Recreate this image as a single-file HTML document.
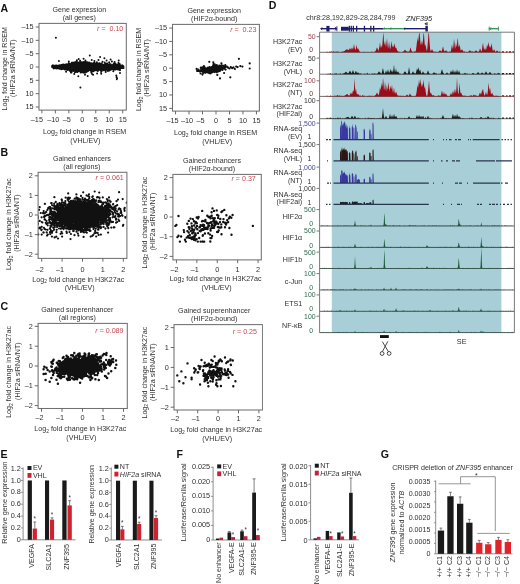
<!DOCTYPE html>
<html><head><meta charset="utf-8"><style>html,body{margin:0;padding:0;background:#fff;}svg{display:block;}</style></head>
<body><svg width="520" height="584" viewBox="0 0 520 584">
<g font-family="'Liberation Sans', sans-serif"><text x="0.6" y="11.5" font-size="10.6" font-weight="bold" fill="#111">A</text><clipPath id="cl1"><rect x="39" y="23.4" width="87.3" height="86.7"/></clipPath><g clip-path="url(#cl1)"><path d="M96.7 68.0h0M116.2 64.6h0M107.5 69.3h0M68.0 67.8h0M73.4 66.2h0M114.5 65.6h0M52.2 65.8h0M110.7 65.1h0M109.0 67.8h0M85.4 66.3h0M73.6 64.8h0M71.8 66.1h0M70.1 69.5h0M83.8 66.3h0M88.0 65.9h0M91.5 69.3h0M123.2 67.3h0M108.7 67.1h0M96.4 66.0h0M122.7 66.0h0M67.3 65.4h0M63.3 66.5h0M95.8 66.6h0M55.0 67.3h0M54.4 67.4h0M88.8 67.4h0M85.3 67.5h0M117.6 65.7h0M97.0 63.3h0M88.7 66.0h0M87.5 65.1h0M69.6 66.0h0M52.7 66.8h0M65.6 65.5h0M101.5 65.3h0M66.2 66.9h0M78.3 67.3h0M52.1 66.5h0M111.4 67.7h0M62.9 66.8h0M71.0 65.3h0M115.0 67.1h0M88.4 70.6h0M112.6 66.1h0M97.7 69.0h0M105.0 69.0h0M58.4 68.2h0M90.6 65.6h0M88.2 70.9h0M114.3 67.2h0M77.7 66.4h0M94.7 66.6h0M56.1 67.5h0M79.6 67.1h0M75.0 66.6h0M62.6 68.3h0M110.4 66.0h0M79.0 64.7h0M122.0 67.5h0M94.1 68.2h0M95.2 68.9h0M97.6 65.2h0M100.3 68.8h0M62.7 67.5h0M83.4 70.9h0M69.0 65.1h0M80.7 67.5h0M58.8 66.8h0M121.2 65.9h0M67.3 66.0h0M100.0 68.8h0M73.4 66.1h0M114.5 66.0h0M99.3 68.5h0M61.3 67.9h0M112.4 68.3h0M119.6 65.9h0M116.6 66.9h0M92.7 68.8h0M62.3 66.3h0M65.6 66.1h0M118.4 68.1h0M91.4 69.7h0M64.8 65.7h0M115.2 63.5h0M97.8 64.5h0M92.7 65.3h0M78.8 66.7h0M81.3 68.4h0M69.0 66.8h0M54.6 66.5h0M114.7 67.2h0M85.4 65.0h0M91.1 66.9h0M74.9 65.7h0M105.7 70.8h0M53.7 67.6h0M78.5 65.1h0M54.0 66.3h0M60.7 66.6h0M121.2 65.9h0M99.0 65.8h0M82.5 65.3h0M89.4 68.6h0M114.4 66.4h0M76.5 65.3h0M94.2 64.7h0M100.9 65.1h0M77.3 66.9h0M89.1 66.6h0M106.7 68.6h0M117.0 66.2h0M62.7 68.1h0M118.8 67.3h0M52.2 67.0h0M105.8 64.1h0M110.0 65.2h0M61.7 67.7h0M81.9 70.2h0M110.3 67.3h0M52.9 67.5h0M96.9 66.3h0M108.7 66.5h0M88.6 65.7h0M103.9 68.4h0M68.1 67.5h0M66.1 66.7h0M77.9 66.3h0M64.7 67.6h0M76.7 67.7h0M119.8 65.9h0M92.9 69.9h0M76.2 67.5h0M71.3 67.0h0M120.1 68.0h0M83.7 69.3h0M122.1 66.9h0M88.8 68.0h0M89.2 65.0h0M116.1 66.1h0M105.1 63.7h0M93.5 69.1h0M82.4 62.7h0M114.8 67.9h0M81.4 65.1h0M118.0 65.7h0M56.8 66.8h0M82.7 67.6h0M89.1 68.1h0M120.0 69.4h0M69.8 67.6h0M109.6 68.2h0M100.3 66.0h0M103.3 68.1h0M97.0 67.3h0M121.5 66.7h0M75.7 66.8h0M80.4 66.9h0M66.4 67.2h0M55.5 67.3h0M67.1 66.3h0M117.5 66.0h0M112.1 68.0h0M59.9 65.5h0M95.1 65.9h0M86.2 70.2h0M94.5 62.4h0M99.1 65.8h0M73.8 68.3h0M120.8 65.9h0M85.2 72.6h0M96.9 62.6h0M97.4 69.5h0M65.0 68.8h0M56.3 67.7h0M81.3 66.5h0M106.6 67.5h0M110.3 65.8h0M104.2 68.2h0M60.0 66.0h0M117.3 66.6h0M109.3 68.4h0M114.8 65.5h0M89.4 66.3h0M117.5 67.2h0M55.2 66.0h0M54.0 67.8h0M53.3 67.2h0M70.0 64.6h0M69.7 66.9h0M65.3 66.1h0M92.5 65.9h0M54.6 67.1h0M94.2 65.8h0M63.7 68.0h0M100.4 65.9h0M53.4 67.7h0M74.1 66.9h0M119.1 68.1h0M90.4 66.1h0M110.0 66.3h0M99.0 65.0h0M95.6 68.0h0M65.6 68.1h0M93.0 70.6h0M54.7 67.9h0M109.3 67.3h0M120.7 66.9h0M113.1 67.5h0M55.5 67.0h0M76.1 70.1h0M74.6 68.9h0M59.9 66.3h0M96.8 65.8h0M109.0 68.9h0M74.3 67.6h0M113.7 66.7h0M109.0 68.6h0M61.1 66.6h0M106.8 66.6h0M115.1 66.4h0M66.0 64.6h0M93.0 68.5h0M97.6 64.9h0M95.5 66.0h0M58.7 66.4h0M99.2 68.2h0M97.1 66.9h0M110.9 67.0h0M109.4 64.7h0M75.3 66.8h0M103.6 64.8h0M114.0 67.4h0M115.9 67.5h0M63.4 67.0h0M53.8 68.5h0M98.5 67.9h0M67.2 67.8h0M92.3 67.2h0M119.6 66.7h0M79.0 69.2h0M70.0 68.8h0M84.6 64.2h0M99.0 68.8h0M59.1 67.4h0M79.1 69.2h0M61.4 67.4h0M99.3 64.9h0M111.4 65.4h0M78.9 71.1h0M78.5 67.6h0M90.5 64.5h0M67.3 67.5h0M69.6 66.4h0M75.5 63.2h0M84.6 62.0h0M57.7 65.7h0M105.8 67.4h0M93.4 66.9h0M73.3 66.5h0M57.4 67.2h0M106.6 67.9h0M61.2 65.0h0M61.4 66.7h0M61.2 66.2h0M57.7 66.0h0M116.8 66.3h0M71.1 66.8h0M73.8 66.5h0M111.5 65.0h0M96.3 66.2h0M65.3 69.4h0M83.0 64.6h0M115.2 64.7h0M78.8 67.6h0M102.8 67.9h0M58.8 67.4h0M104.0 65.3h0M107.5 68.4h0M111.0 65.9h0M100.2 65.1h0M78.4 65.6h0M56.4 66.9h0M89.0 68.3h0M106.1 67.9h0M65.5 67.0h0M70.9 68.6h0M90.3 67.1h0M105.5 68.3h0M116.1 65.1h0M60.9 65.5h0M65.1 67.9h0M109.2 65.1h0M98.1 66.5h0M103.5 66.9h0M123.3 66.7h0M119.2 66.4h0M112.3 68.9h0M107.6 63.5h0M80.2 69.0h0M97.8 70.9h0M65.1 67.0h0M106.3 67.0h0M106.2 68.0h0M103.6 69.7h0M83.7 64.4h0M79.0 67.2h0M81.9 66.6h0M54.2 67.4h0M112.4 67.2h0M90.7 68.1h0M79.6 66.0h0M91.1 67.1h0M103.6 66.0h0M79.2 65.5h0M111.4 66.8h0M117.8 66.8h0M79.6 64.4h0M61.7 68.5h0M106.4 66.8h0M123.0 66.1h0M62.5 68.1h0M102.9 65.9h0M111.0 67.7h0M117.8 67.0h0M60.7 67.2h0M58.4 67.1h0M122.7 66.6h0M60.2 67.0h0M64.5 69.3h0M93.1 63.2h0M83.8 67.1h0M105.6 67.6h0M65.5 65.7h0M117.4 65.2h0M67.4 69.9h0M107.0 66.5h0M56.7 68.6h0M85.8 68.1h0M54.2 67.1h0M74.3 67.9h0M74.2 68.3h0M103.4 68.8h0M84.5 67.9h0M55.9 67.1h0M123.2 67.1h0M115.6 68.8h0M117.5 68.1h0M69.5 65.4h0M80.1 65.6h0M68.1 67.5h0M60.8 66.4h0M54.2 66.7h0M87.9 65.1h0M60.7 66.8h0M64.5 67.5h0M113.5 68.3h0M86.6 67.0h0M65.0 69.4h0M99.9 66.9h0M70.9 72.4h0M89.6 68.8h0M72.1 67.9h0M88.8 66.1h0M96.9 62.2h0M90.3 66.7h0M80.2 67.4h0M108.5 69.7h0M114.5 65.1h0M64.7 69.2h0M61.6 66.8h0M60.0 67.6h0M122.1 65.3h0M119.3 67.2h0M68.4 66.5h0M121.4 67.5h0M66.7 67.1h0M88.2 64.8h0M87.5 68.9h0M117.4 67.9h0M54.8 67.4h0M74.5 69.0h0M94.9 68.9h0M56.6 67.0h0M68.8 65.0h0M85.2 64.0h0M115.0 68.8h0M106.4 68.0h0M111.3 67.1h0M106.4 66.4h0M102.6 67.0h0M112.8 67.0h0M100.7 66.5h0M104.6 66.0h0M73.5 71.1h0M63.9 67.2h0M106.1 66.1h0M63.7 65.6h0M117.8 66.0h0M94.6 68.2h0M75.5 68.6h0M119.0 66.7h0M63.0 67.1h0M88.7 66.4h0M58.4 66.1h0M121.1 67.9h0M93.1 67.6h0M109.5 70.4h0M72.1 65.7h0M109.3 66.8h0M102.2 68.4h0M98.0 66.6h0M120.0 65.1h0M82.9 64.9h0M81.6 67.2h0M101.5 67.5h0M111.7 66.9h0M75.9 69.1h0M99.9 68.6h0M66.8 67.4h0M91.4 67.0h0M107.0 66.6h0M56.5 67.4h0M104.0 68.4h0M53.0 67.0h0M120.5 67.3h0M85.4 66.3h0M81.2 63.8h0M103.5 65.5h0M89.4 68.4h0M104.2 67.7h0M57.9 68.3h0M92.2 67.1h0M91.9 68.5h0M118.7 68.8h0M54.7 67.7h0M84.3 65.7h0M97.1 66.7h0M91.3 67.2h0M57.2 66.2h0M94.4 67.8h0M67.8 68.4h0M65.9 66.4h0M114.8 69.6h0M66.0 66.6h0M84.4 66.6h0M105.6 66.7h0M102.6 65.9h0M91.5 67.7h0M109.7 67.0h0M85.2 70.6h0M96.3 68.0h0M110.6 67.7h0M100.5 66.6h0M97.9 64.6h0M81.0 66.8h0M91.9 65.5h0M80.2 69.2h0M105.2 67.0h0M79.1 70.7h0M85.3 68.6h0M106.0 68.2h0M88.0 67.4h0M76.1 67.4h0M111.1 67.9h0M79.2 69.1h0M112.4 66.0h0M108.1 67.7h0M83.9 72.8h0M103.0 66.9h0M54.3 66.8h0M79.8 65.4h0M113.5 65.0h0M93.4 69.0h0M91.8 67.1h0M99.5 67.5h0M100.4 70.0h0M93.7 71.3h0M82.0 65.0h0M65.0 68.2h0M72.8 68.2h0M72.8 67.7h0M82.7 68.1h0M123.5 67.0h0M77.1 70.4h0M83.9 68.4h0M78.5 67.8h0M93.5 69.1h0M119.8 68.2h0M115.6 67.6h0M78.9 67.7h0M71.0 70.0h0M115.2 67.7h0M87.2 66.8h0M101.0 65.6h0M57.1 66.7h0M114.0 65.6h0M74.3 67.2h0M87.3 67.5h0M66.0 64.4h0M82.0 67.0h0M111.2 67.9h0M111.2 67.2h0M85.8 65.0h0M106.9 68.8h0M84.7 65.5h0M78.6 64.3h0M91.0 65.1h0M66.3 67.0h0M74.5 69.0h0M102.5 68.8h0M107.1 67.3h0M55.9 66.1h0M104.4 66.0h0M110.4 65.8h0M83.8 66.6h0M56.3 65.6h0M100.8 67.2h0M69.5 68.0h0M98.0 66.7h0M78.8 68.0h0M97.5 65.4h0M70.4 64.6h0M86.0 65.7h0M89.5 69.1h0M97.1 68.8h0M66.4 66.4h0M120.8 67.8h0M72.6 66.4h0M73.8 69.9h0M70.2 67.8h0M56.7 66.6h0M82.2 68.8h0M107.2 65.9h0M102.7 65.6h0M65.9 65.2h0M61.7 67.2h0M74.9 66.9h0M106.9 66.9h0M86.8 66.2h0M118.0 68.9h0M98.9 66.3h0M96.4 65.8h0M106.9 68.8h0M105.6 69.0h0M76.5 67.7h0M70.3 64.2h0M83.2 65.7h0M86.9 68.2h0M62.0 67.0h0M83.5 70.5h0M97.7 64.7h0M61.6 67.6h0M61.7 66.4h0M64.3 68.5h0M72.2 66.9h0M120.8 67.7h0M53.7 66.5h0M65.0 65.4h0M63.7 65.8h0M85.9 65.7h0M52.9 66.3h0M84.7 69.6h0M63.5 68.4h0M71.2 67.5h0M108.7 65.6h0M65.0 66.9h0M96.1 65.8h0M81.0 70.3h0M81.8 67.7h0M110.4 67.7h0M63.4 66.6h0M118.1 64.3h0M115.9 66.0h0M99.8 65.2h0M55.4 67.3h0M99.4 67.2h0M94.9 65.6h0M107.2 66.5h0M67.2 69.1h0M120.2 66.4h0M115.4 65.8h0M60.0 66.8h0M74.4 65.6h0M54.2 66.7h0M111.4 67.7h0M117.4 69.3h0M122.8 65.8h0M95.7 67.0h0M99.6 67.1h0M100.5 66.9h0M92.7 66.7h0M120.1 66.8h0M95.4 68.7h0M75.9 66.0h0M88.6 66.8h0M53.2 67.0h0M103.8 67.2h0M101.6 66.7h0M82.0 69.3h0M112.9 67.0h0M106.0 67.2h0M76.0 66.9h0M57.4 66.2h0M61.3 66.2h0M65.1 65.8h0M73.6 67.4h0M83.9 65.4h0M118.4 65.6h0M71.8 67.4h0M116.3 67.7h0M100.6 64.2h0M113.0 69.3h0M80.8 67.1h0M52.1 66.9h0M108.3 68.5h0M69.4 67.1h0M62.1 66.4h0M109.2 70.0h0M101.0 65.3h0M67.1 66.9h0M71.0 68.4h0M119.2 65.6h0M71.1 66.8h0M102.2 67.6h0M61.1 69.2h0M110.3 65.8h0M60.3 67.0h0M88.8 68.2h0M54.4 67.1h0M91.3 64.9h0M112.5 67.6h0M57.9 67.1h0M71.5 67.8h0M106.7 68.6h0M95.4 68.7h0M74.3 67.8h0M96.9 67.5h0M84.4 64.6h0M113.7 66.8h0M72.8 67.4h0M106.2 66.4h0M97.4 67.2h0M104.9 65.8h0M79.0 70.4h0M103.8 70.2h0M101.9 66.4h0M79.6 67.9h0M53.7 66.8h0M120.9 67.8h0M103.0 67.7h0M66.5 67.1h0M104.2 66.7h0M71.8 67.2h0M85.5 64.9h0M113.5 67.9h0M84.0 65.4h0M72.5 68.0h0M73.7 67.3h0M57.4 67.9h0M67.6 67.0h0M71.3 68.8h0M64.2 66.0h0M56.4 67.5h0M85.2 66.5h0M67.2 67.3h0M104.8 67.1h0M118.0 68.3h0M71.4 63.5h0M92.9 67.6h0M88.2 64.1h0M57.2 68.0h0M60.8 65.2h0M115.3 65.7h0M85.8 63.5h0M109.5 69.2h0M56.6 66.0h0M94.5 67.2h0M113.9 66.3h0M114.0 64.6h0M52.3 66.8h0M89.2 68.2h0M78.3 66.6h0M106.3 68.3h0M57.1 66.7h0M70.8 67.0h0M110.1 66.5h0M85.5 67.7h0M84.3 71.2h0M121.3 67.2h0M74.8 67.4h0M54.8 66.5h0M80.0 65.3h0M62.8 68.5h0M57.7 66.1h0M92.6 65.4h0M120.2 66.9h0M93.4 66.3h0M98.2 70.4h0M75.0 62.2h0M92.8 67.6h0M105.8 68.0h0M94.1 65.1h0M109.4 66.1h0M91.3 67.7h0M66.1 69.0h0M93.6 65.4h0M87.0 63.8h0M63.7 68.1h0M96.2 69.6h0M110.4 66.5h0M61.5 64.9h0M90.9 69.5h0M104.4 66.7h0M80.7 69.5h0M71.2 66.9h0M78.5 66.2h0M90.7 66.2h0M101.1 69.3h0M91.9 69.5h0M59.5 65.2h0M110.5 65.7h0M118.1 69.4h0M59.1 66.7h0M69.7 64.9h0M64.3 67.0h0M112.7 66.9h0M117.1 66.9h0M55.0 66.6h0M75.7 66.4h0M65.6 66.4h0M85.5 67.7h0M117.9 65.9h0M56.9 66.8h0M64.1 66.8h0M86.8 69.7h0M89.4 67.7h0M105.3 66.8h0M83.2 68.2h0M62.0 67.4h0M77.2 69.4h0M122.2 67.3h0M105.7 69.6h0M60.2 68.2h0M109.8 66.9h0M74.1 66.2h0M107.9 68.2h0M52.8 67.4h0M114.3 66.9h0M63.5 65.4h0M84.5 63.0h0M99.3 67.6h0M88.3 68.5h0M63.7 67.9h0M61.8 65.8h0M72.2 68.9h0M55.6 66.6h0M67.4 67.5h0M61.2 67.4h0M85.2 65.3h0M77.4 65.7h0M93.9 63.5h0M72.0 65.4h0M54.3 65.7h0M75.6 67.9h0M106.0 67.1h0M70.2 68.5h0M80.8 67.8h0M106.0 66.1h0M81.0 67.8h0M115.4 66.5h0M117.7 67.8h0M74.1 67.6h0M104.6 65.6h0M70.0 67.0h0M61.8 67.1h0M83.2 66.3h0M95.0 68.5h0M118.9 69.3h0M62.3 66.6h0M102.9 66.5h0M85.9 62.3h0M61.3 66.9h0M121.6 66.7h0M101.7 63.6h0M61.1 67.3h0M116.8 67.8h0M59.2 66.4h0M58.5 66.7h0M75.6 65.0h0M119.1 68.0h0M54.2 65.9h0M117.7 66.6h0M95.7 70.3h0M56.7 67.0h0M92.6 67.8h0M84.7 66.7h0M92.3 65.0h0M104.7 67.0h0M100.5 67.7h0M123.3 66.3h0M63.1 67.4h0M110.1 68.7h0M81.3 69.4h0M108.0 64.8h0M115.8 65.7h0M123.0 65.9h0M70.9 68.8h0M84.3 68.3h0M119.4 67.9h0M119.6 65.8h0M78.6 64.4h0M119.2 67.1h0M80.9 67.2h0M78.7 65.1h0M106.1 67.2h0M85.6 68.4h0M84.0 67.5h0M79.5 64.7h0M82.9 62.3h0M61.9 66.7h0M56.2 67.1h0M105.9 66.6h0M92.3 66.3h0M100.0 65.9h0M109.4 68.0h0M68.3 66.9h0M68.6 67.2h0M71.8 65.3h0M73.6 65.8h0M106.4 67.2h0M78.7 64.8h0M75.0 64.4h0M97.5 66.4h0M65.2 68.4h0M59.5 67.2h0M101.8 69.3h0M106.1 66.8h0M73.1 66.4h0M97.4 64.6h0M54.3 66.6h0M80.8 70.3h0M93.3 67.6h0M70.0 68.2h0M76.8 68.5h0M95.5 67.0h0M94.1 66.7h0M62.9 67.1h0M102.5 68.0h0M57.6 67.4h0M121.4 67.3h0M66.4 67.2h0M70.0 65.8h0M66.2 66.7h0M122.9 66.4h0M72.4 68.8h0M95.2 63.4h0M122.9 66.9h0M120.0 70.2h0M54.9 66.7h0M89.2 64.9h0M95.0 67.0h0M102.2 69.0h0M75.9 66.7h0M75.4 68.3h0M52.2 67.1h0M54.4 66.7h0M91.3 72.4h0M57.3 67.1h0M66.4 66.3h0M75.7 66.0h0M56.9 67.3h0M54.1 67.3h0M118.3 68.0h0M83.0 67.3h0M66.5 65.2h0M102.6 67.8h0M52.5 66.8h0M69.4 66.6h0M120.7 66.0h0M116.2 66.2h0M97.4 65.8h0M58.5 67.0h0M74.6 64.1h0M53.8 67.0h0M67.6 67.2h0M53.7 66.2h0M60.9 66.4h0M97.2 65.5h0M59.0 67.8h0M63.0 64.4h0M116.6 66.5h0M75.9 63.5h0M75.7 66.1h0M58.1 67.7h0M108.9 66.1h0M100.3 67.2h0M91.1 65.5h0M96.1 70.3h0M59.0 67.8h0M70.5 68.8h0M93.7 64.7h0M120.1 66.3h0M110.4 68.5h0M97.8 66.7h0M89.0 66.5h0M52.9 67.2h0M115.7 65.3h0M56.6 67.6h0M61.1 67.0h0M101.5 67.8h0M110.1 66.1h0M108.2 67.7h0M84.3 65.5h0M64.5 68.1h0M54.4 67.8h0M112.9 68.2h0M121.9 67.3h0M69.3 68.0h0M113.9 63.4h0M80.7 68.9h0M74.2 66.5h0M88.1 67.2h0M52.4 66.8h0M83.6 63.9h0M66.2 66.3h0M102.9 68.0h0M87.9 69.8h0M114.1 66.2h0M116.1 65.8h0M74.6 69.9h0M71.9 65.4h0M119.2 69.8h0M88.0 67.1h0M58.8 66.3h0M55.1 67.7h0M122.8 68.1h0M93.4 64.6h0M55.8 68.2h0M88.5 66.5h0M88.0 69.9h0M83.1 66.1h0M120.0 65.9h0M119.9 67.7h0M60.8 67.9h0M62.7 69.1h0M81.1 70.9h0M111.6 67.9h0M96.6 66.6h0M104.2 66.2h0M93.1 66.5h0M66.9 65.9h0M110.5 66.6h0M52.9 65.2h0M101.9 67.3h0M65.8 67.0h0M85.6 72.4h0M121.8 67.5h0M90.5 66.2h0M55.9 67.4h0M82.6 64.2h0M99.2 66.0h0M55.9 65.6h0M70.0 69.3h0M53.2 67.4h0M90.6 65.0h0M79.2 66.9h0M88.0 68.8h0M73.1 67.9h0M98.9 67.7h0M64.3 66.0h0M116.8 66.1h0M120.7 67.1h0M87.2 68.8h0M85.2 65.2h0M113.5 65.5h0M72.6 69.1h0M109.4 65.7h0M72.4 69.0h0M103.5 67.4h0M75.8 68.8h0M95.0 70.0h0M118.2 67.9h0M55.7 67.6h0M109.7 65.7h0M90.7 65.8h0M79.0 68.4h0M77.0 70.3h0M56.8 68.1h0M70.4 70.8h0M96.5 67.5h0M58.8 67.2h0M99.8 68.7h0M120.8 67.0h0M122.2 67.0h0M115.6 65.6h0M109.7 68.4h0M64.6 65.8h0M121.4 67.3h0M66.4 65.2h0M64.8 68.3h0M79.4 64.7h0M84.3 68.8h0M89.3 64.1h0M78.3 66.0h0M89.5 69.1h0M79.8 65.2h0M78.7 67.1h0M85.0 66.0h0M89.6 62.8h0M76.4 67.7h0M77.3 67.9h0M78.1 64.6h0M80.4 68.3h0M71.1 65.7h0M89.3 65.2h0M75.8 67.0h0M84.0 65.5h0M71.8 71.0h0M83.0 63.5h0M83.3 68.6h0M75.6 69.1h0M98.7 63.6h0M83.1 63.1h0M96.4 68.0h0M88.7 66.1h0M73.4 67.7h0M76.0 69.4h0M83.7 66.2h0M80.2 64.6h0M80.1 60.8h0M76.9 67.4h0M62.5 66.1h0M77.5 67.7h0M58.7 67.2h0M83.1 63.9h0M72.8 70.2h0M72.9 69.0h0M77.5 68.9h0M82.2 64.3h0M66.1 66.5h0M63.1 66.4h0M69.5 66.4h0M60.3 66.0h0M70.5 67.7h0M94.6 67.4h0M69.6 67.6h0M85.7 65.9h0M66.7 68.7h0M82.4 67.4h0M76.6 61.2h0M79.0 65.6h0M85.0 66.9h0M96.2 68.6h0M81.4 66.3h0M80.8 66.4h0M70.4 65.9h0M85.1 68.4h0M77.3 66.0h0M87.5 65.8h0M79.2 65.3h0M96.0 67.9h0M60.9 66.5h0M76.8 63.4h0M87.9 68.2h0M76.3 65.5h0M72.1 67.6h0M77.1 67.8h0M66.6 68.6h0M80.7 69.4h0M102.6 66.1h0M90.4 66.7h0M69.1 65.0h0M71.4 69.9h0M75.8 67.9h0M89.1 69.6h0M71.9 66.4h0M73.1 63.2h0M88.0 70.0h0M87.8 67.2h0M76.1 67.3h0M69.1 67.1h0M65.0 67.8h0M73.0 68.0h0M58.6 65.7h0M86.7 69.2h0M73.7 66.0h0M84.1 66.0h0M97.2 70.0h0M90.7 68.6h0M68.7 66.5h0M87.8 63.4h0M90.5 67.3h0M72.6 68.0h0M70.6 66.9h0M78.6 64.2h0M64.5 66.1h0M93.5 64.9h0M56.9 67.2h0M69.2 68.2h0M77.1 69.2h0M77.5 65.4h0M81.2 67.5h0M82.2 68.3h0M77.6 65.9h0M90.3 66.7h0M59.4 68.8h0M79.6 67.5h0M72.9 68.6h0M80.9 66.0h0M81.7 67.1h0M71.0 64.1h0M73.6 67.0h0M87.1 69.4h0M82.9 71.7h0M73.2 69.3h0M98.8 68.2h0M101.4 67.1h0M65.8 66.3h0M82.5 66.6h0M103.3 67.9h0M87.0 65.4h0M81.7 69.1h0M77.6 64.8h0M74.5 63.5h0M77.6 64.8h0M74.4 63.7h0M86.6 64.2h0M75.8 69.4h0M75.4 66.6h0M68.3 67.3h0M79.1 69.6h0M71.2 69.1h0M77.9 65.9h0M89.4 69.4h0M83.1 67.9h0M84.4 67.0h0M83.0 68.0h0M80.2 63.8h0M78.4 65.3h0M76.7 66.8h0M86.8 68.2h0M69.4 66.4h0M92.3 66.8h0M79.9 69.2h0M72.5 69.6h0M75.0 68.6h0M73.2 69.4h0M81.1 66.1h0M72.8 66.4h0M90.4 67.6h0M72.2 66.5h0M58.2 66.6h0M72.7 70.0h0M60.7 66.8h0M79.2 64.8h0M89.6 67.9h0M85.7 70.9h0M67.0 67.1h0M72.4 69.2h0M96.4 66.3h0M82.6 65.9h0M79.6 65.4h0M89.6 66.7h0M102.7 69.8h0M91.8 65.0h0M80.9 70.7h0M83.0 64.7h0M85.4 66.5h0M73.8 68.6h0M69.6 68.0h0M80.1 67.6h0M70.7 64.3h0M79.0 67.8h0M80.5 64.7h0M101.7 71.0h0M71.6 66.6h0M78.5 67.4h0M78.1 64.5h0M83.7 65.9h0M89.5 64.7h0M75.0 69.0h0M71.9 66.5h0M64.1 67.6h0M70.9 65.9h0M84.7 65.9h0M80.0 69.9h0M70.0 65.4h0M76.1 63.2h0M79.9 67.9h0M84.4 64.5h0M74.0 66.1h0M77.2 69.0h0M62.5 66.2h0M68.7 68.3h0M94.9 65.8h0M59.0 68.3h0M76.4 69.8h0M81.7 65.9h0M76.1 66.6h0M72.0 65.5h0M79.0 67.4h0M79.6 69.6h0M78.8 63.8h0M61.9 67.9h0M78.2 64.1h0M71.5 65.5h0M74.4 63.4h0M81.7 71.8h0M85.6 67.1h0M88.1 67.5h0M74.9 65.6h0M88.3 69.0h0M90.7 63.4h0M90.3 67.0h0M92.7 70.8h0M78.2 66.2h0M78.0 67.0h0M87.4 68.3h0M66.7 65.9h0M81.6 67.1h0M74.6 68.9h0M76.1 67.4h0M63.2 67.4h0M71.2 66.4h0M79.4 67.7h0M88.0 67.1h0M88.9 69.7h0M78.8 68.6h0M77.8 66.5h0M71.8 62.7h0M83.4 68.6h0M77.3 68.6h0M85.3 65.0h0M96.1 63.6h0M79.3 64.4h0M65.5 68.1h0M71.5 65.2h0M65.9 66.4h0M68.3 67.3h0M91.9 69.1h0M81.7 67.0h0M65.3 66.9h0M85.8 65.8h0M91.5 69.8h0M76.2 69.3h0M73.2 66.8h0M76.4 64.0h0M82.3 65.2h0M85.6 68.2h0M90.8 65.8h0M91.0 68.5h0M90.8 67.6h0M92.5 67.5h0M85.8 68.4h0M65.2 67.6h0M78.4 65.1h0M82.6 66.3h0M76.0 71.9h0M88.2 64.7h0M76.2 66.0h0M70.9 68.8h0M93.2 66.7h0M85.9 65.3h0M81.7 64.0h0M88.3 68.0h0M89.6 68.8h0M82.8 70.1h0M56.4 67.0h0M73.2 69.0h0M75.3 64.9h0M70.3 67.3h0M81.5 65.5h0M90.9 67.3h0M75.0 68.5h0M68.9 68.6h0M98.7 65.3h0M75.3 69.6h0M68.0 66.3h0M81.8 64.7h0M83.6 66.6h0M73.0 64.3h0M87.1 67.0h0M75.0 67.6h0M70.9 66.7h0M81.3 68.2h0M86.9 66.4h0M73.6 67.0h0M82.7 63.8h0M78.7 67.1h0M106.2 65.8h0M72.9 66.2h0M92.7 66.8h0M79.1 67.4h0M78.4 63.3h0M86.4 63.8h0M88.0 66.4h0M91.6 67.8h0M82.7 67.8h0M73.9 68.7h0M74.5 69.6h0M84.4 68.1h0M85.1 67.0h0M92.8 65.2h0M83.6 64.9h0M89.6 66.2h0M93.9 67.5h0M81.2 67.5h0M65.6 67.0h0M68.5 66.8h0M66.0 67.8h0M94.6 67.4h0M71.6 67.5h0M91.2 67.5h0M85.1 65.8h0M95.8 65.2h0M89.1 67.9h0M78.6 67.9h0M77.7 66.5h0M80.4 66.1h0M81.3 72.2h0M74.6 65.5h0M79.3 66.5h0M94.8 67.5h0M63.5 65.8h0M82.0 67.3h0M71.1 70.0h0M81.4 69.1h0M87.5 68.3h0M79.1 68.3h0M86.9 67.2h0M64.6 68.1h0M90.0 66.7h0M73.9 66.2h0M85.5 67.2h0M81.3 69.1h0M55.2 67.2h0M72.5 68.2h0M81.7 62.4h0M94.3 69.0h0M82.3 72.3h0M82.0 70.0h0M66.3 66.6h0M93.1 65.6h0M96.7 67.5h0M79.9 64.8h0M77.5 68.6h0M64.3 66.4h0M87.9 68.9h0M105.1 69.0h0M86.4 62.8h0M91.5 67.5h0M84.7 65.5h0M70.3 64.7h0M92.2 65.9h0M68.0 66.7h0M77.6 69.3h0M82.2 63.6h0M87.9 69.0h0M83.5 71.5h0M83.3 68.3h0M72.4 68.0h0M67.4 67.0h0M80.2 64.3h0M72.9 68.0h0M67.3 67.5h0M67.7 68.0h0M75.0 72.2h0M62.1 67.7h0M66.9 67.6h0M64.2 68.7h0M81.3 64.0h0M83.5 64.5h0M98.5 66.4h0M65.5 66.2h0M73.2 68.3h0M88.2 66.4h0M77.6 70.8h0M76.5 70.2h0M95.7 68.3h0M76.4 66.2h0M68.7 67.9h0M67.2 68.1h0M82.8 64.6h0M82.5 67.8h0M66.7 67.9h0M70.3 67.4h0M84.6 70.4h0M85.1 69.6h0M73.5 65.4h0M85.5 67.3h0M85.0 65.2h0M62.8 67.6h0M76.7 65.1h0M83.5 69.0h0M74.2 67.8h0M59.4 67.8h0M76.9 66.7h0M86.7 64.0h0M94.5 70.0h0M58.9 66.9h0M104.3 69.0h0M69.0 67.6h0M88.6 68.3h0M91.2 70.2h0M88.9 67.6h0M81.0 70.2h0M68.6 64.8h0M85.5 68.8h0M72.9 66.6h0M55.8 66.9h0M106.3 67.0h0M86.3 67.7h0M96.8 69.8h0M71.0 63.9h0M93.4 67.1h0M94.6 65.8h0M94.3 69.0h0M79.4 66.0h0M68.3 67.7h0M77.9 66.1h0M58.8 67.6h0M63.6 68.1h0M80.5 66.1h0M70.3 67.1h0M78.1 63.9h0M78.6 67.7h0M97.8 68.5h0M91.8 66.0h0M79.2 69.5h0M91.0 63.4h0M72.3 63.7h0M76.4 64.1h0M88.2 66.1h0M67.9 67.0h0M77.0 66.8h0M67.1 66.9h0M80.7 68.6h0M95.0 66.2h0M72.5 64.7h0M81.7 64.2h0M71.1 70.6h0M68.8 63.5h0M67.9 66.8h0M93.3 69.5h0M101.9 67.7h0M84.2 65.2h0M72.8 67.0h0M86.3 68.8h0M76.5 69.6h0M87.2 65.2h0M82.3 68.7h0M82.2 67.6h0M85.3 69.4h0M74.1 69.7h0M75.8 66.3h0M63.4 65.5h0M75.4 67.8h0M66.2 69.2h0M78.2 68.5h0M70.6 67.4h0M80.6 72.4h0M83.9 64.7h0M66.2 68.1h0M71.9 66.0h0M70.7 67.1h0M86.6 67.2h0M95.7 69.6h0M87.6 65.2h0M76.3 65.9h0M93.4 64.3h0M65.3 67.6h0M93.7 66.2h0M73.4 67.8h0M53.4 66.2h0M104.6 66.5h0M94.5 68.8h0M69.9 66.7h0M81.2 68.4h0M77.6 68.2h0M80.6 66.2h0M65.6 65.1h0M73.2 68.9h0M84.0 67.4h0M81.7 69.2h0M90.9 63.5h0M80.4 63.3h0M101.8 63.7h0M72.9 65.4h0M82.1 69.4h0M61.5 67.5h0M67.8 67.0h0M92.1 67.2h0M70.7 68.3h0M84.6 66.3h0M79.0 67.9h0M69.8 67.2h0M76.3 62.4h0M74.8 66.2h0M75.0 69.8h0M86.7 66.2h0M85.8 66.7h0M74.2 65.8h0M71.0 66.2h0M82.3 69.5h0M78.7 66.4h0M89.3 65.1h0M104.7 62.5h0M87.6 65.9h0M79.3 62.6h0M78.0 63.0h0M71.5 68.4h0M71.1 68.2h0M70.1 63.9h0M75.9 68.8h0M75.6 68.0h0M86.6 65.4h0M75.8 68.5h0M77.7 63.4h0M68.1 65.3h0M95.1 64.6h0M84.4 64.6h0M96.5 68.5h0M87.1 64.3h0M93.7 65.0h0M77.3 64.9h0M86.4 67.4h0M105.1 66.5h0M68.1 68.2h0M90.7 65.8h0M95.6 64.8h0M83.6 65.9h0M86.8 67.1h0M91.7 65.4h0M73.3 67.5h0M83.5 71.0h0M71.2 66.0h0M73.1 67.1h0M73.6 69.6h0M78.2 65.5h0M81.0 65.1h0M84.0 64.6h0M65.9 67.5h0M98.7 67.9h0M90.8 66.7h0M86.6 67.1h0M76.1 69.6h0M78.7 68.9h0M84.9 63.9h0M83.6 66.9h0M63.4 67.1h0M86.8 68.4h0M107.8 66.7h0M61.7 66.4h0M89.2 66.1h0M83.2 63.0h0M78.5 66.9h0M92.9 65.9h0M68.2 67.6h0M81.2 64.6h0M93.8 66.2h0M77.7 64.8h0M75.6 64.7h0M80.7 68.5h0M75.3 66.0h0M94.6 67.7h0M70.8 65.1h0M88.1 67.1h0M67.5 64.6h0M86.1 65.9h0M78.6 65.8h0M54.6 67.4h0M79.5 67.3h0M69.3 66.7h0M75.3 68.6h0M94.5 67.3h0M68.8 67.7h0M69.3 68.1h0M93.6 66.8h0M80.7 66.2h0M94.6 67.5h0M82.7 66.0h0M71.0 67.6h0M79.0 69.4h0M91.5 68.4h0M88.7 66.2h0M79.6 64.0h0M80.1 66.8h0M78.5 66.6h0M74.0 69.1h0M98.3 66.3h0M79.7 66.4h0M68.6 68.0h0M75.0 65.9h0M86.6 66.6h0M85.8 70.5h0M78.3 70.2h0M73.1 68.1h0M79.8 67.5h0M63.4 65.9h0M67.0 67.7h0M87.4 67.0h0M75.0 67.4h0M83.2 65.7h0M91.4 66.9h0M85.9 66.5h0M79.8 67.6h0M100.2 69.2h0M86.1 67.7h0M76.2 63.4h0M86.7 64.9h0M83.6 63.4h0M71.3 65.6h0M80.3 68.2h0M78.0 67.8h0M60.5 66.4h0M77.9 67.5h0M76.9 65.3h0M75.4 64.0h0M63.7 65.4h0M76.2 65.1h0M79.2 70.1h0M80.6 63.9h0M68.6 68.7h0M85.7 69.7h0M67.8 66.7h0M77.4 66.8h0M92.3 65.9h0M72.9 66.9h0M74.7 68.2h0M90.0 66.9h0M75.9 69.0h0M76.7 69.4h0M81.7 67.7h0M89.8 67.5h0M58.2 66.9h0M71.6 67.5h0M69.8 65.2h0M69.1 67.5h0M71.3 67.3h0M71.5 65.4h0M82.5 71.7h0M71.0 65.3h0M80.8 64.9h0M83.5 67.5h0M72.5 63.4h0M80.9 65.1h0M95.4 64.3h0M82.7 64.7h0M73.4 66.6h0M79.0 67.6h0M70.8 68.7h0M82.2 68.7h0M87.9 69.2h0M71.7 67.9h0M77.6 65.9h0M90.3 68.8h0M74.8 65.9h0M81.4 65.5h0M69.7 69.3h0M71.7 68.3h0M74.7 67.3h0M100.1 68.1h0M75.7 68.7h0M74.6 64.2h0M74.3 66.7h0M78.0 64.3h0M85.8 67.1h0M81.4 65.4h0M99.0 69.2h0M81.6 68.0h0M93.3 65.5h0M82.2 66.8h0M85.3 64.3h0M66.0 67.0h0M78.4 68.1h0M79.0 67.5h0M77.3 62.7h0M59.3 66.7h0M87.9 67.9h0M76.0 67.5h0M75.5 69.3h0M77.2 64.1h0M77.5 68.0h0M83.4 65.4h0M67.6 67.2h0M70.8 67.6h0M82.3 68.4h0M81.0 65.6h0M76.1 67.3h0M74.2 64.6h0M71.7 64.4h0M79.1 68.1h0M90.7 66.8h0M69.6 64.4h0M94.0 65.5h0M87.6 66.9h0M75.3 70.1h0M87.0 69.0h0M65.8 67.9h0M63.3 65.1h0M67.4 66.8h0M75.7 67.9h0M76.5 67.7h0M74.7 67.7h0M80.5 66.3h0M59.5 68.5h0M84.3 70.1h0M66.2 66.8h0M73.4 65.0h0M75.7 71.1h0M68.7 66.1h0M66.7 68.5h0M70.1 70.0h0M79.5 64.7h0M85.2 67.5h0M84.9 66.1h0M70.2 67.7h0M72.1 67.5h0M70.9 70.2h0M83.8 68.2h0M60.4 66.9h0M91.3 68.8h0M75.0 66.3h0M72.2 66.2h0M82.8 71.9h0M89.3 65.4h0M82.8 65.8h0M89.5 67.0h0M80.9 64.5h0M91.2 63.3h0M91.3 68.7h0M78.7 65.1h0M93.2 66.0h0M81.2 66.0h0M80.4 64.6h0M70.9 65.1h0M76.9 67.2h0M86.9 71.7h0M67.2 67.9h0M85.7 68.5h0M82.9 63.5h0M82.2 66.8h0M58.8 66.0h0M78.6 68.6h0M85.7 66.4h0M72.4 67.0h0M80.5 66.7h0M57.2 66.5h0M85.9 63.7h0M73.4 68.0h0M87.8 64.2h0M62.2 65.8h0M86.1 66.3h0M77.4 65.3h0M87.2 67.4h0M70.9 68.6h0M73.8 67.4h0M100.8 67.2h0M71.8 66.9h0M72.9 68.5h0M77.0 62.9h0M70.0 67.5h0M90.8 65.3h0M95.9 64.8h0M73.0 66.9h0M63.3 66.5h0M90.7 67.9h0M90.1 68.8h0M87.4 62.2h0M90.5 66.8h0M71.4 70.3h0M78.0 68.8h0M66.5 68.8h0M66.2 67.1h0M88.9 64.2h0M73.3 64.8h0M101.1 68.0h0M80.3 69.0h0M73.6 65.5h0M87.1 66.3h0M96.6 67.3h0M84.2 63.0h0M68.1 66.4h0M83.1 70.5h0M92.6 70.6h0M75.0 66.7h0M72.3 70.2h0M89.2 65.9h0M80.9 65.0h0M69.2 63.5h0M76.0 68.9h0M72.5 66.2h0M82.4 72.1h0M80.6 67.6h0M90.5 67.2h0M86.3 63.1h0M64.9 68.7h0M83.4 66.1h0M88.1 66.6h0M83.9 62.0h0M89.3 68.6h0M74.4 68.8h0M70.6 65.9h0M88.4 67.1h0M69.6 67.5h0M59.2 67.8h0M89.3 67.1h0M72.8 70.1h0M76.7 66.4h0M66.4 66.2h0M67.1 66.3h0M68.7 63.2h0M76.2 65.2h0M83.1 69.1h0M57.9 67.2h0M86.7 65.2h0M68.5 67.4h0M69.5 63.8h0M86.0 66.3h0M78.9 68.1h0M65.1 67.8h0M97.0 65.6h0M71.5 68.5h0M81.9 71.1h0M81.5 65.9h0M92.9 68.2h0M75.3 63.7h0M89.1 63.3h0M72.6 68.0h0M90.2 67.0h0M72.4 67.3h0M76.2 65.7h0M97.5 66.4h0M82.6 68.7h0M80.6 70.8h0M100.8 66.6h0M83.0 63.2h0M71.9 69.2h0M86.5 68.1h0M68.5 67.9h0M90.2 67.2h0M91.0 70.9h0M74.2 67.0h0M73.7 67.9h0M81.3 62.7h0M79.7 65.6h0M70.4 65.8h0M85.0 66.8h0M60.3 67.3h0M75.5 65.3h0M75.8 70.5h0M77.0 64.6h0M82.5 65.9h0M68.0 67.3h0M85.2 64.2h0M77.9 68.1h0M73.5 68.1h0M66.7 66.6h0M68.4 69.7h0M83.0 67.1h0M70.5 67.4h0M80.2 64.7h0M89.6 63.9h0M89.3 65.8h0M94.3 66.4h0M76.8 65.9h0M69.4 68.1h0M89.2 62.5h0M82.5 64.3h0M90.2 63.7h0M79.7 69.9h0M90.9 65.9h0M87.6 65.9h0M86.4 64.6h0M84.4 68.9h0M83.4 66.0h0M81.8 67.4h0M81.7 62.3h0M88.9 69.1h0M74.8 67.7h0M96.0 67.9h0M78.6 69.6h0M88.9 66.5h0M78.8 66.5h0M77.3 68.5h0M98.8 67.6h0M76.7 66.4h0M67.6 67.0h0M72.9 66.0h0M76.6 68.4h0M99.9 68.5h0M81.6 66.9h0M88.4 70.5h0M70.2 64.4h0M82.9 66.4h0M85.9 70.5h0M96.6 66.2h0M73.0 63.9h0M85.3 69.9h0M82.5 68.1h0M70.0 65.0h0M79.4 68.6h0M77.1 64.7h0M57.7 65.9h0M85.3 66.6h0M84.7 65.9h0M75.5 64.6h0M67.0 66.5h0M93.6 65.2h0M82.1 67.0h0M89.2 66.9h0M92.9 68.2h0M74.7 66.0h0M87.3 64.2h0M77.3 64.0h0M79.0 66.3h0M78.8 70.3h0M79.6 68.8h0M90.1 65.8h0M80.8 69.0h0M78.2 64.3h0M77.0 69.1h0M82.8 66.0h0M71.2 68.2h0M74.9 68.2h0M79.1 66.3h0M74.3 67.6h0M78.5 64.5h0M73.8 66.8h0M98.5 68.8h0M92.1 74.0h0M83.8 68.5h0M79.1 67.1h0M100.3 65.3h0M82.7 69.3h0M78.8 63.2h0M82.5 65.1h0M82.5 67.7h0M92.9 64.9h0M79.4 70.4h0M99.4 68.8h0M71.3 65.9h0M86.2 65.7h0M70.2 64.8h0M96.7 64.5h0M76.5 67.8h0M79.1 68.3h0M88.3 67.6h0M91.4 67.4h0M69.1 66.1h0M76.3 67.7h0M66.4 65.0h0M80.9 66.9h0M78.6 70.2h0M76.3 69.7h0M73.1 66.0h0M76.0 66.2h0M72.6 69.4h0M84.6 70.8h0M93.9 64.4h0M61.4 66.6h0M78.5 67.4h0M75.7 69.4h0M84.2 65.1h0M70.6 68.0h0M78.2 66.2h0M69.8 70.7h0M86.2 67.8h0M80.5 66.6h0M78.1 66.2h0M83.1 69.3h0M77.3 68.4h0M64.9 65.7h0M85.2 67.4h0M82.3 63.9h0M78.2 65.2h0M88.9 64.5h0M91.1 64.6h0M69.3 65.9h0M72.2 65.1h0M94.2 67.8h0M93.0 68.3h0M72.6 66.5h0M68.5 65.3h0M73.6 68.5h0M74.9 62.8h0M64.7 64.7h0M79.9 68.5h0M67.5 67.8h0M68.2 68.3h0M88.2 66.5h0M73.2 64.5h0M78.9 65.8h0M85.5 68.1h0M87.3 65.4h0M76.4 65.4h0M80.0 63.7h0M71.8 64.9h0M96.1 68.4h0M85.7 67.9h0M69.2 65.2h0M79.6 64.5h0M86.3 65.7h0M84.1 68.1h0M96.9 64.9h0M92.5 66.6h0M74.5 62.6h0M78.8 64.1h0M67.5 67.5h0M82.0 68.9h0M81.0 64.3h0M105.1 65.8h0M80.5 68.7h0M59.9 66.6h0M73.3 65.9h0M80.7 68.1h0M67.8 67.2h0M71.4 68.8h0M76.2 68.6h0M82.8 65.6h0M78.0 66.6h0M71.2 66.8h0M87.0 64.2h0M74.5 65.0h0M74.9 68.9h0M66.6 64.9h0M72.2 68.7h0M85.8 67.5h0M64.3 66.8h0M78.9 68.1h0M86.4 67.9h0M76.0 69.5h0M81.9 66.0h0M69.1 66.6h0M92.0 66.5h0M90.0 70.3h0M81.8 69.1h0M63.1 66.0h0M69.7 66.4h0M88.8 65.6h0M95.8 67.0h0M82.4 67.4h0M91.4 70.9h0M73.9 63.4h0M77.8 69.2h0M79.6 67.9h0M83.6 65.3h0M65.2 66.8h0M88.5 66.0h0M92.1 67.0h0M68.8 68.4h0M66.8 65.0h0M82.9 69.9h0M73.4 66.2h0M57.2 68.2h0M87.2 67.8h0M81.1 69.7h0M75.1 68.1h0M99.5 68.8h0M80.9 67.0h0M72.5 65.4h0M80.6 68.4h0M69.8 68.1h0M72.4 70.8h0M83.2 62.4h0M74.4 66.5h0M75.4 69.1h0M95.3 64.8h0M87.7 66.5h0M87.2 71.2h0M84.6 70.0h0M84.2 65.0h0M93.3 69.4h0M79.4 69.6h0M97.1 68.3h0M70.6 67.6h0M77.2 67.4h0M66.6 65.8h0M76.4 65.8h0M84.5 68.5h0M93.3 67.2h0M73.3 70.5h0M79.7 66.2h0M76.2 61.9h0M72.6 66.3h0M68.4 67.4h0M80.2 67.8h0M63.3 67.0h0M80.6 65.1h0M79.8 70.3h0M73.4 65.7h0M70.1 68.1h0M66.5 66.6h0M97.3 64.9h0M66.9 68.8h0M94.3 62.7h0M85.3 65.1h0M76.2 67.9h0M68.7 66.4h0M89.4 68.3h0M95.9 66.8h0M70.8 66.2h0M76.8 71.6h0M89.5 66.6h0M82.8 66.6h0M98.5 65.1h0M74.2 65.5h0M84.7 68.4h0M67.8 67.8h0M99.4 67.0h0M72.7 65.7h0M58.8 67.6h0M78.4 63.2h0M78.3 66.2h0M97.7 66.5h0M76.4 65.2h0M79.5 67.3h0M85.2 65.5h0M94.6 65.6h0M79.0 71.0h0M89.4 68.3h0M84.5 69.6h0M76.8 67.1h0M80.3 69.2h0M79.9 68.7h0M71.0 69.0h0M91.1 71.1h0M66.5 66.7h0M90.7 67.4h0M88.6 66.9h0M78.7 59.1h0M72.4 64.4h0M77.5 67.0h0M84.1 68.4h0M86.6 65.8h0M82.3 69.5h0M89.0 69.4h0M74.3 66.2h0M81.8 70.2h0M64.8 69.0h0M86.8 67.9h0M81.0 64.8h0M75.7 70.0h0M90.6 66.7h0M86.1 66.2h0M53.0 67.1h0M80.0 65.8h0M65.9 68.3h0M89.7 68.4h0M103.1 68.8h0M74.7 68.2h0M80.3 65.2h0M77.2 66.7h0M82.9 69.0h0M85.7 66.1h0M91.7 72.0h0M70.3 66.6h0M94.4 66.0h0M70.8 68.9h0M82.2 68.7h0M90.5 67.0h0M86.3 66.5h0M70.8 67.7h0M73.0 68.6h0M75.2 68.6h0M79.1 66.3h0M90.4 67.7h0M67.4 68.1h0M84.0 68.7h0M85.4 60.4h0M84.9 65.1h0M84.0 65.3h0M93.9 66.6h0M84.2 67.4h0M87.7 68.8h0M84.9 68.3h0M96.5 66.8h0M61.7 67.0h0M91.7 70.0h0M77.1 65.7h0M77.0 67.7h0M70.5 69.6h0M62.0 67.3h0M76.0 62.7h0M73.1 67.7h0M84.3 66.2h0M65.7 66.9h0M93.1 68.8h0M82.2 68.1h0M77.3 66.4h0M72.9 68.7h0M72.2 67.8h0M68.9 67.2h0M74.5 67.6h0M79.7 67.6h0M77.9 66.3h0M66.3 66.4h0M77.1 67.1h0M71.2 65.4h0M81.1 64.1h0M97.2 69.2h0M85.5 66.5h0M76.7 66.9h0M64.3 66.8h0M66.3 67.0h0M63.7 67.0h0M86.5 67.1h0M72.4 65.5h0M80.2 69.1h0M73.7 65.7h0M80.5 69.3h0M92.8 63.7h0M73.1 65.0h0M76.4 69.1h0M72.0 66.7h0M87.9 65.7h0M69.9 67.6h0M68.9 65.4h0M66.5 67.1h0M66.3 64.2h0M84.0 66.0h0M103.8 66.0h0M70.2 67.9h0M88.6 68.7h0M82.0 65.1h0M69.2 69.4h0M77.0 65.7h0M77.4 62.5h0M73.1 62.5h0M97.8 69.6h0M61.6 66.9h0M83.2 65.6h0M82.7 65.3h0M74.1 64.9h0M81.0 70.1h0M87.9 66.8h0M81.0 71.1h0M83.5 66.6h0M86.1 62.1h0M60.4 67.8h0M93.5 66.4h0M101.1 66.6h0M88.9 69.9h0M89.2 66.5h0M66.3 68.5h0M78.5 67.0h0M71.9 65.7h0M74.1 68.0h0M88.7 65.9h0M72.0 69.2h0M78.4 69.1h0M61.6 67.1h0M78.1 68.3h0M80.5 68.3h0M73.0 66.5h0M72.8 68.7h0M97.4 66.6h0M68.2 67.9h0M69.7 65.5h0M72.0 67.2h0M90.9 67.7h0M99.4 65.7h0M82.7 66.1h0M72.8 66.0h0M75.6 68.5h0M89.6 65.7h0M71.0 67.7h0M93.3 69.6h0M93.0 67.6h0M80.3 63.4h0M85.7 67.3h0M86.7 69.1h0M94.3 66.5h0M69.7 68.7h0M90.7 68.1h0M76.1 67.9h0M72.4 66.5h0M80.6 65.9h0M77.6 66.5h0M70.3 67.1h0M64.5 67.6h0M70.7 67.7h0M93.3 66.5h0M98.1 67.1h0M85.7 67.8h0M90.8 64.2h0M74.7 65.5h0M78.9 65.2h0M82.3 66.6h0M69.4 66.6h0M70.3 66.6h0M80.5 65.1h0M76.6 68.5h0M69.6 67.5h0M83.3 63.4h0M77.1 67.1h0M89.2 65.0h0M79.6 70.9h0M76.8 66.1h0M80.8 66.1h0M78.0 67.2h0M73.3 66.7h0M75.8 66.9h0M86.7 70.2h0M85.7 67.5h0M91.7 68.5h0M63.6 68.2h0M75.9 65.0h0M75.7 70.5h0M81.2 68.6h0M75.3 69.0h0M74.8 65.3h0M87.0 68.7h0M81.3 68.0h0M68.6 66.2h0M92.2 70.9h0M89.0 68.1h0M74.2 66.6h0M87.4 67.4h0M72.7 68.7h0M90.2 69.0h0M77.6 68.3h0M72.0 69.2h0M76.1 70.1h0M72.4 64.8h0M81.4 65.9h0M81.3 64.9h0M79.9 67.3h0M74.4 69.9h0M80.5 68.5h0M61.7 66.0h0M81.9 66.4h0M90.3 68.8h0M82.2 65.8h0M75.9 66.8h0M77.9 67.7h0M78.3 63.0h0M74.4 68.6h0M74.1 67.7h0M70.9 68.0h0M90.8 65.3h0M79.5 65.3h0M88.6 65.9h0M77.2 67.6h0M80.3 67.2h0M78.0 67.3h0M84.0 71.0h0M87.4 69.6h0M81.9 65.4h0M73.2 65.8h0M72.2 70.1h0M95.3 66.5h0M77.0 70.0h0M76.9 70.5h0M93.4 66.1h0M89.9 66.6h0M84.6 67.2h0M75.8 65.2h0M101.8 65.5h0M83.3 66.2h0M84.8 68.9h0M78.0 66.1h0M66.3 66.8h0M67.0 66.4h0M83.4 64.0h0M83.3 70.4h0M77.3 61.9h0M68.6 66.1h0M66.0 67.7h0M76.5 64.1h0M65.9 67.8h0M88.1 69.5h0M90.5 65.5h0M106.3 67.3h0M87.9 64.9h0M74.0 68.0h0M71.4 67.2h0M74.0 67.5h0M77.9 70.1h0M88.7 67.9h0M85.4 69.9h0M85.2 68.4h0M81.6 64.3h0M85.8 67.6h0M93.3 67.9h0M69.6 64.8h0M75.3 69.8h0M66.5 67.1h0M94.9 67.7h0M91.8 65.5h0M86.7 67.2h0M68.3 67.5h0M81.2 66.3h0M77.4 67.2h0M80.4 62.2h0M77.8 70.0h0M84.5 64.6h0M75.9 62.5h0M87.7 65.1h0M81.9 65.2h0M76.8 68.2h0M78.5 65.0h0M75.4 67.6h0M87.3 65.1h0M77.0 71.8h0M82.4 68.3h0M75.9 71.1h0M65.6 65.8h0M88.2 68.3h0M69.6 65.5h0M86.0 68.2h0M83.6 68.5h0M64.0 65.3h0M70.7 65.1h0M74.8 64.7h0M71.9 64.4h0M68.5 66.0h0M86.6 65.1h0M77.3 63.9h0M83.2 67.3h0M75.5 68.2h0M82.5 64.1h0M72.5 66.0h0M79.4 67.1h0M85.1 66.5h0M80.0 65.4h0M75.3 68.7h0M69.4 68.3h0M81.2 68.6h0M82.9 66.6h0M77.2 71.3h0M72.3 70.2h0M84.7 66.2h0M103.0 66.8h0M76.8 69.6h0M82.8 65.2h0M83.2 67.9h0M55.4 67.0h0M80.8 65.4h0M72.9 66.6h0M92.7 64.3h0M77.2 65.8h0M72.3 63.4h0M77.5 72.0h0M81.2 70.4h0M74.3 69.4h0M79.1 67.7h0M66.8 68.3h0M77.5 69.8h0M86.9 69.1h0M98.2 68.6h0M86.3 65.1h0M82.2 68.0h0M90.8 66.1h0M89.2 64.8h0M95.3 65.1h0M89.8 67.8h0M78.5 69.4h0M82.0 63.9h0M81.3 71.0h0M82.5 70.3h0M81.5 66.1h0M72.2 66.2h0M59.8 66.9h0M73.3 68.9h0M60.5 66.7h0M80.2 64.5h0M79.6 67.8h0M63.8 64.8h0M86.1 67.3h0M87.8 69.3h0M80.5 67.7h0M95.3 68.3h0M97.3 67.8h0M68.2 68.0h0M89.4 67.3h0M83.8 65.2h0M83.6 66.5h0M88.4 66.9h0M72.8 69.3h0M74.0 70.2h0M71.8 67.7h0M72.5 65.6h0M78.7 65.4h0M65.9 66.8h0M69.7 69.2h0M85.1 67.7h0M78.9 66.9h0M83.2 65.3h0M61.8 67.9h0M72.2 67.5h0M74.4 66.9h0M79.9 67.2h0M74.1 70.3h0M88.4 66.7h0M79.1 70.8h0M79.8 69.8h0M112.2 67.1h0M106.2 68.3h0M114.5 66.8h0M100.5 65.7h0M113.4 66.6h0M114.2 65.8h0M109.5 67.7h0M101.0 67.0h0M93.1 68.0h0M99.0 68.4h0M118.5 62.8h0M99.5 67.5h0M95.3 63.9h0M100.6 67.3h0M108.9 65.8h0M110.9 67.1h0M119.8 68.8h0M119.1 64.7h0M122.6 67.1h0M120.0 66.9h0M106.8 64.3h0M97.4 68.1h0M122.2 67.0h0M100.0 66.2h0M112.0 66.0h0M101.1 72.1h0M118.0 66.5h0M99.2 64.0h0M105.9 65.7h0M99.8 66.4h0M119.3 66.5h0M111.9 66.9h0M112.3 65.6h0M102.7 67.8h0M98.5 66.2h0M119.2 65.2h0M116.4 65.9h0M115.4 66.5h0M123.4 67.6h0M110.1 67.7h0M98.5 66.4h0M111.6 67.0h0M101.8 67.3h0M108.7 69.8h0M107.1 66.1h0M110.2 67.6h0M121.1 67.5h0M117.8 65.7h0M105.7 67.3h0M118.0 67.2h0M119.3 66.4h0M116.7 67.8h0M109.9 68.4h0M120.5 67.8h0M108.1 66.7h0M96.3 67.3h0M101.4 70.7h0M113.1 65.5h0M104.6 67.3h0M106.0 68.3h0M105.3 67.2h0M98.9 68.1h0M95.9 67.3h0M94.6 68.3h0M113.6 68.7h0M103.0 66.7h0M107.0 67.3h0M121.6 67.0h0M112.2 66.5h0M117.8 67.0h0M116.3 65.5h0M122.1 67.5h0M95.1 69.9h0M104.8 69.5h0M122.0 67.9h0M107.2 65.6h0M121.9 68.0h0M98.7 65.8h0M94.9 66.9h0M120.4 68.2h0M105.6 65.5h0M108.6 68.2h0M121.6 67.2h0M99.8 66.7h0M122.6 66.4h0M105.2 67.6h0M100.6 66.3h0M100.2 68.7h0M108.9 68.7h0M107.3 65.1h0M120.1 66.7h0M94.6 66.5h0M94.4 65.0h0M97.7 65.1h0M111.5 67.1h0M116.9 66.7h0M107.7 64.7h0M111.8 66.3h0M112.6 67.7h0M93.7 64.9h0M100.6 65.5h0M123.5 68.1h0M103.2 69.0h0M121.9 65.9h0M108.1 65.1h0M99.9 67.6h0M93.2 65.0h0M99.7 66.6h0M102.9 66.3h0M106.5 67.8h0M106.7 63.4h0M109.8 64.0h0M107.5 65.3h0M94.1 68.7h0M101.2 66.8h0M122.4 65.9h0M93.9 67.8h0M115.4 67.9h0M107.6 66.7h0M114.6 66.6h0M103.2 67.7h0M104.4 68.8h0M108.8 67.2h0M120.8 67.4h0M103.1 66.9h0M95.7 66.4h0M94.2 65.4h0M119.9 67.3h0M102.6 66.5h0M96.7 66.6h0M111.2 68.3h0M118.8 67.7h0M111.3 68.2h0M97.7 64.3h0M105.4 67.8h0M101.2 66.1h0M93.6 65.6h0M122.5 66.4h0M107.1 68.7h0M97.2 68.4h0M120.0 66.0h0M123.1 66.2h0M117.9 67.0h0M100.8 66.3h0M98.9 69.8h0M109.1 65.0h0M110.8 64.5h0M119.8 66.7h0M122.5 67.0h0M120.8 67.1h0M103.5 68.1h0M110.9 69.8h0M96.9 66.4h0M108.9 66.2h0M95.2 64.0h0M96.5 67.4h0M96.8 68.5h0M102.3 66.6h0M102.5 68.8h0M114.6 67.0h0M95.4 69.6h0M96.5 67.6h0M113.1 65.6h0M113.6 66.1h0M114.7 64.9h0M115.0 64.7h0M113.3 67.4h0M109.9 68.2h0M115.7 69.6h0M95.6 66.9h0M99.5 66.6h0M115.7 65.5h0M98.9 68.7h0M109.2 67.5h0M101.0 66.1h0M106.2 68.0h0M118.5 67.8h0M113.2 64.5h0M106.6 68.0h0M101.4 67.2h0M117.6 66.5h0M113.1 66.4h0M106.5 69.5h0M119.6 69.1h0M114.2 69.5h0M122.9 66.2h0M113.3 66.1h0M120.5 67.6h0M109.8 65.3h0M114.7 66.0h0M118.7 64.6h0M95.8 70.2h0M107.5 68.5h0M111.5 67.6h0M94.8 67.4h0M117.1 66.4h0M114.9 66.5h0M121.6 67.4h0M104.4 66.0h0M107.4 68.7h0M120.9 66.7h0M105.6 65.7h0M118.5 68.7h0M105.9 66.8h0M103.4 67.8h0M101.5 66.3h0M99.6 63.3h0M106.2 67.8h0M98.0 64.7h0M118.3 68.4h0M122.8 66.0h0M96.0 63.8h0M94.7 67.5h0M93.2 67.7h0M121.5 67.1h0M95.3 64.9h0M113.8 68.2h0M102.3 64.8h0M99.1 66.2h0M100.6 65.7h0M114.1 66.5h0M93.6 68.5h0M119.4 66.2h0M110.4 67.8h0M100.3 68.1h0M99.4 64.1h0M113.0 65.4h0M112.2 66.5h0M102.8 66.1h0M103.3 67.5h0M107.2 64.3h0M120.8 67.5h0M109.5 68.0h0M118.7 66.8h0M112.6 65.1h0M110.2 67.0h0M108.0 66.3h0M113.8 67.8h0M108.0 66.9h0M115.2 68.0h0M98.6 66.3h0M102.9 69.2h0M119.7 63.9h0M105.1 65.5h0M118.8 67.7h0M121.6 66.0h0M110.7 68.0h0M96.2 64.9h0M116.1 67.1h0M113.4 65.8h0M55.9 37.7h0M58.9 60.9h0M89.8 55.5h0M100.1 56.9h0M104.4 58.2h0M116.5 77.1h0M116.8 79.3h0M116.3 75.5h0M117.1 78.2h0M80.4 87.5h0M93.1 74.7h0M97.1 73.4h0M85.0 74.7h0M74.2 73.9h0M106.6 60.6h0M110.6 59.5h0M118.7 60.6h0M91.7 60.1h0M68.8 61.4h0M101.2 73.7h0M83.6 58.7h0M78.3 76.3h0M87.7 76.1h0M66.1 71.8h0M71.5 72.6h0M98.5 60.1h0M111.9 61.4h0M120.0 72.9h0M105.7 72.1h0M76.9 60.3h0M94.4 61.1h0M102.5 61.7h0M109.2 62.2h0M114.6 61.9h0M107.9 71.0h0M113.3 71.3h0" stroke="#111" stroke-width="2.0" stroke-linecap="round" fill="none"/></g><rect x="39" y="23.4" width="87.3" height="86.7" fill="none" stroke="#707070" stroke-width="1.05"/><line x1="41.88" y1="110.1" x2="41.88" y2="113.4" stroke="#5a5a5a" stroke-width="0.9"/><text x="36.88" y="121.8" font-size="7.3" text-anchor="middle" fill="#303030">&#8211;15</text><line x1="55.35" y1="110.1" x2="55.35" y2="113.4" stroke="#5a5a5a" stroke-width="0.9"/><text x="53.35" y="121.8" font-size="7.3" text-anchor="middle" fill="#303030">&#8211;10</text><line x1="68.83" y1="110.1" x2="68.83" y2="113.4" stroke="#5a5a5a" stroke-width="0.9"/><text x="66.83" y="121.8" font-size="7.3" text-anchor="middle" fill="#303030">&#8211;5</text><line x1="82.3" y1="110.1" x2="82.3" y2="113.4" stroke="#5a5a5a" stroke-width="0.9"/><text x="82.3" y="121.8" font-size="7.3" text-anchor="middle" fill="#303030">0</text><line x1="95.77" y1="110.1" x2="95.77" y2="113.4" stroke="#5a5a5a" stroke-width="0.9"/><text x="95.77" y="121.8" font-size="7.3" text-anchor="middle" fill="#303030">5</text><line x1="109.25" y1="110.1" x2="109.25" y2="113.4" stroke="#5a5a5a" stroke-width="0.9"/><text x="109.25" y="121.8" font-size="7.3" text-anchor="middle" fill="#303030">10</text><line x1="122.72" y1="110.1" x2="122.72" y2="113.4" stroke="#5a5a5a" stroke-width="0.9"/><text x="122.72" y="121.8" font-size="7.3" text-anchor="middle" fill="#303030">15</text><line x1="35.7" y1="27" x2="39" y2="27" stroke="#5a5a5a" stroke-width="0.9"/><text x="33.6" y="29.3" font-size="7.3" text-anchor="end" fill="#303030">&#8211;15</text><line x1="35.7" y1="40.33" x2="39" y2="40.33" stroke="#5a5a5a" stroke-width="0.9"/><text x="33.6" y="42.63" font-size="7.3" text-anchor="end" fill="#303030">&#8211;10</text><line x1="35.7" y1="53.66" x2="39" y2="53.66" stroke="#5a5a5a" stroke-width="0.9"/><text x="33.6" y="55.96" font-size="7.3" text-anchor="end" fill="#303030">&#8211;5</text><line x1="35.7" y1="67" x2="39" y2="67" stroke="#5a5a5a" stroke-width="0.9"/><text x="33.6" y="69.3" font-size="7.3" text-anchor="end" fill="#303030">0</text><line x1="35.7" y1="80.33" x2="39" y2="80.33" stroke="#5a5a5a" stroke-width="0.9"/><text x="33.6" y="82.63" font-size="7.3" text-anchor="end" fill="#303030">5</text><line x1="35.7" y1="93.67" x2="39" y2="93.67" stroke="#5a5a5a" stroke-width="0.9"/><text x="33.6" y="95.97" font-size="7.3" text-anchor="end" fill="#303030">10</text><line x1="35.7" y1="107" x2="39" y2="107" stroke="#5a5a5a" stroke-width="0.9"/><text x="33.6" y="109.3" font-size="7.3" text-anchor="end" fill="#303030">15</text><text x="79.3" y="12.2" font-size="7.1" text-anchor="middle" fill="#303030">Gene expression</text><text x="79.3" y="20.4" font-size="7.1" text-anchor="middle" fill="#303030">(all genes)</text><text transform="translate(7.1,68.8) rotate(-90)" font-size="7.1" text-anchor="middle" fill="#303030">Log<tspan font-size="4.9" dy="1.7">2</tspan><tspan dy="-1.7"> fold change in RSEM</tspan></text><text transform="translate(15.3,68.2) rotate(-90)" font-size="7.1" text-anchor="middle" fill="#303030">(HIF2a siRNA/NT)</text><text x="84.7" y="134.2" font-size="7.1" text-anchor="middle" fill="#303030">Log<tspan font-size="4.9" dy="1.7">2</tspan><tspan dy="-1.7"> fold change in RSEM</tspan></text><text x="85.3" y="142.6" font-size="7.1" text-anchor="middle" fill="#303030">(VHL/EV)</text><text x="123.3" y="30.6" font-size="7.1" text-anchor="end" fill="#c84a56"><tspan font-style="italic">r</tspan> = &#160;0.10</text><clipPath id="cl2"><rect x="172.5" y="24.4" width="86.9" height="86.7"/></clipPath><g clip-path="url(#cl2)"><path d="M210.4 69.3h0M213.7 65.8h0M212.2 68.7h0M210.7 71.7h0M224.4 68.4h0M212.8 70.7h0M207.5 69.0h0M217.8 66.6h0M217.2 67.9h0M219.4 67.8h0M222.4 69.9h0M207.7 72.5h0M218.5 67.4h0M218.9 68.0h0M212.8 68.9h0M214.1 68.4h0M196.6 68.9h0M209.7 69.5h0M222.4 68.7h0M203.1 70.6h0M209.9 67.6h0M214.3 68.8h0M215.9 66.2h0M221.6 69.6h0M203.3 68.5h0M213.0 68.7h0M217.4 68.0h0M205.7 68.9h0M212.5 67.6h0M222.9 65.5h0M219.9 70.9h0M215.7 69.2h0M198.7 70.9h0M212.1 72.3h0M214.8 68.7h0M211.1 70.1h0M212.4 69.2h0M211.6 71.0h0M207.5 70.4h0M214.1 69.4h0M211.1 68.9h0M211.1 69.7h0M212.3 70.9h0M216.9 65.6h0M214.0 68.8h0M206.3 69.1h0M212.0 68.7h0M215.3 65.9h0M210.2 70.4h0M219.0 67.2h0M217.0 68.4h0M207.4 68.9h0M214.5 66.5h0M223.5 67.4h0M221.2 65.6h0M212.5 67.7h0M217.6 68.2h0M209.1 69.5h0M205.0 70.0h0M215.8 68.6h0M214.1 72.1h0M215.5 69.5h0M212.6 67.3h0M214.5 68.0h0M210.0 68.4h0M215.3 68.6h0M217.3 67.8h0M212.4 67.9h0M217.2 71.1h0M203.2 70.1h0M208.5 69.0h0M220.6 68.0h0M222.3 67.8h0M214.1 71.0h0M212.2 69.9h0M205.9 71.4h0M214.7 64.3h0M217.0 69.2h0M204.8 71.5h0M215.8 71.7h0M215.4 68.9h0M215.1 66.3h0M206.7 70.6h0M215.7 67.9h0M204.7 67.3h0M220.8 67.4h0M213.5 70.6h0M206.5 71.5h0M220.0 69.5h0M219.0 66.9h0M209.3 73.2h0M224.7 66.2h0M207.3 69.5h0M214.5 66.8h0M219.1 70.4h0M200.5 71.0h0M218.2 69.9h0M212.4 69.3h0M212.7 69.0h0M207.0 69.9h0M214.6 66.2h0M206.8 71.2h0M207.5 71.0h0M210.3 68.8h0M206.1 69.8h0M221.2 68.7h0M205.6 72.1h0M208.7 70.2h0M211.1 69.3h0M212.8 68.4h0M217.0 66.5h0M217.2 67.8h0M211.1 69.4h0M210.7 69.0h0M213.0 69.2h0M217.2 69.8h0M216.5 69.4h0M210.0 69.8h0M201.7 71.2h0M224.3 68.2h0M217.9 68.6h0M214.2 69.7h0M214.6 66.4h0M210.0 71.2h0M207.4 67.8h0M211.0 70.5h0M211.6 69.3h0M209.4 71.1h0M204.9 70.0h0M211.1 67.9h0M215.9 70.4h0M210.1 69.7h0M212.9 69.3h0M201.6 70.4h0M211.6 70.7h0M212.1 70.4h0M206.2 70.1h0M203.4 67.8h0M215.0 68.3h0M208.4 69.7h0M215.4 71.5h0M210.5 69.9h0M216.1 68.7h0M210.9 71.1h0M204.6 69.8h0M212.3 69.1h0M211.0 69.5h0M216.3 66.6h0M210.3 70.8h0M210.6 70.0h0M217.4 68.3h0M219.1 66.8h0M216.9 69.0h0M218.4 70.6h0M215.2 68.0h0M216.9 67.2h0M217.5 69.3h0M214.9 66.6h0M213.1 65.8h0M213.5 68.4h0M225.7 66.8h0M212.8 68.7h0M211.5 68.5h0M210.8 69.8h0M212.6 68.8h0M214.1 68.1h0M206.7 69.1h0M202.1 71.1h0M214.4 70.4h0M204.1 71.3h0M214.2 70.0h0M213.5 64.2h0M219.0 67.0h0M221.8 67.8h0M214.7 69.2h0M209.8 67.1h0M206.4 71.9h0M208.5 70.0h0M213.0 68.2h0M201.6 70.5h0M213.2 68.6h0M212.7 68.0h0M216.2 69.5h0M211.0 68.7h0M213.3 67.0h0M208.8 68.6h0M210.3 69.2h0M203.2 68.5h0M213.4 70.9h0M221.1 66.7h0M213.6 71.6h0M214.7 70.3h0M207.5 68.3h0M220.5 68.6h0M208.6 71.3h0M217.1 68.4h0M213.3 67.3h0M207.6 69.8h0M218.3 71.5h0M212.8 66.9h0M213.7 69.9h0M215.2 68.9h0M212.6 69.0h0M210.7 68.8h0M215.3 68.4h0M210.6 70.9h0M213.1 70.0h0M209.2 68.0h0M204.7 72.2h0M209.1 67.6h0M210.1 70.4h0M212.8 69.4h0M219.2 70.3h0M203.7 70.6h0M213.5 70.6h0M200.8 70.3h0M207.1 71.2h0M210.0 69.9h0M200.6 73.5h0M202.7 69.1h0M213.6 70.8h0M213.2 69.8h0M212.1 69.5h0M208.4 68.8h0M224.4 68.7h0M211.9 67.1h0M208.1 67.6h0M221.8 69.3h0M216.1 66.5h0M210.8 71.5h0M219.2 68.1h0M213.6 69.4h0M216.2 68.9h0M214.0 69.7h0M207.2 69.3h0M218.0 68.1h0M213.6 68.9h0M207.3 71.3h0M208.6 71.2h0M217.9 70.5h0M210.8 69.9h0M213.0 68.8h0M216.3 66.3h0M213.5 70.0h0M204.5 71.2h0M216.2 68.2h0M217.8 69.9h0M217.4 70.6h0M221.5 68.4h0M214.7 70.5h0M217.0 69.2h0M221.3 65.8h0M211.2 68.6h0M222.1 67.6h0M222.1 69.0h0M217.0 67.5h0M222.7 67.5h0M217.4 67.3h0M208.0 69.6h0M218.9 68.7h0M214.5 70.4h0M215.0 70.1h0M213.6 69.3h0M220.1 68.8h0M215.7 69.0h0M209.0 69.7h0M215.4 71.2h0M216.7 65.1h0M208.8 69.3h0M210.4 69.9h0M210.7 71.0h0M209.5 67.9h0M214.6 69.5h0M218.3 69.9h0M223.0 67.5h0M219.2 65.7h0M218.3 68.1h0M218.9 66.8h0M220.0 69.4h0M210.7 68.1h0M216.5 71.4h0M214.5 69.2h0M212.1 68.1h0M210.3 68.7h0M210.0 67.8h0M211.3 69.9h0M206.1 72.0h0M215.6 68.6h0M212.6 70.5h0M213.3 67.7h0M214.6 69.4h0M216.7 72.2h0M209.6 67.4h0M212.2 71.0h0M204.1 71.8h0M200.8 67.6h0M202.3 68.1h0M221.1 66.9h0M202.9 71.6h0M215.3 68.3h0M220.7 68.1h0M210.3 70.5h0M221.6 68.5h0M222.7 68.5h0M217.9 68.2h0M225.6 69.6h0M216.1 67.7h0M208.8 72.0h0M215.6 68.4h0M210.4 68.2h0M205.8 70.8h0M205.9 70.5h0M225.3 65.0h0M209.9 69.8h0M212.7 67.2h0M209.2 68.3h0M213.5 70.2h0M211.5 68.0h0M210.6 69.9h0M206.3 69.2h0M205.2 72.8h0M208.8 69.4h0M214.4 67.3h0M224.0 66.4h0M218.5 67.3h0M222.7 68.4h0M215.5 68.9h0M212.4 70.6h0M205.7 70.1h0M197.1 70.9h0M198.5 69.5h0M201.2 68.7h0M202.5 67.4h0M203.1 73.0h0M199.8 71.4h0M203.9 66.1h0M206.6 72.2h0M228.1 67.7h0M229.5 68.5h0M230.8 67.1h0M232.2 68.2h0M234.9 69.0h0M237.6 67.1h0M233.5 67.4h0M236.2 66.6h0M226.8 66.6h0M238.9 58.8h0M240.3 66.1h0M242.4 66.6h0M249.7 63.4h0M249.7 68.5h0M230.3 77.3h0M220.0 78.4h0M209.3 61.8h0M217.3 74.9h0M202.5 74.6h0M224.1 73.0h0M213.3 62.3h0M221.4 63.4h0M210.6 73.3h0" stroke="#111" stroke-width="2.2" stroke-linecap="round" fill="none"/></g><rect x="172.5" y="24.4" width="86.9" height="86.7" fill="none" stroke="#707070" stroke-width="1.05"/><line x1="175.55" y1="111.1" x2="175.55" y2="114.4" stroke="#5a5a5a" stroke-width="0.9"/><text x="172.55" y="122.8" font-size="7.3" text-anchor="middle" fill="#303030">&#8211;15</text><line x1="189.03" y1="111.1" x2="189.03" y2="114.4" stroke="#5a5a5a" stroke-width="0.9"/><text x="187.03" y="122.8" font-size="7.3" text-anchor="middle" fill="#303030">&#8211;10</text><line x1="202.51" y1="111.1" x2="202.51" y2="114.4" stroke="#5a5a5a" stroke-width="0.9"/><text x="200.51" y="122.8" font-size="7.3" text-anchor="middle" fill="#303030">&#8211;5</text><line x1="216" y1="111.1" x2="216" y2="114.4" stroke="#5a5a5a" stroke-width="0.9"/><text x="216" y="122.8" font-size="7.3" text-anchor="middle" fill="#303030">0</text><line x1="229.49" y1="111.1" x2="229.49" y2="114.4" stroke="#5a5a5a" stroke-width="0.9"/><text x="229.49" y="122.8" font-size="7.3" text-anchor="middle" fill="#303030">5</text><line x1="242.97" y1="111.1" x2="242.97" y2="114.4" stroke="#5a5a5a" stroke-width="0.9"/><text x="242.97" y="122.8" font-size="7.3" text-anchor="middle" fill="#303030">10</text><line x1="256.45" y1="111.1" x2="256.45" y2="114.4" stroke="#5a5a5a" stroke-width="0.9"/><text x="256.45" y="122.8" font-size="7.3" text-anchor="middle" fill="#303030">15</text><line x1="169.2" y1="28.05" x2="172.5" y2="28.05" stroke="#5a5a5a" stroke-width="0.9"/><text x="167.1" y="30.35" font-size="7.3" text-anchor="end" fill="#303030">&#8211;15</text><line x1="169.2" y1="41.43" x2="172.5" y2="41.43" stroke="#5a5a5a" stroke-width="0.9"/><text x="167.1" y="43.73" font-size="7.3" text-anchor="end" fill="#303030">&#8211;10</text><line x1="169.2" y1="54.82" x2="172.5" y2="54.82" stroke="#5a5a5a" stroke-width="0.9"/><text x="167.1" y="57.12" font-size="7.3" text-anchor="end" fill="#303030">&#8211;5</text><line x1="169.2" y1="68.2" x2="172.5" y2="68.2" stroke="#5a5a5a" stroke-width="0.9"/><text x="167.1" y="70.5" font-size="7.3" text-anchor="end" fill="#303030">0</text><line x1="169.2" y1="81.59" x2="172.5" y2="81.59" stroke="#5a5a5a" stroke-width="0.9"/><text x="167.1" y="83.89" font-size="7.3" text-anchor="end" fill="#303030">5</text><line x1="169.2" y1="94.97" x2="172.5" y2="94.97" stroke="#5a5a5a" stroke-width="0.9"/><text x="167.1" y="97.27" font-size="7.3" text-anchor="end" fill="#303030">10</text><line x1="169.2" y1="108.36" x2="172.5" y2="108.36" stroke="#5a5a5a" stroke-width="0.9"/><text x="167.1" y="110.66" font-size="7.3" text-anchor="end" fill="#303030">15</text><text x="214.2" y="13" font-size="7.1" text-anchor="middle" fill="#303030">Gene expression</text><text x="214.2" y="21.3" font-size="7.1" text-anchor="middle" fill="#303030">(HIF2&#945;-bound)</text><text transform="translate(140.8,69.5) rotate(-90)" font-size="7.1" text-anchor="middle" fill="#303030">Log<tspan font-size="4.9" dy="1.7">2</tspan><tspan dy="-1.7"> fold change in RSEM</tspan></text><text transform="translate(149,67.9) rotate(-90)" font-size="7.1" text-anchor="middle" fill="#303030">(HIF2a siRNA/NT)</text><text x="215.6" y="135.2" font-size="7.1" text-anchor="middle" fill="#303030">Log<tspan font-size="4.9" dy="1.7">2</tspan><tspan dy="-1.7"> fold change in RSEM</tspan></text><text x="217.2" y="143.6" font-size="7.1" text-anchor="middle" fill="#303030">(VHL/EV)</text><text x="256.4" y="31.6" font-size="7.1" text-anchor="end" fill="#c84a56"><tspan font-style="italic">r</tspan> = &#160;0.23</text><text x="0.6" y="155.8" font-size="10.6" font-weight="bold" fill="#111">B</text><clipPath id="cl3"><rect x="38.1" y="172.3" width="88.8" height="86.1"/></clipPath><g clip-path="url(#cl3)"><path d="M84.0 214.2h0M86.4 217.0h0M80.7 215.3h0M86.0 212.9h0M92.2 206.2h0M92.2 213.8h0M75.4 203.6h0M60.0 221.4h0M72.1 212.0h0M85.9 203.6h0M50.8 208.0h0M76.3 213.1h0M88.0 220.5h0M75.2 219.9h0M68.1 216.6h0M104.5 212.2h0M99.8 215.9h0M79.0 224.5h0M99.0 219.1h0M98.7 211.1h0M68.0 210.2h0M116.1 222.7h0M70.4 217.8h0M78.9 225.9h0M68.4 219.2h0M83.2 192.3h0M65.6 215.2h0M82.1 217.2h0M95.9 218.3h0M84.9 222.7h0M78.8 227.1h0M101.7 214.5h0M70.8 217.2h0M94.4 205.1h0M78.3 225.7h0M84.9 212.1h0M82.5 206.4h0M83.8 227.5h0M81.5 210.8h0M72.2 225.7h0M74.9 211.9h0M87.7 205.3h0M80.7 215.1h0M67.4 213.7h0M73.2 219.8h0M73.3 213.5h0M81.4 207.8h0M84.3 216.1h0M83.2 215.9h0M73.8 212.8h0M82.3 209.7h0M64.7 226.2h0M45.5 216.0h0M81.3 219.4h0M61.1 212.6h0M70.0 208.8h0M66.7 213.6h0M89.9 206.4h0M66.6 222.0h0M85.4 217.5h0M75.7 221.6h0M66.3 215.2h0M62.0 215.2h0M87.7 216.1h0M86.7 222.6h0M91.6 215.1h0M105.0 216.9h0M85.2 211.0h0M85.4 216.6h0M80.2 207.6h0M83.1 213.5h0M77.3 227.1h0M70.4 216.6h0M106.9 223.2h0M58.2 209.7h0M84.9 205.7h0M87.3 215.0h0M83.6 212.1h0M69.5 224.8h0M79.2 229.6h0M75.8 218.8h0M68.0 217.2h0M81.0 224.8h0M76.5 214.6h0M74.6 213.3h0M90.2 210.6h0M68.2 205.6h0M87.1 209.6h0M73.8 217.7h0M86.9 214.1h0M82.4 211.1h0M84.5 221.6h0M69.1 207.0h0M71.7 209.6h0M70.6 216.9h0M83.7 219.0h0M95.1 209.1h0M75.1 209.2h0M82.5 203.4h0M61.0 209.5h0M53.4 214.7h0M70.5 210.9h0M73.0 221.2h0M61.8 211.2h0M58.9 225.8h0M88.1 212.0h0M71.2 211.8h0M60.1 225.8h0M110.6 201.6h0M83.5 222.3h0M77.3 208.4h0M89.8 218.1h0M71.7 213.4h0M101.3 218.5h0M61.8 199.7h0M64.8 209.0h0M79.5 203.4h0M71.6 210.3h0M99.0 209.8h0M61.0 214.8h0M72.0 216.8h0M84.2 210.9h0M88.3 213.6h0M93.8 215.4h0M85.5 223.6h0M108.9 215.8h0M75.1 211.3h0M83.3 217.9h0M91.9 212.3h0M77.1 216.0h0M77.4 221.7h0M75.2 221.0h0M72.9 220.0h0M66.8 217.3h0M74.0 216.9h0M61.5 208.5h0M85.8 221.7h0M60.9 228.8h0M107.0 209.5h0M102.4 217.0h0M94.9 215.1h0M78.3 198.6h0M73.6 205.8h0M96.4 210.5h0M83.2 208.7h0M88.0 213.9h0M71.9 209.1h0M94.4 218.3h0M70.8 219.9h0M82.3 217.8h0M59.1 205.6h0M72.6 205.2h0M87.2 218.5h0M75.2 207.6h0M75.2 216.1h0M90.8 207.6h0M79.9 217.0h0M96.5 208.1h0M50.4 216.8h0M88.0 216.4h0M87.2 214.8h0M61.4 214.6h0M64.5 219.2h0M91.9 223.2h0M67.4 204.5h0M72.8 217.7h0M88.4 226.3h0M76.6 229.6h0M86.8 232.7h0M69.9 219.2h0M84.6 206.0h0M94.5 224.8h0M84.9 216.8h0M53.2 227.7h0M89.0 207.4h0M81.5 212.5h0M69.4 213.2h0M98.4 205.5h0M58.8 205.1h0M104.4 207.3h0M72.8 218.9h0M100.6 222.6h0M80.2 221.6h0M64.0 226.8h0M82.0 203.1h0M85.0 215.9h0M87.6 213.7h0M94.2 213.0h0M69.5 202.2h0M87.0 218.2h0M90.1 206.8h0M77.4 213.0h0M69.0 216.2h0M68.8 227.7h0M90.2 208.5h0M90.9 219.2h0M70.3 218.2h0M63.9 214.0h0M96.4 213.6h0M61.2 208.3h0M82.8 219.1h0M70.6 214.1h0M58.7 213.9h0M82.3 214.6h0M78.4 210.5h0M98.9 215.7h0M109.4 205.9h0M78.4 219.5h0M93.7 223.6h0M93.9 214.6h0M74.2 207.4h0M69.9 218.5h0M101.0 218.1h0M76.2 217.2h0M80.4 213.7h0M77.1 216.1h0M79.1 212.9h0M73.2 226.2h0M90.2 204.8h0M96.6 210.4h0M76.1 220.5h0M63.4 206.6h0M81.4 211.9h0M62.0 206.0h0M72.7 222.7h0M96.3 203.5h0M110.0 213.4h0M85.5 227.9h0M67.4 210.5h0M90.6 216.4h0M52.5 222.4h0M72.0 216.5h0M99.9 226.6h0M90.1 210.7h0M63.4 216.9h0M59.8 217.3h0M91.5 205.3h0M80.2 214.6h0M73.3 219.4h0M86.0 220.7h0M73.5 215.5h0M56.6 208.9h0M90.9 218.2h0M72.6 221.8h0M68.1 209.3h0M64.0 215.1h0M83.9 214.8h0M70.6 201.7h0M88.6 222.3h0M77.4 213.6h0M94.4 225.7h0M75.9 216.9h0M72.5 211.3h0M56.0 208.5h0M66.9 223.5h0M89.8 209.1h0M119.2 208.3h0M65.0 216.2h0M67.7 199.4h0M85.0 214.6h0M86.8 220.3h0M72.3 212.4h0M81.8 226.8h0M60.5 205.5h0M77.0 208.6h0M92.1 216.9h0M101.3 210.0h0M78.7 211.4h0M77.5 202.4h0M86.5 218.6h0M94.7 222.6h0M86.9 227.7h0M71.3 217.1h0M85.3 224.8h0M93.0 215.5h0M71.8 212.5h0M64.0 218.3h0M87.2 220.7h0M85.4 206.9h0M93.0 215.6h0M81.9 213.3h0M72.7 209.0h0M75.3 223.4h0M67.9 221.3h0M68.9 199.1h0M73.7 216.1h0M74.7 221.8h0M94.8 215.9h0M65.4 219.1h0M80.2 222.8h0M73.4 217.7h0M99.6 214.2h0M84.1 214.8h0M76.1 211.5h0M91.1 225.6h0M81.7 224.4h0M74.9 209.9h0M100.2 216.9h0M89.8 206.6h0M102.6 212.0h0M95.4 223.3h0M90.6 211.0h0M82.5 221.3h0M67.2 213.7h0M89.8 206.5h0M81.8 201.1h0M89.4 214.9h0M80.8 210.3h0M72.2 213.2h0M68.3 210.2h0M89.7 230.9h0M97.2 216.7h0M77.3 213.1h0M86.6 211.6h0M98.3 219.0h0M70.4 209.9h0M76.6 207.8h0M66.9 214.9h0M95.8 215.7h0M84.2 217.0h0M75.1 214.1h0M60.1 208.0h0M78.7 205.2h0M93.5 217.3h0M77.2 220.9h0M75.6 220.1h0M89.0 208.1h0M65.5 214.0h0M81.6 212.8h0M88.5 211.4h0M71.2 212.8h0M70.6 216.0h0M84.1 221.4h0M79.7 218.8h0M78.0 214.1h0M83.6 212.2h0M83.8 217.1h0M69.4 217.9h0M72.6 206.3h0M86.6 217.6h0M95.1 212.8h0M98.0 216.2h0M70.4 220.7h0M94.7 224.0h0M90.5 217.9h0M80.6 220.1h0M87.1 209.1h0M91.4 221.8h0M103.5 216.6h0M67.8 211.1h0M88.6 215.2h0M79.3 211.7h0M78.4 209.5h0M95.4 224.9h0M91.3 217.0h0M68.3 221.5h0M77.5 206.3h0M83.9 215.4h0M63.3 212.3h0M91.9 203.5h0M80.1 217.1h0M83.1 214.2h0M85.3 212.0h0M103.7 215.6h0M81.5 206.7h0M76.6 209.7h0M102.9 207.5h0M74.8 214.7h0M74.5 217.2h0M63.7 217.7h0M94.6 216.6h0M84.5 225.2h0M87.0 212.2h0M83.2 209.5h0M79.4 214.9h0M71.3 218.3h0M71.3 214.9h0M86.5 213.2h0M82.7 212.6h0M101.5 202.5h0M71.6 220.6h0M75.0 212.7h0M68.3 210.9h0M98.4 213.6h0M65.7 216.9h0M90.8 221.0h0M99.1 217.9h0M79.4 210.4h0M90.2 205.2h0M54.5 220.0h0M76.3 212.0h0M60.4 212.3h0M83.3 208.3h0M81.2 213.2h0M71.5 212.4h0M93.0 208.7h0M85.6 222.0h0M74.6 214.8h0M74.7 226.3h0M62.8 228.1h0M78.8 220.1h0M107.6 223.6h0M72.3 211.9h0M86.4 208.3h0M74.3 217.0h0M91.2 215.3h0M86.7 216.1h0M78.2 216.6h0M58.9 214.8h0M74.7 212.8h0M96.2 217.2h0M78.1 219.9h0M89.0 217.8h0M75.2 210.0h0M57.8 218.4h0M86.5 205.4h0M85.2 216.2h0M73.9 206.4h0M76.5 222.6h0M84.8 219.1h0M73.8 212.1h0M85.5 211.6h0M78.6 215.9h0M51.7 203.1h0M79.4 214.4h0M73.7 213.3h0M70.7 218.8h0M86.2 204.2h0M75.1 209.7h0M87.9 212.0h0M94.9 224.6h0M83.0 212.5h0M61.8 218.5h0M72.0 212.7h0M92.6 208.6h0M78.0 219.7h0M71.1 213.9h0M80.1 209.3h0M87.5 213.6h0M84.4 216.8h0M89.3 221.2h0M70.9 219.5h0M77.8 223.0h0M78.1 208.7h0M80.9 214.2h0M55.0 223.5h0M78.3 215.0h0M64.4 223.6h0M98.6 234.9h0M100.7 206.5h0M102.2 206.7h0M91.4 223.7h0M75.2 219.6h0M93.2 213.1h0M78.7 217.4h0M88.9 219.9h0M70.0 218.5h0M73.9 216.6h0M87.1 218.1h0M103.4 212.7h0M80.9 216.3h0M109.4 218.6h0M115.7 213.4h0M65.2 225.9h0M80.9 205.8h0M69.4 226.3h0M79.5 215.4h0M74.6 213.0h0M80.4 212.3h0M93.3 212.8h0M93.0 206.5h0M84.5 221.8h0M81.3 215.3h0M82.8 213.9h0M82.9 217.9h0M88.5 218.3h0M81.3 206.8h0M87.6 219.1h0M64.9 218.5h0M91.2 216.2h0M103.1 215.4h0M83.6 213.8h0M63.6 216.9h0M98.2 211.9h0M77.2 214.2h0M43.9 213.3h0M78.6 206.4h0M88.9 219.9h0M86.1 204.3h0M96.8 217.1h0M89.1 210.4h0M82.9 213.8h0M56.6 217.7h0M67.4 227.7h0M83.6 204.7h0M89.8 219.3h0M68.5 220.3h0M73.7 208.5h0M87.2 214.2h0M57.4 203.9h0M57.0 205.3h0M78.4 210.6h0M84.5 213.2h0M75.3 210.4h0M52.6 224.2h0M81.6 213.8h0M64.7 214.6h0M89.5 217.5h0M80.1 213.4h0M84.6 223.9h0M89.3 209.0h0M74.7 207.1h0M91.7 222.6h0M96.9 213.4h0M86.3 205.1h0M98.0 211.6h0M73.5 221.6h0M92.8 220.6h0M84.7 209.5h0M69.0 203.9h0M80.3 221.7h0M74.7 214.9h0M74.4 220.0h0M82.4 216.6h0M94.6 212.5h0M77.4 215.3h0M82.9 219.1h0M63.0 202.5h0M82.7 215.9h0M95.8 215.5h0M91.5 207.6h0M87.3 214.6h0M74.7 216.4h0M69.1 209.5h0M80.2 221.4h0M64.6 210.9h0M65.9 209.1h0M93.1 210.3h0M69.8 216.5h0M103.8 214.1h0M63.4 226.3h0M86.7 215.5h0M66.7 213.7h0M83.5 209.4h0M68.3 214.5h0M81.8 217.3h0M79.4 220.2h0M75.7 215.4h0M87.7 213.8h0M100.2 206.7h0M73.9 215.2h0M92.4 217.6h0M82.4 215.6h0M81.0 217.9h0M108.8 215.3h0M54.1 229.7h0M72.8 225.1h0M58.7 223.2h0M77.4 212.2h0M78.5 215.5h0M129.1 212.2h0M85.7 207.5h0M103.8 220.5h0M97.6 207.2h0M75.8 212.8h0M87.3 219.1h0M102.2 204.9h0M83.5 223.7h0M84.0 221.8h0M87.6 216.0h0M62.5 213.1h0M71.2 216.5h0M85.5 228.0h0M88.2 216.5h0M69.8 215.9h0M77.3 199.3h0M79.8 206.5h0M79.4 214.2h0M90.0 221.4h0M82.7 212.8h0M83.4 222.1h0M63.6 214.4h0M68.1 213.2h0M85.3 217.3h0M61.3 214.2h0M84.7 216.9h0M73.0 218.8h0M71.1 205.8h0M89.4 211.0h0M72.8 217.2h0M70.5 220.1h0M72.8 214.2h0M82.0 211.4h0M115.7 208.3h0M54.7 206.8h0M81.0 212.1h0M78.2 222.0h0M93.2 201.9h0M76.6 207.9h0M50.2 211.0h0M97.9 206.0h0M67.5 224.7h0M80.5 217.3h0M64.0 218.8h0M67.5 208.1h0M75.0 222.5h0M92.0 216.5h0M91.8 205.2h0M73.7 211.2h0M87.5 217.1h0M76.5 203.5h0M82.6 223.1h0M83.1 212.1h0M89.0 216.1h0M73.4 212.1h0M79.5 216.7h0M83.9 220.0h0M82.3 213.6h0M71.1 223.5h0M102.8 210.9h0M75.4 217.2h0M90.7 208.9h0M83.7 217.6h0M96.5 218.5h0M53.7 213.6h0M106.9 206.3h0M78.5 227.9h0M65.7 214.8h0M82.7 211.0h0M109.5 222.7h0M87.5 220.2h0M65.6 211.6h0M75.3 220.3h0M97.9 218.3h0M63.5 205.0h0M78.8 220.9h0M77.4 220.5h0M108.3 228.2h0M77.4 221.9h0M97.6 222.0h0M72.6 204.7h0M71.0 207.9h0M93.7 222.3h0M88.9 202.5h0M59.4 211.1h0M89.1 215.8h0M89.2 209.7h0M73.4 212.9h0M83.9 219.6h0M84.5 225.7h0M75.0 220.9h0M73.7 215.3h0M72.7 217.5h0M77.7 219.7h0M64.4 209.6h0M80.5 221.6h0M62.3 210.2h0M82.0 217.9h0M80.0 214.4h0M68.1 222.4h0M91.8 214.6h0M105.4 218.9h0M97.7 225.2h0M63.9 215.8h0M97.1 214.7h0M83.8 209.8h0M80.4 213.3h0M73.6 221.6h0M81.0 218.8h0M98.5 229.7h0M87.9 221.7h0M75.9 207.2h0M72.6 206.0h0M75.8 210.5h0M88.4 212.9h0M104.5 210.5h0M67.8 212.5h0M81.0 225.7h0M76.2 220.6h0M71.6 208.0h0M86.0 207.5h0M88.0 213.3h0M63.3 217.6h0M68.1 217.9h0M96.0 217.8h0M85.0 220.6h0M87.6 226.7h0M74.8 214.3h0M76.3 218.0h0M86.8 216.1h0M74.8 204.6h0M67.1 211.9h0M81.0 219.4h0M92.4 211.0h0M68.1 224.8h0M94.3 208.0h0M89.8 213.1h0M70.2 216.6h0M81.1 211.5h0M80.5 206.0h0M89.0 217.6h0M89.4 220.8h0M64.7 202.5h0M64.2 215.6h0M93.9 205.3h0M82.5 219.2h0M86.3 212.5h0M85.2 218.8h0M100.2 210.4h0M65.9 217.3h0M94.7 218.7h0M70.8 205.8h0M90.2 212.6h0M97.8 227.0h0M63.7 217.2h0M86.1 220.5h0M77.6 222.7h0M77.4 218.8h0M81.6 218.0h0M67.9 215.3h0M69.0 220.4h0M89.3 226.3h0M91.6 218.0h0M73.9 209.8h0M62.8 224.2h0M110.0 210.1h0M94.8 211.7h0M85.5 217.7h0M68.2 213.6h0M73.8 220.0h0M84.1 217.4h0M69.0 221.9h0M101.1 211.4h0M82.8 206.4h0M86.0 219.1h0M68.2 208.1h0M69.7 228.8h0M71.2 220.9h0M84.5 221.2h0M77.7 204.5h0M77.4 218.9h0M85.0 210.0h0M83.9 227.7h0M99.6 213.6h0M78.6 211.6h0M68.4 215.8h0M80.9 232.0h0M99.3 213.2h0M74.1 210.3h0M81.7 206.8h0M76.6 212.7h0M86.1 225.4h0M84.3 216.2h0M71.0 209.8h0M78.2 220.3h0M92.8 211.1h0M94.7 217.5h0M92.5 214.0h0M91.8 209.9h0M76.9 219.6h0M76.5 197.3h0M92.6 213.7h0M66.5 213.5h0M80.3 219.7h0M58.0 215.6h0M76.3 216.9h0M72.3 224.5h0M66.1 225.2h0M88.3 213.0h0M71.9 216.0h0M76.5 231.7h0M77.9 228.6h0M71.9 217.3h0M98.7 214.8h0M74.9 211.5h0M83.5 222.7h0M64.8 212.0h0M75.2 217.2h0M77.0 218.4h0M77.3 216.1h0M73.8 209.2h0M82.8 211.5h0M100.4 208.7h0M79.4 219.4h0M79.3 216.9h0M76.2 222.5h0M112.6 217.3h0M101.1 216.8h0M88.0 217.7h0M89.8 210.2h0M72.3 212.7h0M79.2 210.4h0M83.7 214.2h0M82.6 208.3h0M70.4 214.8h0M71.4 209.4h0M87.5 211.7h0M85.0 210.3h0M54.9 216.5h0M82.2 222.8h0M96.9 223.5h0M73.1 203.1h0M84.1 212.5h0M63.0 213.0h0M91.4 215.7h0M67.3 218.5h0M65.6 197.6h0M77.2 222.2h0M110.5 214.3h0M73.5 215.7h0M65.4 222.7h0M86.8 222.8h0M83.9 219.4h0M101.7 216.4h0M65.4 218.7h0M61.3 210.7h0M77.2 222.6h0M85.8 212.3h0M85.5 205.7h0M94.5 208.9h0M62.6 222.9h0M70.9 234.0h0M79.5 209.8h0M91.5 211.5h0M87.0 218.5h0M75.9 207.2h0M68.4 218.1h0M92.0 214.0h0M92.9 221.1h0M114.7 211.8h0M78.9 217.8h0M101.2 217.4h0M66.1 208.9h0M74.4 214.0h0M72.7 224.8h0M75.4 210.9h0M70.2 210.2h0M74.4 220.5h0M80.4 217.5h0M75.5 214.9h0M89.3 216.3h0M80.1 214.3h0M81.1 211.0h0M99.4 217.4h0M85.0 201.9h0M83.0 219.4h0M80.9 218.4h0M81.9 202.7h0M88.2 199.8h0M71.2 215.2h0M95.3 215.7h0M100.6 221.0h0M95.4 207.3h0M75.0 214.2h0M61.4 221.1h0M75.7 212.7h0M83.0 206.4h0M91.4 210.4h0M78.8 201.3h0M77.3 207.9h0M100.0 211.6h0M72.8 215.6h0M94.3 211.1h0M92.3 207.0h0M64.6 210.3h0M84.6 208.3h0M74.2 213.9h0M69.4 210.7h0M58.2 208.3h0M61.7 216.8h0M86.2 223.0h0M76.3 204.4h0M84.5 211.3h0M67.9 218.3h0M77.1 213.7h0M77.7 216.7h0M62.0 226.5h0M60.5 217.0h0M86.6 223.8h0M82.9 213.7h0M69.6 216.2h0M79.9 208.0h0M89.3 215.5h0M103.8 211.8h0M70.1 217.3h0M88.8 217.1h0M107.4 222.8h0M81.9 208.8h0M99.3 213.3h0M49.1 219.9h0M99.1 213.1h0M81.0 217.7h0M57.9 220.5h0M90.8 213.1h0M94.1 206.9h0M96.1 216.2h0M96.0 223.4h0M80.7 218.9h0M71.8 204.1h0M75.4 220.4h0M80.7 207.6h0M86.1 216.4h0M75.1 210.6h0M81.7 215.7h0M92.0 224.5h0M85.1 217.5h0M109.6 200.7h0M107.9 214.9h0M66.9 212.1h0M74.1 217.4h0M64.9 216.5h0M66.7 213.6h0M87.9 211.8h0M68.8 201.6h0M68.1 215.6h0M77.8 216.3h0M91.0 218.8h0M76.7 223.5h0M76.7 225.3h0M92.5 210.4h0M87.0 226.5h0M86.8 206.0h0M92.9 209.2h0M68.5 217.4h0M83.8 222.2h0M73.2 215.2h0M93.9 214.4h0M91.2 207.6h0M68.1 220.2h0M97.7 216.8h0M66.6 215.9h0M95.6 216.2h0M83.7 218.9h0M70.3 226.2h0M67.2 225.9h0M77.3 219.4h0M80.8 216.5h0M72.3 209.1h0M88.1 200.3h0M63.7 205.0h0M81.0 212.6h0M81.1 203.3h0M57.8 216.7h0M85.0 218.2h0M65.4 201.1h0M50.0 222.9h0M73.5 217.9h0M78.3 216.8h0M92.4 205.4h0M75.1 219.0h0M99.4 209.4h0M99.0 216.9h0M94.7 222.2h0M97.6 212.9h0M85.5 213.8h0M74.2 222.5h0M89.2 220.1h0M93.2 219.5h0M84.1 208.9h0M78.0 212.2h0M61.6 214.3h0M89.5 211.6h0M85.5 217.8h0M64.9 212.7h0M82.3 218.8h0M90.1 223.0h0M79.7 219.5h0M90.9 213.3h0M90.5 214.1h0M62.7 209.1h0M77.3 225.8h0M87.1 216.2h0M92.5 212.1h0M98.7 220.4h0M57.2 214.4h0M80.3 217.6h0M90.0 221.8h0M96.4 207.4h0M102.2 222.9h0M69.4 209.2h0M76.4 217.8h0M67.9 221.4h0M91.3 220.2h0M64.6 220.3h0M95.9 219.8h0M92.8 212.9h0M87.2 226.5h0M54.0 208.3h0M72.6 210.1h0M90.5 205.9h0M63.4 221.8h0M78.1 229.7h0M79.8 219.0h0M92.2 215.6h0M84.6 213.0h0M84.5 218.1h0M75.6 215.7h0M81.2 214.1h0M79.4 224.8h0M90.2 203.3h0M78.8 222.1h0M94.0 212.9h0M59.9 209.1h0M96.1 219.3h0M79.0 215.1h0M95.2 204.2h0M82.1 216.7h0M91.8 208.0h0M99.8 212.4h0M74.2 213.8h0M82.1 210.4h0M79.0 216.5h0M83.7 216.2h0M60.8 209.7h0M78.9 213.4h0M78.0 212.0h0M71.3 222.9h0M78.6 215.0h0M61.8 208.1h0M98.5 208.7h0M86.7 212.6h0M104.6 217.3h0M70.1 219.2h0M66.5 212.8h0M84.6 205.9h0M60.2 215.5h0M83.9 206.7h0M72.3 217.2h0M76.9 207.6h0M84.2 221.1h0M81.6 213.8h0M104.3 220.8h0M88.9 210.5h0M64.9 212.0h0M93.3 220.4h0M64.3 220.3h0M82.1 217.7h0M65.5 224.9h0M70.7 221.2h0M97.5 219.7h0M74.1 210.3h0M73.0 206.6h0M74.0 218.0h0M77.1 216.9h0M99.0 212.9h0M66.3 218.8h0M65.6 217.3h0M88.3 209.4h0M61.1 214.3h0M76.4 215.7h0M95.1 218.0h0M81.0 205.7h0M75.0 219.0h0M72.1 214.5h0M69.5 221.9h0M73.6 219.0h0M82.7 214.3h0M96.5 216.8h0M93.0 211.2h0M73.9 214.8h0M71.8 224.0h0M89.6 229.1h0M58.2 209.6h0M75.4 218.8h0M76.9 205.9h0M67.0 215.4h0M68.5 220.2h0M85.2 211.3h0M60.2 217.5h0M69.4 215.3h0M72.8 221.1h0M81.9 210.9h0M63.7 208.8h0M94.4 217.7h0M77.0 204.0h0M77.5 218.7h0M76.3 213.6h0M72.4 225.5h0M68.5 227.5h0M95.1 201.3h0M83.3 206.0h0M79.4 207.8h0M93.1 225.1h0M71.8 213.9h0M88.6 212.1h0M81.0 214.5h0M69.6 213.5h0M90.1 220.4h0M62.0 216.7h0M88.8 221.8h0M69.6 217.6h0M85.7 212.5h0M97.8 219.2h0M87.7 216.5h0M73.1 218.0h0M80.2 214.9h0M76.0 209.4h0M66.0 214.1h0M66.8 213.1h0M81.1 224.0h0M87.2 217.0h0M58.6 210.7h0M79.6 220.4h0M86.8 217.5h0M81.9 221.0h0M68.0 207.1h0M93.4 217.3h0M65.3 220.2h0M88.5 210.8h0M100.4 207.4h0M55.0 212.9h0M83.6 208.7h0M84.3 213.5h0M83.2 215.7h0M70.9 218.1h0M76.5 218.4h0M63.0 219.4h0M82.0 212.7h0M87.0 215.5h0M72.1 214.8h0M68.9 211.7h0M74.5 215.6h0M80.2 223.6h0M81.1 220.0h0M79.0 222.1h0M81.2 226.9h0M64.0 215.0h0M46.4 223.8h0M88.0 222.8h0M98.0 221.1h0M62.7 210.2h0M72.0 217.3h0M84.0 208.6h0M92.1 215.1h0M88.3 217.5h0M96.1 210.9h0M79.6 211.3h0M85.4 214.1h0M85.4 221.3h0M74.9 218.1h0M95.2 221.9h0M88.0 216.4h0M92.4 214.0h0M75.4 205.9h0M93.0 205.7h0M67.2 211.3h0M85.1 208.9h0M47.8 214.9h0M67.7 198.2h0M89.4 205.1h0M74.7 198.7h0M82.4 212.6h0M60.1 213.2h0M99.4 207.7h0M87.6 213.6h0M79.9 213.1h0M85.4 221.1h0M84.3 209.0h0M97.8 213.5h0M82.9 209.9h0M62.0 217.2h0M77.1 226.3h0M96.1 211.3h0M87.3 207.5h0M75.0 223.3h0M87.8 220.9h0M81.7 216.9h0M87.8 216.3h0M60.6 226.5h0M69.1 204.5h0M88.5 208.4h0M77.5 219.1h0M84.6 226.3h0M104.5 211.9h0M76.4 202.8h0M83.2 209.8h0M73.3 208.1h0M72.5 221.3h0M79.3 213.7h0M62.3 225.2h0M54.2 203.7h0M97.1 210.9h0M78.9 228.3h0M94.1 226.1h0M81.7 212.0h0M82.1 214.2h0M88.5 216.7h0M89.1 210.9h0M65.3 203.1h0M95.2 212.2h0M68.2 226.9h0M82.7 216.0h0M111.8 222.1h0M81.2 220.1h0M100.8 212.3h0M75.9 216.3h0M87.8 221.5h0M80.9 215.3h0M85.4 220.0h0M69.7 212.2h0M68.9 217.1h0M84.4 212.5h0M60.9 217.5h0M69.8 210.8h0M88.2 215.7h0M72.6 215.5h0M69.3 219.1h0M66.5 214.8h0M82.1 226.2h0M75.7 198.6h0M82.1 219.3h0M77.9 214.6h0M103.1 217.2h0M74.8 218.4h0M56.1 213.6h0M81.7 218.3h0M80.3 217.8h0M82.2 223.7h0M60.4 221.7h0M94.2 222.0h0M79.9 203.9h0M79.7 223.6h0M60.7 222.6h0M86.1 213.7h0M79.4 206.2h0M96.9 225.2h0M75.1 225.1h0M65.0 215.0h0M81.8 213.0h0M69.0 224.5h0M85.4 226.3h0M66.9 221.7h0M78.7 210.6h0M77.4 215.6h0M79.8 210.5h0M73.9 216.1h0M70.3 215.8h0M79.5 211.4h0M73.1 216.2h0M82.1 213.6h0M76.9 221.0h0M52.6 220.0h0M79.5 212.3h0M97.3 216.1h0M84.0 219.8h0M87.6 210.8h0M85.8 211.6h0M74.5 215.5h0M63.9 220.6h0M90.2 209.2h0M93.2 199.1h0M87.2 220.1h0M85.4 224.7h0M85.1 219.9h0M79.9 221.1h0M83.6 223.0h0M80.4 222.6h0M84.2 209.8h0M68.7 210.3h0M72.5 206.2h0M87.2 210.3h0M76.1 218.4h0M50.7 209.6h0M81.8 219.0h0M52.3 218.5h0M103.6 221.7h0M89.0 207.2h0M88.5 208.6h0M72.2 218.5h0M66.5 217.7h0M77.7 215.1h0M80.5 214.0h0M70.9 210.3h0M82.2 214.8h0M88.7 212.4h0M87.6 224.4h0M67.6 217.6h0M54.0 227.5h0M80.3 204.1h0M72.3 206.8h0M85.7 210.6h0M100.3 207.5h0M100.3 201.9h0M83.8 209.2h0M93.8 224.7h0M100.3 215.8h0M80.9 230.0h0M83.6 220.2h0M90.7 222.7h0M79.9 215.3h0M74.3 213.1h0M71.3 221.4h0M80.5 217.0h0M72.9 213.8h0M90.1 215.9h0M76.4 216.6h0M98.1 229.7h0M95.1 217.5h0M65.4 210.9h0M93.5 213.2h0M75.6 224.8h0M97.0 216.4h0M86.7 213.4h0M79.9 221.4h0M88.6 210.8h0M73.7 220.6h0M84.5 217.2h0M85.1 215.8h0M78.7 201.4h0M85.2 217.1h0M68.5 219.3h0M87.3 210.6h0M65.9 218.8h0M88.1 213.8h0M86.2 229.2h0M89.1 213.1h0M73.9 215.7h0M117.2 222.0h0M77.9 206.9h0M82.4 216.7h0M71.5 216.9h0M97.9 222.9h0M75.0 225.7h0M92.6 218.4h0M69.3 225.3h0M84.4 212.1h0M76.2 210.0h0M91.9 218.9h0M77.2 225.5h0M70.3 218.2h0M86.2 221.7h0M66.4 214.8h0M69.3 214.6h0M90.0 217.6h0M58.3 215.7h0M89.9 208.4h0M76.0 204.8h0M69.8 219.0h0M83.7 210.7h0M88.4 216.5h0M73.8 222.2h0M78.7 207.4h0M90.5 212.5h0M89.9 214.1h0M80.3 213.1h0M71.7 216.7h0M69.6 222.4h0M73.8 204.5h0M89.1 209.4h0M87.8 213.4h0M84.6 209.1h0M97.6 206.6h0M77.4 216.7h0M76.4 211.8h0M76.4 217.5h0M103.8 210.4h0M56.4 217.9h0M84.5 199.9h0M86.4 217.4h0M81.8 212.1h0M108.9 211.3h0M95.1 216.9h0M90.3 209.1h0M70.4 216.3h0M87.0 217.7h0M76.7 215.5h0M81.6 220.0h0M83.5 207.7h0M75.4 211.6h0M88.7 208.9h0M100.6 223.0h0M93.5 213.1h0M83.8 220.0h0M58.1 215.7h0M94.1 206.8h0M94.0 213.2h0M78.9 216.5h0M75.5 208.5h0M89.1 208.7h0M71.6 204.1h0M90.7 226.6h0M68.4 213.7h0M70.3 218.3h0M81.5 220.8h0M64.0 215.3h0M81.3 222.6h0M87.6 229.1h0M65.7 221.6h0M92.3 216.5h0M74.6 203.9h0M87.8 219.6h0M83.9 222.5h0M75.9 227.9h0M75.1 217.7h0M61.1 217.6h0M73.1 214.7h0M72.2 224.7h0M100.9 219.3h0M93.5 229.1h0M65.1 214.9h0M90.9 224.8h0M84.0 232.4h0M76.9 208.2h0M86.9 211.9h0M90.8 212.7h0M74.6 213.4h0M78.1 221.9h0M83.4 208.5h0M69.7 222.3h0M83.6 203.2h0M80.4 213.9h0M73.3 227.2h0M71.4 210.2h0M85.0 202.8h0M91.8 216.5h0M85.3 208.5h0M71.3 217.0h0M90.3 218.9h0M83.4 231.4h0M88.4 207.3h0M95.2 217.6h0M70.7 213.3h0M79.8 222.5h0M74.4 221.3h0M71.1 208.7h0M105.2 216.8h0M92.6 217.4h0M60.5 224.0h0M86.5 213.8h0M74.9 210.7h0M95.0 217.7h0M82.4 216.4h0M79.4 223.0h0M83.1 206.4h0M86.0 219.0h0M81.8 216.2h0M78.9 204.8h0M79.8 216.8h0M87.5 224.8h0M68.1 221.6h0M81.4 217.5h0M80.0 204.1h0M75.7 214.1h0M90.2 216.3h0M66.2 210.6h0M77.1 207.2h0M71.4 220.4h0M87.9 206.0h0M75.9 210.1h0M82.0 212.4h0M86.0 230.0h0M62.6 214.7h0M86.8 206.3h0M72.6 217.3h0M78.5 200.8h0M80.1 214.8h0M91.0 221.3h0M90.2 211.2h0M102.3 212.6h0M83.6 209.9h0M75.8 216.8h0M75.5 207.2h0M89.2 218.4h0M100.4 213.7h0M85.5 222.9h0M74.7 220.5h0M84.7 213.8h0M84.5 219.2h0M81.9 218.0h0M72.7 216.8h0M51.5 214.8h0M75.1 210.6h0M93.9 209.9h0M84.0 208.6h0M55.4 214.9h0M81.5 218.6h0M59.7 226.1h0M105.0 216.5h0M83.7 220.1h0M67.3 227.2h0M90.9 204.4h0M72.2 227.2h0M88.1 212.7h0M81.7 211.7h0M67.5 217.2h0M89.3 198.5h0M65.7 215.7h0M97.3 219.4h0M82.2 204.0h0M69.3 220.7h0M60.1 225.1h0M100.6 220.8h0M98.6 218.6h0M66.6 215.5h0M100.9 212.3h0M83.5 224.8h0M78.9 213.1h0M80.5 201.0h0M78.3 219.8h0M98.4 215.4h0M83.3 210.7h0M59.7 208.4h0M106.2 218.5h0M91.9 220.9h0M68.6 222.1h0M77.3 208.4h0M70.8 209.9h0M82.0 228.9h0M86.1 228.6h0M84.3 222.9h0M74.4 225.0h0M72.0 212.9h0M91.5 213.4h0M80.3 202.8h0M108.1 209.1h0M71.9 214.8h0M90.8 207.3h0M82.1 220.8h0M72.5 224.4h0M97.6 214.4h0M82.9 209.1h0M70.9 225.9h0M77.7 209.6h0M93.5 209.2h0M67.0 218.9h0M97.8 213.5h0M89.6 216.6h0M78.2 214.8h0M97.5 209.4h0M102.1 219.5h0M88.6 208.3h0M83.5 209.6h0M103.3 208.6h0M99.2 227.0h0M70.5 227.5h0M79.0 210.9h0M78.9 219.0h0M76.6 219.8h0M63.8 220.7h0M92.2 223.3h0M82.5 217.0h0M82.6 219.7h0M98.2 218.7h0M74.8 212.4h0M80.8 222.7h0M84.7 207.9h0M76.4 229.5h0M80.2 199.3h0M90.6 223.5h0M81.4 211.5h0M97.3 208.8h0M72.6 215.5h0M83.9 210.3h0M64.5 216.5h0M80.1 226.5h0M73.1 213.3h0M97.7 207.3h0M90.3 218.4h0M87.5 225.8h0M103.4 218.2h0M98.6 212.4h0M90.0 212.9h0M73.3 208.4h0M64.3 212.3h0M81.1 212.0h0M77.2 228.1h0M73.8 201.3h0M78.0 215.0h0M61.8 210.4h0M99.2 216.7h0M67.9 216.7h0M73.5 215.1h0M88.3 204.9h0M62.1 206.2h0M92.5 210.8h0M92.7 202.1h0M77.8 217.8h0M68.6 212.4h0M75.8 218.3h0M59.4 207.7h0M98.0 214.3h0M82.1 208.9h0M72.7 204.5h0M70.6 228.8h0M88.3 201.0h0M99.4 212.4h0M66.3 217.8h0M74.6 227.7h0M60.5 217.9h0M89.6 229.5h0M83.4 214.5h0M108.5 215.2h0M80.0 203.5h0M76.3 217.4h0M73.0 208.6h0M91.7 207.3h0M62.0 202.6h0M90.5 216.4h0M84.4 210.1h0M75.4 225.1h0M70.7 222.6h0M94.1 216.4h0M103.8 214.4h0M76.1 223.1h0M87.8 217.5h0M102.4 209.8h0M74.0 218.3h0M78.5 216.2h0M66.9 221.4h0M79.7 206.3h0M80.5 203.7h0M76.5 214.0h0M72.6 216.2h0M62.5 205.1h0M65.3 212.6h0M69.8 219.8h0M89.2 223.5h0M75.4 219.1h0M71.3 201.4h0M89.4 218.6h0M88.2 196.2h0M72.4 215.4h0M73.9 216.8h0M89.4 206.3h0M85.9 216.5h0M71.4 213.0h0M84.4 221.7h0M81.1 223.1h0M94.9 219.3h0M71.0 214.0h0M92.1 218.9h0M86.7 227.5h0M69.3 212.5h0M94.2 215.6h0M92.4 216.4h0M65.6 219.6h0M105.4 228.6h0M67.7 205.4h0M70.4 218.6h0M77.6 211.8h0M90.8 205.7h0M88.5 207.5h0M80.3 213.8h0M98.0 214.4h0M86.4 212.9h0M98.3 208.6h0M115.5 210.0h0M83.8 217.8h0M50.3 213.4h0M76.0 212.8h0M68.5 211.1h0M82.6 213.7h0M82.7 206.2h0M66.6 214.3h0M67.5 209.9h0M78.3 214.9h0M79.1 218.8h0M49.8 222.4h0M93.3 215.6h0M81.9 211.6h0M81.4 206.9h0M85.1 215.5h0M69.0 218.9h0M80.9 218.3h0M94.1 206.3h0M94.6 213.9h0M87.1 218.1h0M78.1 210.4h0M71.4 223.9h0M97.6 213.7h0M87.9 215.1h0M76.3 216.1h0M54.9 223.5h0M70.8 209.1h0M57.8 205.1h0M96.8 223.0h0M83.8 214.2h0M72.3 211.2h0M78.1 200.7h0M113.4 216.5h0M96.4 220.6h0M64.9 215.7h0M79.9 202.2h0M66.3 215.2h0M60.2 214.2h0M83.6 203.5h0M111.3 227.6h0M100.8 228.2h0M82.0 209.2h0M76.8 210.2h0M84.0 223.9h0M94.3 211.2h0M63.4 215.5h0M58.3 214.5h0M104.8 219.3h0M85.0 217.8h0M101.4 219.9h0M84.4 214.6h0M99.8 215.8h0M73.9 204.5h0M87.7 210.8h0M100.8 224.4h0M94.2 211.9h0M75.7 206.0h0M92.6 212.8h0M73.2 208.4h0M63.7 215.9h0M88.0 210.3h0M98.9 220.4h0M92.1 209.6h0M65.8 224.5h0M92.3 206.3h0M90.0 224.4h0M75.7 228.9h0M50.4 212.8h0M94.2 215.7h0M92.6 213.9h0M87.7 212.1h0M59.8 216.0h0M62.8 221.4h0M94.2 213.2h0M91.5 212.4h0M87.7 211.6h0M78.4 202.4h0M86.4 219.6h0M74.7 214.9h0M77.6 211.6h0M70.6 218.3h0M84.7 222.6h0M76.2 218.9h0M93.4 207.7h0M90.5 216.4h0M71.3 211.5h0M104.6 218.9h0M67.4 212.7h0M87.1 219.2h0M95.1 219.9h0M97.6 213.7h0M53.7 215.8h0M94.1 205.1h0M96.8 224.9h0M99.6 211.1h0M53.4 205.7h0M72.9 206.6h0M80.2 217.6h0M75.9 219.6h0M98.4 217.6h0M72.9 213.4h0M97.0 213.2h0M88.6 212.5h0M63.1 211.9h0M69.0 222.4h0M75.6 222.5h0M82.7 222.9h0M94.0 223.2h0M79.2 215.8h0M93.0 212.6h0M61.6 199.5h0M42.9 213.1h0M77.2 215.1h0M87.3 205.7h0M76.9 219.9h0M68.7 213.3h0M86.8 208.6h0M105.9 209.0h0M80.2 212.5h0M72.3 217.6h0M70.8 223.4h0M106.3 215.1h0M81.0 218.9h0M89.2 210.3h0M96.9 215.3h0M95.1 210.9h0M69.8 225.8h0M93.6 208.3h0M92.2 220.1h0M87.7 224.8h0M94.2 223.4h0M74.4 219.4h0M80.5 207.8h0M74.8 210.7h0M91.1 222.2h0M73.2 214.8h0M86.5 215.5h0M67.6 225.7h0M79.9 221.5h0M76.9 228.3h0M80.0 220.7h0M83.2 232.0h0M79.2 220.2h0M78.7 221.2h0M55.3 221.2h0M95.5 219.8h0M73.6 207.9h0M78.4 217.4h0M71.0 213.9h0M94.1 209.7h0M70.0 209.7h0M87.9 210.4h0M96.4 218.0h0M102.3 221.3h0M96.5 219.5h0M89.3 217.8h0M66.3 215.6h0M97.8 215.0h0M96.5 207.4h0M92.1 215.3h0M91.7 203.1h0M82.5 208.4h0M75.0 218.4h0M95.2 209.0h0M97.6 232.9h0M68.4 206.7h0M93.1 212.0h0M84.7 212.4h0M92.8 225.4h0M85.0 198.7h0M95.6 216.1h0M94.5 215.5h0M92.8 207.4h0M64.2 216.9h0M92.0 220.1h0M82.3 210.8h0M67.4 222.1h0M90.6 209.9h0M64.4 214.8h0M92.9 207.4h0M103.0 222.0h0M75.3 207.3h0M93.3 212.7h0M87.4 202.1h0M89.9 218.9h0M64.7 203.8h0M89.4 210.2h0M83.4 209.9h0M91.0 219.3h0M81.8 211.4h0M95.5 210.2h0M85.2 220.2h0M90.3 222.1h0M99.0 219.3h0M84.1 205.6h0M94.3 213.5h0M84.6 208.9h0M88.4 212.9h0M75.2 214.5h0M91.5 213.2h0M97.2 217.1h0M80.8 207.2h0M91.8 213.5h0M87.2 213.4h0M68.0 224.4h0M86.3 212.9h0M98.3 218.7h0M75.8 218.5h0M59.6 209.2h0M84.4 221.9h0M73.9 216.6h0M105.6 210.1h0M81.4 207.7h0M81.8 218.4h0M74.1 213.3h0M85.0 213.1h0M74.9 222.5h0M70.7 229.2h0M81.1 227.4h0M71.8 211.6h0M98.3 213.7h0M67.4 224.2h0M81.0 219.2h0M73.4 217.9h0M64.8 218.0h0M102.6 214.4h0M55.8 201.9h0M100.0 219.3h0M64.4 214.8h0M83.0 219.9h0M110.0 218.0h0M55.5 221.7h0M64.9 217.2h0M98.2 217.9h0M84.1 212.7h0M75.1 213.9h0M81.5 220.8h0M70.0 203.2h0M83.4 222.5h0M100.5 212.0h0M77.2 201.3h0M83.7 219.5h0M96.8 206.0h0M106.6 205.0h0M74.6 213.1h0M85.7 226.7h0M74.9 206.2h0M73.9 214.7h0M77.0 218.7h0M74.1 207.2h0M60.5 220.5h0M57.3 209.2h0M72.9 218.9h0M83.6 211.5h0M97.0 221.3h0M75.4 217.8h0M79.9 221.0h0M90.1 219.3h0M91.1 213.5h0M80.5 216.2h0M81.3 213.8h0M105.1 205.9h0M77.8 215.9h0M75.9 227.2h0M61.8 217.6h0M87.3 214.3h0M78.7 208.6h0M105.6 207.5h0M77.8 209.1h0M92.0 216.1h0M93.5 210.4h0M102.3 223.5h0M65.7 207.4h0M101.3 211.5h0M82.1 211.8h0M80.6 217.5h0M78.1 214.8h0M77.0 219.5h0M77.7 211.6h0M53.0 224.6h0M88.2 208.6h0M82.7 211.5h0M70.2 202.5h0M81.1 215.3h0M110.4 214.5h0M86.6 213.6h0M77.1 215.0h0M103.1 214.9h0M72.1 222.5h0M80.0 222.2h0M75.1 218.9h0M79.0 217.0h0M91.0 222.3h0M89.1 222.2h0M72.9 217.2h0M80.3 210.3h0M83.0 216.2h0M76.9 210.9h0M81.5 208.8h0M73.0 210.4h0M72.8 218.1h0M82.5 217.6h0M69.2 227.5h0M87.1 219.2h0M79.5 212.1h0M70.5 222.4h0M74.3 206.6h0M76.0 206.1h0M79.9 217.5h0M83.3 209.1h0M79.3 224.2h0M71.2 222.2h0M99.5 216.7h0M93.0 214.5h0M83.2 216.2h0M93.6 220.1h0M85.9 202.3h0M78.7 213.3h0M82.9 213.1h0M114.6 209.4h0M94.1 213.4h0M94.7 216.0h0M77.0 218.8h0M89.2 225.2h0M109.6 204.4h0M87.1 220.7h0M95.0 225.2h0M97.3 219.6h0M89.8 225.0h0M101.2 201.5h0M84.7 212.6h0M88.0 205.8h0M74.1 206.0h0M114.2 210.1h0M85.6 211.2h0M83.2 219.6h0M98.9 214.9h0M75.9 219.1h0M81.8 214.8h0M72.3 219.9h0M82.1 206.9h0M77.1 210.3h0M88.5 215.5h0M80.3 225.8h0M74.5 210.9h0M78.2 209.5h0M80.4 215.5h0M75.6 223.3h0M93.3 211.8h0M90.1 208.0h0M83.6 227.2h0M67.3 212.0h0M88.2 226.4h0M66.2 215.1h0M84.1 203.8h0M82.4 214.4h0M74.6 212.2h0M71.7 217.5h0M73.3 215.4h0M106.9 199.0h0M78.6 206.6h0M79.3 217.1h0M93.5 217.0h0M86.9 214.7h0M94.7 200.5h0M66.8 214.3h0M68.5 208.4h0M122.5 215.8h0M81.3 223.2h0M78.3 206.7h0M83.8 215.4h0M93.9 219.6h0M67.3 220.0h0M85.3 219.2h0M81.5 218.9h0M90.0 224.6h0M83.9 207.3h0M75.3 212.8h0M71.2 209.2h0M52.1 218.4h0M93.8 212.4h0M63.9 214.6h0M76.9 207.7h0M102.1 209.0h0M76.7 212.9h0M89.3 218.9h0M79.2 222.8h0M90.3 219.8h0M82.2 219.1h0M75.6 218.7h0M98.3 222.3h0M78.6 204.6h0M65.5 213.9h0M77.8 228.0h0M88.4 221.7h0M68.3 224.1h0M91.4 213.1h0M91.1 207.9h0M107.6 220.3h0M74.0 211.4h0M89.9 216.5h0M61.5 208.5h0M76.7 206.5h0M83.1 213.0h0M86.8 210.3h0M81.1 215.1h0M80.7 217.4h0M74.4 222.7h0M76.4 213.2h0M85.5 215.3h0M88.6 217.2h0M89.6 215.2h0M93.9 215.7h0M96.2 221.1h0M59.9 219.2h0M75.5 208.0h0M79.8 216.6h0M74.0 206.4h0M94.5 221.9h0M90.9 223.3h0M80.5 214.3h0M83.3 210.0h0M97.1 218.6h0M77.6 211.2h0M78.0 209.2h0M92.8 207.8h0M87.5 215.5h0M99.0 214.7h0M86.3 225.3h0M90.9 214.5h0M75.2 213.5h0M70.4 206.5h0M81.7 223.1h0M49.6 221.6h0M86.8 221.2h0M93.6 208.9h0M82.7 231.1h0M79.1 222.0h0M95.0 201.4h0M81.3 210.9h0M93.7 223.0h0M108.4 214.4h0M90.6 209.3h0M93.2 211.1h0M87.8 216.2h0M84.9 219.9h0M85.2 209.6h0M82.6 215.0h0M94.9 209.4h0M62.3 213.3h0M78.6 218.1h0M89.8 205.6h0M71.6 218.6h0M80.5 212.3h0M73.4 219.4h0M87.1 216.3h0M92.3 216.2h0M99.4 218.5h0M87.9 213.3h0M73.1 207.1h0M84.9 203.1h0M88.7 205.7h0M98.9 215.5h0M55.9 206.8h0M86.3 212.2h0M59.7 204.5h0M90.5 222.7h0M87.2 205.4h0M87.9 218.6h0M92.5 207.3h0M86.5 217.8h0M74.0 209.6h0M86.1 216.6h0M96.3 226.4h0M80.4 221.2h0M82.2 216.5h0M67.2 215.4h0M95.8 228.7h0M75.7 222.8h0M72.8 220.0h0M76.4 216.6h0M71.4 214.0h0M78.8 220.3h0M97.2 224.0h0M91.4 212.7h0M99.0 216.5h0M99.8 208.7h0M71.0 218.8h0M87.6 210.7h0M99.9 220.0h0M109.5 212.3h0M64.7 215.1h0M64.6 212.8h0M87.5 220.7h0M77.8 216.0h0M69.8 220.8h0M86.4 215.9h0M72.3 211.5h0M54.4 197.2h0M81.5 214.8h0M83.3 210.5h0M89.5 214.0h0M93.1 207.4h0M84.0 212.0h0M78.9 208.5h0M73.7 213.1h0M61.9 200.6h0M76.5 206.5h0M93.8 225.3h0M89.6 212.8h0M106.5 213.6h0M79.9 229.0h0M60.2 221.3h0M91.7 217.5h0M94.3 219.2h0M67.7 214.7h0M62.3 227.1h0M83.6 210.2h0M90.3 209.8h0M68.2 213.3h0M77.6 217.2h0M72.4 215.3h0M67.5 218.5h0M65.8 208.4h0M83.4 211.8h0M77.2 202.6h0M73.6 217.6h0M50.2 207.1h0M102.8 217.8h0M70.3 216.5h0M80.1 221.6h0M68.0 212.2h0M86.3 215.2h0M63.5 211.8h0M82.8 205.6h0M79.4 215.4h0M92.8 212.2h0M68.4 209.8h0M73.8 215.7h0M78.8 218.6h0M107.0 211.8h0M63.9 212.5h0M85.2 209.9h0M73.7 210.1h0M85.4 219.1h0M89.5 211.9h0M83.3 207.2h0M84.8 217.8h0M85.0 212.6h0M74.5 219.2h0M79.0 214.0h0M61.6 204.8h0M77.3 214.1h0M72.3 221.4h0M78.5 212.9h0M90.5 213.3h0M86.2 207.8h0M87.3 223.4h0M94.9 220.2h0M52.8 216.6h0M86.8 224.6h0M81.3 207.9h0M80.4 227.8h0M65.8 220.8h0M88.2 224.0h0M95.4 218.6h0M94.0 209.5h0M80.5 211.2h0M89.3 208.9h0M92.7 210.8h0M103.6 226.9h0M96.4 212.5h0M83.3 226.5h0M82.7 218.1h0M83.6 217.4h0M84.3 218.3h0M75.6 212.1h0M90.9 219.7h0M73.2 204.4h0M71.9 211.6h0M85.8 207.4h0M74.6 210.5h0M78.6 209.5h0M56.5 216.2h0M91.1 202.3h0M81.5 221.6h0M80.0 212.1h0M87.1 214.7h0M84.1 216.3h0M73.1 213.3h0M105.7 218.8h0M76.1 209.7h0M93.3 209.6h0M103.6 213.5h0M74.0 210.6h0M82.7 221.5h0M71.6 226.7h0M94.2 218.1h0M77.5 216.6h0M68.2 199.8h0M97.4 215.8h0M92.6 208.1h0M70.8 210.1h0M95.8 201.2h0M83.9 214.2h0M114.3 209.6h0M102.2 215.4h0M74.8 220.7h0M78.3 221.4h0M70.9 220.3h0M83.1 205.9h0M82.1 213.2h0M90.4 215.6h0M82.5 214.8h0M63.7 219.2h0M71.7 215.6h0M98.6 214.6h0M95.4 210.4h0M79.5 209.3h0M79.9 225.3h0M79.5 213.6h0M81.8 206.3h0M61.2 222.2h0M92.3 216.1h0M73.5 214.2h0M83.3 208.0h0M51.0 212.4h0M84.3 216.2h0M97.6 211.2h0M54.5 209.5h0M99.8 211.8h0M87.2 203.1h0M72.6 212.7h0M62.3 222.3h0M95.5 219.4h0M84.6 215.7h0M88.6 216.0h0M78.2 211.2h0M71.9 213.1h0M92.0 203.8h0M70.0 210.3h0M92.4 205.2h0M61.3 220.5h0M70.3 218.1h0M63.9 211.3h0M97.3 213.8h0M60.3 211.8h0M67.7 213.9h0M89.5 218.5h0M84.2 204.2h0M108.0 206.8h0M103.7 223.9h0M88.9 218.5h0M89.8 214.5h0M59.4 211.5h0M70.8 215.8h0M77.5 223.6h0M79.3 209.8h0M64.8 216.9h0M70.2 207.8h0M71.2 213.4h0M94.3 208.2h0M86.6 209.5h0M77.5 209.5h0M78.1 218.2h0M85.0 208.3h0M73.0 214.0h0M78.3 222.9h0M60.7 218.2h0M89.6 216.7h0M93.1 211.5h0M85.9 210.5h0M87.3 221.7h0M85.9 210.2h0M106.2 214.4h0M83.9 221.4h0M65.5 210.3h0M68.8 220.2h0M90.1 222.0h0M94.4 209.7h0M90.8 208.9h0M91.6 218.6h0M83.7 208.2h0M63.4 209.3h0M72.9 218.5h0M59.5 203.2h0M76.8 215.4h0M64.9 214.1h0M82.6 229.8h0M79.4 211.0h0M57.8 219.7h0M90.3 211.8h0M90.7 225.2h0M64.6 208.3h0M83.2 205.7h0M90.1 202.7h0M77.9 233.5h0M91.8 210.8h0M83.7 212.6h0M94.4 233.3h0M83.7 219.4h0M79.4 215.5h0M87.6 205.7h0M90.9 219.7h0M84.4 213.4h0M75.9 215.4h0M71.8 212.9h0M76.8 217.5h0M74.4 209.5h0M83.8 208.6h0M83.4 223.3h0M80.3 207.8h0M81.3 219.5h0M83.4 216.4h0M100.4 207.0h0M96.0 213.6h0M74.3 211.5h0M86.5 209.7h0M77.3 211.2h0M80.1 218.2h0M78.3 220.9h0M73.7 210.8h0M64.7 210.7h0M51.3 213.7h0M83.7 215.9h0M95.7 208.8h0M70.2 215.4h0M87.4 223.1h0M76.6 213.2h0M84.7 211.5h0M71.4 210.3h0M78.4 220.4h0M79.9 219.5h0M52.3 213.8h0M83.9 217.4h0M79.6 215.2h0M51.0 210.0h0M89.2 211.9h0M80.8 203.3h0M83.7 212.8h0M85.6 203.8h0M76.1 208.2h0M68.1 199.3h0M75.8 214.8h0M76.0 215.4h0M108.3 205.4h0M103.7 217.0h0M75.2 217.7h0M76.1 213.3h0M85.1 212.1h0M88.1 223.1h0M72.7 213.3h0M68.9 217.0h0M104.8 213.8h0M94.1 213.0h0M62.2 216.5h0M59.6 208.7h0M71.0 211.9h0M83.8 215.6h0M87.9 213.8h0M77.0 208.2h0M61.3 210.4h0M83.8 206.5h0M88.5 215.1h0M81.1 213.6h0M75.1 202.2h0M88.2 214.4h0M80.4 204.0h0M67.4 209.7h0M82.3 217.1h0M65.2 223.8h0M92.9 210.0h0M86.9 218.6h0M68.9 219.3h0M83.7 225.1h0M96.5 206.4h0M54.7 214.8h0M79.4 214.3h0M101.4 211.2h0M62.0 213.6h0M79.0 213.9h0M63.6 211.9h0M80.3 216.2h0M51.5 231.6h0M61.1 210.6h0M74.5 212.0h0M82.8 214.2h0M85.8 204.3h0M86.3 222.9h0M95.3 231.9h0M89.7 204.8h0M90.2 211.5h0M69.0 225.1h0M79.2 217.0h0M120.4 209.0h0M109.1 220.9h0M91.3 210.5h0M90.2 200.9h0M93.3 205.3h0M76.1 214.8h0M105.4 211.5h0M76.5 220.5h0M80.1 213.6h0M108.1 215.4h0M55.3 221.6h0M85.6 222.6h0M59.7 203.2h0M73.0 214.2h0M80.0 220.8h0M76.7 217.2h0M83.3 205.1h0M71.6 204.7h0M79.8 218.3h0M66.4 213.7h0M76.3 209.0h0M63.9 217.2h0M89.3 221.4h0M65.0 221.1h0M89.7 214.0h0M75.9 219.4h0M77.3 222.6h0M95.8 215.3h0M82.5 208.6h0M57.5 211.1h0M87.3 215.6h0M44.9 203.9h0M84.4 219.2h0M76.1 215.1h0M63.6 223.6h0M82.1 209.5h0M77.3 215.3h0M106.2 223.9h0M75.6 219.8h0M105.4 202.3h0M98.4 209.3h0M73.5 214.0h0M70.9 209.4h0M97.6 223.7h0M79.4 219.6h0M83.1 222.6h0M77.9 219.7h0M65.9 217.4h0M76.4 211.3h0M69.1 208.6h0M61.9 209.1h0M77.4 197.9h0M103.5 216.7h0M101.4 213.8h0M80.3 211.3h0M82.8 219.5h0M87.5 216.0h0M98.2 211.3h0M85.1 219.8h0M75.1 211.8h0M76.2 207.0h0M95.3 220.9h0M113.8 227.4h0M73.2 214.3h0M55.3 221.9h0M91.3 213.0h0M80.1 217.3h0M82.9 212.5h0M96.7 206.8h0M82.0 209.4h0M64.4 217.4h0M56.4 222.7h0M80.5 230.0h0M66.5 228.6h0M84.8 219.3h0M65.1 214.5h0M76.7 218.9h0M62.6 219.0h0M76.5 224.7h0M75.5 225.1h0M88.6 225.0h0M98.0 210.1h0M78.8 227.1h0M70.3 210.9h0M105.8 219.4h0M85.7 211.2h0M88.8 212.9h0M88.8 209.8h0M99.5 206.7h0M93.9 219.2h0M89.7 220.5h0M90.8 217.2h0M70.3 220.1h0M73.5 211.0h0M79.8 215.6h0M82.3 214.8h0M81.4 212.3h0M85.0 217.7h0M81.5 208.1h0M75.8 226.6h0M60.7 214.3h0M91.7 211.5h0M88.6 219.5h0M70.1 219.7h0M87.4 209.1h0M86.1 216.8h0M82.1 226.9h0M57.9 224.3h0M65.9 209.3h0M73.6 220.8h0M101.5 206.1h0M70.3 206.9h0M76.8 216.5h0M67.1 212.2h0M74.9 220.4h0M85.5 217.4h0M55.0 220.4h0M45.3 212.8h0M89.5 222.7h0M81.6 215.9h0M73.5 215.0h0M93.4 211.4h0M93.4 227.8h0M54.7 227.2h0M79.0 220.6h0M95.1 215.9h0M72.7 214.5h0M77.2 214.0h0M93.2 202.0h0M77.8 211.1h0M66.0 212.0h0M72.5 218.5h0M64.4 210.9h0M88.1 210.5h0M59.4 211.8h0M93.8 215.3h0M60.4 212.0h0M81.7 205.6h0M62.6 220.8h0M77.2 228.7h0M94.1 209.5h0M95.3 210.0h0M97.6 215.9h0M80.0 217.9h0M82.5 197.9h0M84.1 217.9h0M88.9 222.4h0M76.1 218.3h0M95.1 211.5h0M85.3 218.8h0M95.6 217.0h0M87.2 213.0h0M89.7 217.5h0M71.9 214.7h0M75.9 215.6h0M64.8 222.4h0M77.4 214.8h0M78.9 222.5h0M91.7 208.9h0M65.2 221.6h0M122.0 215.1h0M79.6 226.5h0M97.1 217.3h0M94.3 222.4h0M49.3 207.1h0M77.8 216.0h0M99.8 211.2h0M50.5 227.2h0M90.9 222.5h0M69.6 216.7h0M75.2 223.8h0M84.0 208.0h0M57.5 218.6h0M83.6 214.2h0M73.0 213.6h0M71.7 216.5h0M90.0 210.0h0M125.5 217.7h0M85.5 212.8h0M88.1 207.5h0M80.5 213.9h0M72.0 214.8h0M84.4 217.1h0M100.3 214.1h0M83.5 210.9h0M92.4 216.3h0M78.3 225.7h0M113.0 213.0h0M60.3 216.9h0M88.5 212.0h0M88.0 214.7h0M84.5 205.3h0M67.0 223.2h0M66.7 221.8h0M78.1 211.3h0M82.3 221.5h0M65.7 213.8h0M67.6 215.8h0M88.2 227.1h0M94.1 210.6h0M74.0 207.0h0M72.2 214.3h0M71.9 224.2h0M112.4 209.2h0M87.2 221.4h0M80.2 216.0h0M93.8 212.2h0M110.1 218.9h0M95.9 225.1h0M63.0 216.8h0M79.9 215.5h0M75.9 220.7h0M76.7 220.2h0M65.6 211.3h0M76.1 216.0h0M67.3 218.7h0M85.3 218.8h0M81.6 214.2h0M63.1 215.4h0M59.4 217.1h0M74.9 224.0h0M89.2 217.2h0M87.3 218.9h0M80.1 214.9h0M39.1 209.8h0M74.7 209.7h0M71.6 211.7h0M76.7 214.7h0M65.5 217.8h0M75.5 213.4h0M72.5 218.5h0M115.4 216.0h0M89.9 220.1h0M78.5 215.7h0M80.4 215.8h0M79.5 204.1h0M83.4 211.8h0M75.8 217.8h0M80.7 210.5h0M94.0 217.7h0M91.5 208.7h0M84.9 210.4h0M97.9 197.0h0M83.8 221.8h0M68.5 216.2h0M58.8 216.8h0M72.1 213.8h0M80.2 211.0h0M86.0 221.0h0M94.6 219.2h0M73.7 213.7h0M70.8 209.8h0M90.8 221.7h0M95.9 224.1h0M74.9 208.5h0M85.3 210.0h0M98.4 208.0h0M85.0 221.0h0M80.3 216.5h0M54.6 214.9h0M97.8 212.0h0M89.1 215.7h0M82.6 215.5h0M75.1 209.4h0M65.2 218.5h0M79.7 218.6h0M79.6 217.9h0M94.9 217.8h0M65.6 215.1h0M99.3 215.8h0M81.4 217.9h0M96.0 206.1h0M68.7 213.9h0M85.4 217.1h0M96.5 207.0h0M82.4 218.5h0M62.3 216.0h0M76.8 216.0h0M87.8 218.5h0M63.2 218.3h0M62.7 215.5h0M84.0 223.8h0M68.9 218.1h0M89.6 213.4h0M66.1 214.2h0M57.7 214.4h0M71.1 201.6h0M99.9 210.5h0M70.0 216.6h0M80.9 216.0h0M84.1 215.2h0M68.9 213.1h0M94.8 216.5h0M83.2 206.1h0M86.6 221.7h0M59.7 212.3h0M58.8 213.1h0M46.1 223.5h0M78.6 211.6h0M78.1 212.1h0M90.2 218.8h0M99.8 200.7h0M77.8 211.1h0M77.6 217.4h0M86.7 217.9h0M100.4 219.0h0M70.6 214.1h0M88.9 214.6h0M77.9 223.8h0M76.8 221.7h0M91.3 219.2h0M71.0 218.1h0M67.5 218.0h0M89.4 218.9h0M80.7 211.5h0M77.7 209.8h0M79.3 214.9h0M87.3 228.1h0M76.3 216.4h0M90.7 211.6h0M86.3 215.6h0M99.8 212.9h0M97.0 214.1h0M91.9 223.8h0M78.5 230.5h0M82.5 211.5h0M73.5 218.7h0M117.1 211.4h0M78.2 217.2h0M88.1 216.0h0M98.2 206.5h0M63.8 223.1h0M70.6 215.8h0M76.0 222.0h0M68.5 215.4h0M65.0 213.1h0M74.5 211.7h0M97.4 213.8h0M90.2 223.2h0M81.5 213.8h0M81.4 210.0h0M60.0 210.2h0M89.9 202.2h0M86.5 211.7h0M67.4 221.9h0M83.7 218.3h0M78.6 214.9h0M74.5 209.3h0M68.6 222.6h0M72.5 210.2h0M69.2 211.9h0M86.9 220.3h0M85.7 211.5h0M85.2 219.7h0M78.8 215.4h0M75.9 217.3h0M106.9 212.9h0M57.5 223.2h0M96.2 211.6h0M85.6 228.1h0M82.0 217.7h0M74.7 218.9h0M78.3 206.0h0M66.1 212.7h0M63.5 218.9h0M79.7 220.7h0M60.2 215.9h0M91.7 218.6h0M95.2 201.4h0M37.6 233.5h0M61.5 215.7h0M84.5 229.8h0M83.8 209.0h0M82.5 220.0h0M86.5 205.5h0M90.6 218.2h0M92.1 208.4h0M103.8 213.2h0M81.5 208.2h0M92.1 214.7h0M60.6 233.8h0M79.5 219.7h0M65.7 225.2h0M98.8 209.0h0M110.7 211.0h0M88.0 215.0h0M64.7 213.2h0M79.7 214.2h0M81.5 218.7h0M83.7 203.6h0M94.9 213.3h0M93.2 216.0h0M47.7 225.3h0M98.4 218.3h0M74.9 215.5h0M74.1 216.6h0M99.1 217.4h0M77.8 215.7h0M63.8 222.6h0M64.4 215.9h0M81.9 224.5h0M92.7 220.0h0M100.2 219.0h0M79.0 210.2h0M75.3 212.6h0M101.7 214.1h0M75.4 222.4h0M99.6 217.0h0M84.2 210.4h0M84.2 207.7h0M78.2 224.2h0M84.9 217.7h0M75.3 214.9h0M72.6 213.5h0M79.5 215.3h0M73.0 211.6h0M85.0 223.7h0M82.3 206.0h0M77.9 222.2h0M78.7 215.0h0M78.3 212.3h0M103.2 207.5h0M81.1 209.9h0M73.7 210.3h0M77.5 207.8h0M89.6 215.8h0M78.7 210.9h0M79.3 206.1h0M77.9 219.9h0M83.3 223.5h0M86.1 221.0h0M86.8 206.6h0M60.5 208.6h0M67.7 217.9h0M48.0 215.0h0M91.3 212.0h0M95.2 208.4h0M97.6 225.8h0M83.0 218.5h0M95.7 216.2h0M80.7 213.3h0M79.6 214.8h0M61.7 217.8h0M71.3 213.8h0M73.7 230.9h0M92.8 196.4h0M102.1 209.5h0M75.3 210.1h0M85.9 218.9h0M84.7 212.6h0M71.4 203.3h0M59.4 205.1h0M71.7 215.1h0M63.0 223.3h0M77.2 214.4h0M79.4 217.0h0M78.9 210.2h0M79.0 222.9h0M87.3 216.1h0M69.4 214.0h0M92.4 217.5h0M60.0 209.7h0M81.9 221.9h0M86.1 222.4h0M71.1 217.6h0M61.0 211.0h0M89.2 216.7h0M72.6 219.0h0M91.0 210.0h0M90.8 213.4h0M81.1 218.3h0M81.1 214.4h0M93.6 216.1h0M85.9 211.3h0M69.4 214.8h0M83.3 219.9h0M88.1 217.8h0M83.7 217.6h0M83.5 212.8h0M79.3 213.0h0M79.6 220.2h0M69.3 216.8h0M63.1 214.0h0M95.3 208.0h0M73.1 214.0h0M83.9 203.3h0M62.2 215.7h0M83.1 210.7h0M70.7 217.5h0M118.5 219.7h0M68.3 215.0h0M69.0 212.7h0M93.0 212.8h0M95.5 213.7h0M54.6 218.2h0M84.3 220.0h0M92.2 216.5h0M65.7 212.9h0M89.7 209.1h0M74.5 235.2h0M68.6 212.0h0M76.7 208.8h0M75.3 207.8h0M63.6 213.5h0M109.3 210.1h0M75.4 218.1h0M71.7 216.1h0M91.9 211.6h0M80.2 221.8h0M97.9 219.3h0M77.8 214.1h0M85.5 223.0h0M82.3 214.8h0M83.2 224.0h0M78.5 214.1h0M79.8 215.1h0M102.2 217.7h0M72.6 221.2h0M74.3 218.5h0M76.8 228.8h0M88.3 217.3h0M86.2 214.3h0M92.9 207.5h0M64.3 218.9h0M84.4 216.1h0M78.9 206.9h0M77.5 204.9h0M83.2 218.0h0M56.4 209.8h0M84.5 208.0h0M82.9 212.0h0M63.2 221.8h0M79.9 220.9h0M100.6 211.0h0M76.2 201.3h0M88.6 216.0h0M78.3 205.8h0M70.9 204.2h0M69.6 223.1h0M76.1 219.0h0M97.4 205.5h0M91.3 208.9h0M72.3 212.2h0M93.6 214.8h0M79.5 211.4h0M72.5 219.3h0M86.5 199.9h0M69.7 222.5h0M61.4 226.7h0M97.3 213.7h0M58.2 207.4h0M87.9 217.9h0M62.0 216.2h0M80.8 221.3h0M78.6 215.7h0M75.6 221.5h0M53.8 222.3h0M79.8 224.1h0M80.7 218.5h0M69.9 204.4h0M80.3 215.6h0M93.6 213.5h0M72.2 202.1h0M84.4 218.9h0M66.8 221.7h0M85.9 211.8h0M89.1 222.3h0M112.1 212.0h0M92.5 207.8h0M86.6 221.5h0M98.8 217.6h0M68.7 205.4h0M94.5 221.0h0M74.4 219.5h0M73.4 214.0h0M94.8 216.6h0M84.1 220.2h0M97.7 204.9h0M63.1 219.4h0M84.6 213.0h0M74.6 217.9h0M77.8 216.7h0M57.4 224.4h0M92.9 209.1h0M83.8 217.7h0M68.9 208.0h0M64.4 222.8h0M70.4 218.5h0M98.6 211.6h0M80.0 214.6h0M77.1 219.3h0M87.4 215.8h0M81.4 223.0h0M84.1 214.7h0M90.5 230.8h0M85.4 214.0h0M92.2 206.6h0M66.4 210.3h0M82.1 210.0h0M76.9 217.9h0M82.6 212.2h0M80.8 217.6h0M73.4 216.0h0M77.0 215.9h0M93.1 235.0h0M74.5 209.9h0M65.9 213.0h0M88.7 209.8h0M93.4 220.4h0M78.0 211.1h0M83.0 212.2h0M71.0 229.0h0M78.9 225.9h0M95.1 214.3h0M91.3 218.8h0M83.2 215.2h0M78.0 219.2h0M61.2 206.9h0M85.3 226.5h0M87.1 223.2h0M94.5 220.6h0M106.4 222.4h0M86.1 218.5h0M93.3 214.9h0M67.6 223.8h0M96.4 212.4h0M92.2 206.8h0M98.3 207.9h0M89.8 202.7h0M87.1 208.1h0M99.8 214.6h0M73.3 204.7h0M89.5 210.6h0M94.9 203.3h0M71.8 216.7h0M67.3 228.4h0M86.9 222.0h0M83.1 214.0h0M89.1 211.5h0M89.5 216.1h0M72.1 209.4h0M85.7 221.9h0M95.5 218.8h0M77.2 209.3h0M78.1 214.9h0M67.7 215.1h0M91.7 206.2h0M105.7 207.6h0M64.7 220.5h0M91.0 213.5h0M92.8 224.9h0M74.7 215.4h0M77.0 212.9h0M68.7 226.0h0M72.0 206.0h0M83.7 202.9h0M89.7 211.8h0M83.1 209.4h0M92.2 205.6h0M84.2 216.0h0M67.3 209.3h0M99.6 212.0h0M96.3 223.7h0M72.9 220.8h0M103.5 217.6h0M87.5 208.3h0M83.3 214.4h0M105.4 208.2h0M50.9 219.1h0M61.9 223.5h0M90.5 202.2h0M78.7 198.7h0M70.1 213.2h0M100.3 215.5h0M87.8 207.6h0M66.0 222.3h0M73.6 216.6h0M92.2 223.3h0M103.8 211.3h0M57.1 214.5h0M84.9 217.3h0M77.1 219.1h0M60.3 225.0h0M79.8 220.1h0M62.0 208.3h0M75.2 217.4h0M101.8 206.6h0M88.2 220.0h0M91.5 215.1h0M89.2 217.5h0M86.2 216.4h0M93.8 209.9h0M67.5 228.0h0M77.4 210.7h0M92.4 210.4h0M72.9 215.3h0M76.5 214.8h0M96.8 215.8h0M100.8 210.1h0M74.4 214.9h0M71.8 220.5h0M89.1 213.8h0M85.3 209.1h0M73.6 213.1h0M89.3 214.5h0M88.8 213.5h0M82.9 218.0h0M118.2 216.4h0M98.7 225.7h0M92.0 215.7h0M94.6 208.6h0M118.5 215.9h0M95.5 219.9h0M73.1 209.9h0M85.9 213.9h0M82.9 214.1h0M75.0 212.4h0M85.2 210.7h0M85.1 215.1h0M81.3 220.0h0M76.0 204.8h0M92.2 214.3h0M62.3 220.4h0M92.2 213.5h0M82.1 207.8h0M85.4 223.4h0M52.6 208.3h0M102.8 215.0h0M60.6 203.8h0M71.3 211.4h0M90.0 215.3h0M74.5 207.8h0M77.0 207.5h0M54.4 218.2h0M76.6 213.8h0M84.6 218.0h0M90.4 209.2h0M78.5 223.6h0M84.7 215.9h0M87.4 227.6h0M73.7 211.8h0M72.7 228.7h0M106.3 220.4h0M71.5 213.8h0M97.3 216.5h0M82.9 217.6h0M100.3 220.1h0M74.1 218.1h0M88.4 225.2h0M86.1 212.9h0M79.2 210.3h0M85.9 210.3h0M72.5 215.6h0M81.1 207.7h0M77.1 212.4h0M91.5 208.9h0M80.9 212.7h0M64.8 215.5h0M77.4 219.7h0M80.8 230.8h0M70.9 211.6h0M98.5 215.0h0M87.1 202.9h0M92.5 226.4h0M72.6 210.3h0M77.1 220.9h0M94.6 214.5h0M64.3 221.0h0M86.6 212.7h0M83.2 215.1h0M75.8 210.0h0M83.2 214.1h0M68.7 212.6h0M84.8 207.3h0M67.0 212.5h0M66.2 216.4h0M99.4 206.9h0M73.3 216.0h0M55.8 213.6h0M94.1 216.4h0M72.5 219.3h0M38.3 234.6h0M81.3 210.9h0M93.6 221.4h0M86.4 210.4h0M103.4 203.4h0M80.5 222.9h0M89.5 209.5h0M69.5 216.0h0M84.1 212.2h0M101.1 221.4h0M88.3 214.6h0M84.1 214.0h0M57.5 207.4h0M77.4 202.4h0M66.0 213.7h0M91.7 216.8h0M72.9 202.1h0M86.6 215.4h0M69.6 215.8h0M105.5 213.5h0M67.5 212.7h0M83.8 210.7h0M114.8 217.1h0M84.7 215.5h0M71.2 204.2h0M89.7 205.1h0M94.4 211.8h0M92.9 212.9h0M57.6 217.3h0M84.8 208.7h0M55.6 219.0h0M105.7 213.3h0M83.0 217.6h0M76.3 218.9h0M90.5 214.4h0M88.2 214.7h0M67.3 218.9h0M102.3 214.5h0M79.1 214.6h0M60.2 218.6h0M99.6 218.2h0M101.2 215.0h0M97.8 210.1h0M88.9 208.1h0M71.0 214.2h0M93.8 216.1h0M105.3 214.2h0M92.3 203.1h0M102.1 208.7h0M72.4 221.0h0M94.8 214.7h0M93.8 217.6h0M63.5 217.8h0M61.8 225.7h0M73.1 215.1h0M83.1 223.0h0M87.8 218.2h0M79.3 206.0h0M81.3 209.0h0M80.7 220.1h0M83.2 221.0h0M89.4 220.1h0M88.3 225.9h0M81.4 220.8h0M85.4 216.4h0M76.5 221.4h0M92.1 210.0h0M75.8 215.5h0M102.7 217.3h0M81.8 204.5h0M85.6 210.5h0M72.6 214.9h0M77.8 204.0h0M84.2 207.0h0M82.4 219.1h0M74.4 213.3h0M67.6 218.1h0M82.7 223.5h0M84.1 203.5h0M89.0 205.7h0M97.8 221.9h0M78.2 212.1h0M57.1 225.7h0M80.4 208.5h0M59.0 216.1h0M66.0 217.3h0M95.1 206.9h0M89.3 214.6h0M74.1 216.8h0M74.2 209.7h0M81.0 216.8h0M60.1 210.5h0M88.2 214.7h0M77.8 210.1h0M105.3 210.2h0M68.9 210.7h0M94.8 220.4h0M73.6 203.9h0M95.0 215.4h0M69.9 204.8h0M91.4 218.1h0M76.6 216.7h0M71.8 216.9h0M80.3 208.0h0M88.2 217.2h0M87.3 212.2h0M102.1 223.5h0M92.5 217.4h0M49.0 214.8h0M77.1 215.7h0M57.1 227.1h0M77.4 212.1h0M90.0 220.4h0M65.4 203.9h0M67.3 216.6h0M84.0 201.2h0M78.6 211.0h0M102.1 211.3h0M86.3 217.6h0M88.9 215.3h0M104.2 211.3h0M75.9 226.9h0M82.2 208.9h0M69.7 222.4h0M85.5 216.3h0M95.2 230.9h0M99.5 211.5h0M81.7 210.4h0M73.2 213.5h0M72.6 213.3h0M64.6 217.8h0M83.7 213.9h0M99.4 206.9h0M52.3 218.6h0M54.8 212.9h0M99.9 209.8h0M61.9 217.1h0M86.4 213.3h0M66.4 214.2h0M92.1 217.5h0M92.1 199.8h0M84.4 217.4h0M92.7 204.1h0M82.9 208.4h0M89.4 226.9h0M105.3 212.5h0M96.1 208.1h0M74.0 210.3h0M72.1 220.8h0M79.3 213.4h0M79.4 222.3h0M83.2 221.2h0M74.7 216.6h0M90.5 213.4h0M82.8 205.1h0M86.9 212.5h0M82.4 208.5h0M90.1 221.9h0M67.2 222.5h0M102.3 217.1h0M86.7 204.1h0M88.0 222.8h0M90.1 224.2h0M96.0 214.8h0M91.7 207.3h0M85.4 224.7h0M80.1 216.5h0M61.6 224.0h0M85.1 206.0h0M78.4 210.8h0M78.4 213.4h0M112.8 214.0h0M58.9 217.2h0M83.1 214.0h0M97.7 218.3h0M94.6 219.8h0M98.1 221.1h0M66.4 215.5h0M70.3 220.2h0M90.3 209.3h0M78.7 227.9h0M104.1 210.6h0M85.3 211.6h0M84.9 207.4h0M88.0 216.2h0M79.0 224.2h0M84.0 220.5h0M74.0 208.3h0M82.0 216.8h0M76.4 217.7h0M85.7 218.4h0M64.6 216.0h0M63.7 217.0h0M88.3 224.2h0M85.4 218.5h0M70.3 209.3h0M79.7 206.2h0M69.3 216.2h0M108.3 217.1h0M62.8 207.4h0M104.2 215.2h0M72.1 222.5h0M87.9 215.5h0M79.2 210.8h0M77.8 205.6h0M94.4 217.4h0M92.9 211.2h0M78.9 217.1h0M71.1 208.4h0M108.8 212.4h0M100.3 212.7h0M84.4 220.9h0M78.8 217.0h0M86.3 216.8h0M83.6 236.9h0M97.7 209.1h0M70.4 215.5h0M82.9 216.2h0M72.7 217.5h0M99.1 214.1h0M105.4 212.6h0M81.5 223.0h0M89.4 213.9h0M100.4 213.6h0M78.8 214.9h0M70.8 224.5h0M95.8 215.3h0M89.0 222.5h0M80.0 212.9h0M101.1 206.2h0M85.6 209.5h0M60.1 217.9h0M87.0 218.1h0M81.9 218.4h0M106.4 211.9h0M82.4 219.0h0M80.0 218.3h0M88.2 230.0h0M85.7 220.0h0M64.8 220.4h0M84.1 218.2h0M78.5 207.7h0M100.4 222.5h0M113.0 221.9h0M68.5 211.8h0M70.4 221.4h0M72.0 216.4h0M74.3 214.2h0M73.9 215.2h0M83.3 219.7h0M96.4 208.8h0M66.2 206.4h0M63.2 221.8h0M59.3 217.5h0M96.6 208.7h0M99.4 215.6h0M63.2 221.8h0M62.0 218.4h0M84.3 209.8h0M96.5 220.5h0M95.5 212.9h0M85.1 212.5h0M91.3 218.6h0M86.8 211.4h0M75.7 211.2h0M106.8 207.9h0M82.7 209.3h0M68.6 224.6h0M76.8 209.7h0M63.2 212.2h0M82.9 209.0h0M96.5 219.6h0M66.7 210.1h0M96.9 212.1h0M109.2 221.0h0M87.5 207.0h0M68.0 220.3h0M71.9 221.5h0M78.4 212.7h0M66.5 219.3h0M66.9 213.4h0M79.4 216.6h0M80.4 213.3h0M90.3 209.7h0M67.5 215.7h0M106.4 208.7h0M96.1 209.3h0M93.9 219.6h0M74.4 210.1h0M104.7 210.3h0M78.3 214.3h0M105.7 207.3h0M96.2 204.3h0M71.3 210.7h0M76.9 224.1h0M106.4 211.3h0M95.4 215.2h0M80.7 216.6h0M85.3 212.7h0M85.2 216.8h0M72.9 205.4h0M80.2 213.3h0M74.3 215.1h0M77.3 210.4h0M88.6 209.8h0M70.6 208.2h0M91.9 210.7h0M84.1 215.1h0M92.3 213.7h0M93.9 227.6h0M98.5 223.2h0M90.6 208.3h0M91.6 216.5h0M80.4 204.0h0M89.9 203.7h0M71.3 222.9h0M79.6 213.1h0M92.2 197.0h0M82.0 219.7h0M88.3 212.3h0M69.3 216.8h0M100.0 215.7h0M75.4 216.9h0M87.7 214.8h0M82.4 210.3h0M94.5 219.3h0M77.8 212.0h0M70.0 219.7h0M58.6 212.6h0M78.8 213.1h0M67.5 220.2h0M89.5 213.8h0M101.0 218.7h0M54.5 221.1h0M66.3 208.4h0M86.6 225.8h0M98.3 210.9h0M86.6 210.4h0M86.8 218.3h0M89.1 208.0h0M90.0 209.1h0M103.5 222.0h0M90.4 211.4h0M66.9 212.6h0M76.7 219.6h0M85.3 211.3h0M72.4 210.7h0M79.4 219.4h0M76.0 227.3h0M73.8 212.8h0M91.5 219.1h0M77.7 225.5h0M68.8 217.8h0M73.6 229.7h0M83.2 216.9h0M109.5 204.7h0M86.0 232.1h0M101.5 211.4h0M89.0 220.3h0M55.4 218.4h0M87.5 220.3h0M71.8 211.4h0M65.5 215.6h0M69.0 220.2h0M105.4 222.0h0M62.6 218.3h0M74.8 208.2h0M97.4 221.7h0M91.1 212.0h0M60.9 213.7h0M81.3 227.1h0M76.1 208.4h0M80.2 215.2h0M92.2 200.9h0M75.3 204.6h0M78.6 216.6h0M101.2 215.1h0M41.7 229.6h0M73.4 226.9h0M91.6 207.2h0M54.5 221.6h0M67.8 220.5h0M53.1 221.3h0M84.8 209.3h0M68.0 210.2h0M98.4 212.1h0M103.4 212.7h0M82.4 214.1h0M73.2 200.6h0M87.0 230.0h0M82.6 223.7h0M55.1 216.0h0M104.5 209.9h0M86.3 204.8h0M98.4 202.1h0M52.0 205.0h0M100.3 217.9h0M126.8 202.5h0M94.7 214.6h0M50.1 213.0h0M82.2 213.5h0M80.1 208.5h0M86.1 219.9h0M76.3 214.6h0M92.1 217.1h0M71.3 218.8h0M86.3 217.7h0M66.5 225.5h0M83.5 206.1h0M102.8 209.0h0M70.7 208.5h0M95.7 220.2h0M62.2 233.3h0M73.3 221.4h0M76.2 217.1h0M108.3 204.3h0M64.8 209.8h0M107.6 201.1h0M49.6 208.7h0M77.9 210.0h0M101.0 210.7h0M96.3 218.3h0M59.5 213.5h0M54.8 223.4h0M100.3 217.9h0M54.0 215.2h0M93.8 211.2h0M70.0 210.4h0M81.0 220.6h0M114.8 206.5h0M99.4 213.2h0M51.5 226.0h0M88.2 222.1h0M82.4 225.3h0M79.1 204.6h0M110.2 220.9h0M44.0 216.6h0M88.1 215.7h0M84.0 219.0h0M65.0 221.5h0M118.6 209.3h0M53.8 212.8h0M81.8 210.6h0M82.9 214.7h0M50.2 234.1h0M60.2 204.3h0M98.3 219.8h0M101.7 223.6h0M94.1 204.2h0M86.4 225.7h0M85.9 207.1h0M70.0 215.0h0M106.6 203.2h0M110.3 220.7h0M96.5 213.9h0M98.8 212.0h0M58.8 219.6h0M82.9 211.2h0M54.4 225.4h0M100.6 228.1h0M55.2 216.4h0M76.5 217.6h0M63.3 211.9h0M71.0 200.8h0M91.0 212.7h0M68.9 212.7h0M85.9 221.1h0M59.3 211.8h0M111.4 207.2h0M67.1 215.6h0M103.1 204.2h0M127.5 215.8h0M59.5 215.3h0M76.6 203.6h0M106.5 224.6h0M70.5 217.6h0M89.3 196.8h0M65.2 221.0h0M93.3 216.3h0M54.7 205.9h0M99.2 192.6h0M39.9 227.7h0M120.6 212.8h0M84.8 217.5h0M61.5 225.0h0M129.0 213.0h0M103.9 209.8h0M105.6 210.5h0M71.8 213.0h0M94.5 212.6h0M92.0 222.5h0M44.9 215.7h0M93.9 211.0h0M77.0 220.3h0M109.0 212.3h0M109.5 207.7h0M67.0 216.9h0M67.8 218.4h0M85.1 208.5h0M95.3 204.4h0M72.0 219.1h0M78.5 215.7h0M94.3 221.3h0M90.2 214.8h0M106.3 207.1h0M86.2 207.6h0M61.6 217.2h0M42.4 222.5h0M98.7 217.6h0M73.6 214.7h0M73.3 224.8h0M74.6 215.2h0M46.5 220.9h0M72.4 223.6h0M72.1 218.3h0M61.3 213.9h0M121.1 211.9h0M90.7 209.7h0M76.2 203.9h0M84.4 213.1h0M96.9 206.3h0M64.3 222.9h0M75.8 218.7h0M73.1 231.0h0M82.5 223.6h0M37.7 221.7h0M98.4 228.0h0M59.9 218.1h0M79.5 228.1h0M102.8 214.5h0M68.5 197.6h0M74.9 210.1h0M53.8 218.6h0M106.0 206.8h0M55.6 217.7h0M89.0 210.3h0M88.1 206.6h0M66.5 216.9h0M81.9 208.5h0M78.7 229.3h0M69.9 197.9h0M81.9 217.3h0M81.9 220.0h0M58.3 207.5h0M52.2 215.5h0M62.1 211.0h0M83.4 219.5h0M111.3 207.8h0M113.2 204.1h0M87.7 222.7h0M101.6 213.3h0M83.5 216.6h0M105.1 213.2h0M83.6 220.1h0M89.4 223.4h0M74.4 213.0h0M80.6 213.4h0M122.7 199.1h0M54.2 220.3h0M80.8 220.4h0M67.6 228.6h0M101.9 210.9h0M120.8 210.7h0M73.8 201.0h0M94.3 200.8h0M94.3 219.8h0M43.4 232.4h0M75.3 218.0h0M79.2 222.4h0M95.6 211.8h0M90.4 216.7h0M85.9 214.4h0M57.1 209.7h0M64.9 225.2h0M66.6 213.9h0M91.2 223.6h0M58.8 220.6h0M113.1 214.7h0M89.0 211.4h0M118.0 199.6h0M84.1 209.4h0M68.4 222.0h0M82.8 225.0h0M40.0 228.5h0M84.8 217.8h0M57.8 225.0h0M110.6 201.8h0M108.6 203.3h0M72.9 218.7h0M59.0 222.8h0M101.2 213.5h0M79.4 215.8h0M85.2 214.6h0M94.4 225.3h0M56.5 222.7h0M98.1 226.6h0M113.0 204.5h0M45.5 229.5h0M66.5 216.5h0M65.5 222.6h0M96.6 217.8h0M97.0 197.4h0M88.4 207.1h0M92.5 209.5h0M90.8 216.8h0M78.8 212.4h0M37.8 224.2h0M79.3 216.1h0M75.3 219.2h0M77.2 226.7h0M85.3 201.5h0M75.1 210.0h0M58.0 225.3h0M46.7 232.4h0M37.9 228.2h0M107.4 217.1h0M100.5 216.5h0M50.0 232.2h0M74.1 222.8h0M90.1 213.2h0M115.9 206.0h0M66.8 232.9h0M84.1 214.7h0M106.1 218.5h0M41.4 230.1h0M63.8 220.7h0M79.3 220.8h0M64.1 212.8h0M127.4 201.8h0M99.6 214.4h0M84.6 219.6h0M58.7 205.3h0M99.5 197.7h0M94.3 210.0h0M68.6 218.6h0M70.4 209.3h0M47.4 209.9h0M78.4 219.7h0M99.5 198.1h0M102.5 212.7h0M93.1 204.7h0M98.5 216.2h0M66.9 217.2h0M69.6 220.7h0M107.0 210.5h0M90.2 205.8h0M62.3 225.4h0M91.3 215.8h0M98.6 208.0h0M95.9 216.3h0M82.5 199.3h0M68.5 228.7h0M89.0 194.3h0M117.9 213.9h0M83.3 207.3h0M65.1 205.5h0M87.6 210.0h0M52.5 231.1h0M85.1 217.1h0M73.3 216.0h0M101.4 207.3h0M82.3 207.4h0M103.5 202.6h0M75.1 223.6h0M61.3 211.0h0M90.2 227.2h0M78.0 214.6h0M83.1 223.2h0M66.5 231.6h0M92.4 206.1h0M81.5 215.4h0M74.7 228.6h0M87.4 223.6h0M106.2 211.7h0M67.1 222.8h0M62.1 218.0h0M105.6 215.8h0M66.3 220.4h0M82.3 223.9h0M90.5 203.6h0M96.4 215.1h0M80.1 224.6h0M55.1 214.4h0M102.4 207.8h0M70.2 215.4h0M68.3 215.7h0M124.6 210.8h0M99.5 213.1h0M56.3 236.7h0M69.2 229.4h0M74.4 226.0h0M63.2 216.1h0M37.2 213.3h0M97.7 213.6h0M97.2 214.5h0M85.3 205.7h0M70.9 219.8h0M84.6 209.5h0M94.1 209.6h0M56.7 229.8h0M72.5 214.3h0M67.4 216.0h0M95.4 221.7h0M85.7 222.5h0M51.0 230.4h0M66.1 207.1h0M119.1 192.2h0M58.3 213.7h0M83.2 202.6h0M65.9 228.4h0M107.5 199.7h0M78.4 200.3h0M70.1 204.5h0M53.7 227.3h0M74.4 207.9h0M98.2 213.2h0M94.7 204.5h0M50.4 225.5h0M114.4 209.4h0M74.3 220.8h0M56.4 215.8h0M82.6 215.8h0M66.0 209.2h0M66.9 211.2h0M65.7 214.6h0M77.8 216.1h0M68.6 219.7h0M41.8 222.0h0M91.3 207.6h0M68.2 216.4h0M106.2 208.6h0M91.6 213.7h0M93.4 213.7h0M83.7 220.0h0M108.4 225.2h0M72.4 212.2h0M57.7 214.9h0M87.3 221.7h0M71.5 226.0h0M84.4 206.8h0M70.5 215.1h0M107.5 208.2h0M95.2 203.9h0M82.2 207.8h0M70.8 216.8h0M103.9 219.5h0M64.6 227.6h0M70.4 215.6h0M96.2 200.3h0M92.8 206.3h0M124.7 207.9h0M74.8 213.7h0M38.0 217.3h0M94.2 199.5h0M107.5 216.6h0M76.0 210.4h0M114.1 207.3h0M119.0 214.6h0M64.9 226.0h0M69.0 207.4h0M51.9 217.7h0M91.6 215.0h0M95.5 211.9h0M93.0 205.5h0M52.3 219.5h0M62.7 205.8h0M47.9 223.0h0M43.9 227.8h0M49.8 221.5h0M44.6 228.9h0M75.5 218.9h0M88.9 204.3h0M93.4 199.7h0M79.1 210.6h0M64.7 216.5h0M79.3 222.6h0M92.1 221.1h0M73.0 213.7h0M80.7 214.0h0M72.7 221.2h0M67.9 221.0h0M80.2 203.2h0M54.8 212.0h0M102.7 211.0h0M45.0 219.7h0M89.7 203.7h0M49.4 217.9h0M112.8 207.8h0M98.7 224.5h0M61.5 231.8h0M69.5 232.1h0M54.6 237.4h0M78.2 215.8h0M88.5 211.3h0M49.3 217.2h0M106.8 207.3h0M66.6 218.3h0M85.5 226.0h0M98.8 200.8h0M91.4 202.6h0M88.8 218.4h0M75.1 201.0h0M79.3 215.2h0M82.8 221.1h0M105.9 214.1h0M47.1 235.6h0M68.6 220.1h0M52.0 232.8h0M58.2 210.3h0M61.9 216.0h0M103.6 222.2h0M126.7 202.8h0M109.3 223.8h0M53.3 218.8h0M81.1 211.5h0M54.4 219.3h0M89.2 222.6h0M107.4 211.5h0M92.4 214.7h0M98.6 211.7h0M76.2 204.4h0M36.1 209.7h0M35.8 210.7h0M77.3 220.8h0M92.1 219.2h0M107.4 210.5h0M71.8 213.4h0M81.1 231.3h0M85.1 219.3h0M102.8 197.4h0M77.9 225.5h0M55.3 225.5h0M103.3 216.9h0M88.5 210.1h0M87.8 214.6h0M51.4 222.9h0M79.3 227.4h0M41.6 217.3h0M74.2 221.6h0M69.9 217.0h0M91.9 207.2h0M111.2 221.6h0M78.7 227.8h0M118.8 216.7h0M66.5 224.6h0M96.2 236.5h0M51.5 225.1h0M82.2 206.3h0M72.5 219.3h0M74.8 208.3h0M92.4 235.8h0M38.0 223.6h0M82.0 204.2h0M61.6 206.3h0M82.0 219.0h0M88.1 220.5h0M71.3 213.9h0M71.2 226.5h0M54.1 222.8h0M91.5 226.6h0M64.6 217.4h0M89.2 213.8h0M48.1 208.2h0M109.5 207.5h0M57.0 224.6h0M104.9 211.9h0M69.6 227.4h0M91.4 213.2h0M76.3 217.8h0M94.4 209.6h0M79.5 208.2h0M107.3 226.4h0M94.2 210.4h0M94.4 207.1h0M116.1 218.6h0M64.1 203.3h0M108.0 216.2h0M81.0 195.9h0M46.9 215.0h0M89.9 206.1h0M75.0 214.2h0M116.5 201.2h0M68.6 225.5h0M80.5 221.7h0M84.6 230.1h0M37.6 218.5h0M90.6 219.2h0M57.6 213.4h0M110.4 205.5h0M116.0 219.7h0M79.3 210.0h0M44.6 219.5h0M83.4 213.3h0M83.3 211.2h0M95.3 213.0h0M72.9 216.6h0M53.3 211.8h0M76.3 223.9h0M59.1 228.5h0M118.4 214.8h0M63.9 210.1h0M65.1 220.5h0M78.4 200.7h0M69.6 222.8h0M76.5 219.5h0M68.7 215.3h0M73.9 206.0h0M106.7 212.3h0M89.0 221.9h0M50.1 214.0h0M70.0 205.0h0M95.8 232.8h0M65.1 213.4h0M81.2 212.9h0M78.8 222.2h0M91.0 217.3h0M75.5 213.9h0M76.3 215.8h0M60.6 220.7h0M87.3 223.3h0M59.1 216.8h0M117.5 214.2h0M79.0 214.9h0M74.5 221.0h0M96.7 211.0h0M77.6 210.0h0M81.4 213.4h0M78.3 210.6h0M63.5 229.2h0M59.2 215.4h0M64.1 215.9h0M104.3 216.2h0M65.7 219.2h0M70.5 239.1h0M69.6 216.6h0M94.8 216.1h0M122.9 225.8h0M59.1 215.1h0M91.5 218.5h0M82.1 212.9h0M72.8 218.6h0M90.5 209.8h0M51.6 219.7h0M97.7 214.7h0M84.3 210.8h0M57.6 212.8h0M114.4 227.3h0M98.1 212.1h0M104.9 215.8h0M47.5 229.8h0M73.5 206.3h0M68.0 210.0h0M93.2 221.3h0M109.1 219.2h0M37.7 216.4h0M79.9 220.4h0M76.7 218.6h0M101.3 227.3h0M78.5 216.8h0M51.6 211.5h0M75.2 219.9h0M56.7 220.4h0M62.4 204.8h0M80.4 208.5h0M68.9 206.2h0M85.6 209.6h0M46.2 211.9h0M107.1 217.2h0M95.2 225.8h0M51.1 203.0h0M60.5 219.8h0M74.3 222.4h0M128.3 215.1h0M108.1 232.6h0M67.9 200.0h0M105.9 211.7h0M106.2 210.5h0M79.8 226.6h0M106.1 211.5h0M86.7 211.4h0M65.1 218.7h0M53.7 215.2h0M76.7 222.6h0M101.3 209.3h0M49.8 213.7h0M44.2 217.3h0M91.5 210.5h0M119.4 216.4h0M69.8 212.9h0M95.5 215.9h0M120.2 216.0h0M47.7 215.1h0M56.4 232.2h0M128.5 211.5h0M73.2 210.6h0M76.6 208.6h0M84.4 217.7h0M102.6 211.1h0M108.5 206.3h0M68.2 193.4h0M94.7 191.5h0M51.9 236.6h0M58.0 238.5h0M41.7 234.6h0M90.7 236.6h0M109.0 197.4h0M39.7 207.2h0M40.7 213.0h0M123.3 224.8h0M124.3 209.1h0M43.7 232.6h0M47.8 234.6h0M100.9 234.6h0M39.7 220.9h0M41.7 226.8h0M45.8 222.8h0M43.7 211.1h0M49.9 228.7h0M121.3 213.0h0M119.2 220.9h0M125.3 217.0h0M117.2 205.2h0M62.1 236.6h0M78.4 235.6h0M86.6 195.4h0M76.4 194.4h0" stroke="#111" stroke-width="2.24" stroke-linecap="round" fill="none"/></g><rect x="38.1" y="172.3" width="88.8" height="86.1" fill="none" stroke="#707070" stroke-width="1.05"/><line x1="41.7" y1="258.4" x2="41.7" y2="261.7" stroke="#5a5a5a" stroke-width="0.9"/><text x="39.7" y="271.6" font-size="7.3" text-anchor="middle" fill="#303030">&#8211;2</text><line x1="62.1" y1="258.4" x2="62.1" y2="261.7" stroke="#5a5a5a" stroke-width="0.9"/><text x="60.1" y="271.6" font-size="7.3" text-anchor="middle" fill="#303030">&#8211;1</text><line x1="82.5" y1="258.4" x2="82.5" y2="261.7" stroke="#5a5a5a" stroke-width="0.9"/><text x="82.5" y="271.6" font-size="7.3" text-anchor="middle" fill="#303030">0</text><line x1="102.9" y1="258.4" x2="102.9" y2="261.7" stroke="#5a5a5a" stroke-width="0.9"/><text x="102.9" y="271.6" font-size="7.3" text-anchor="middle" fill="#303030">1</text><line x1="123.3" y1="258.4" x2="123.3" y2="261.7" stroke="#5a5a5a" stroke-width="0.9"/><text x="123.3" y="271.6" font-size="7.3" text-anchor="middle" fill="#303030">2</text><line x1="34.8" y1="254.2" x2="38.1" y2="254.2" stroke="#5a5a5a" stroke-width="0.9"/><text x="32.8" y="256.5" font-size="7.3" text-anchor="end" fill="#303030">&#8211;2</text><line x1="34.8" y1="234.6" x2="38.1" y2="234.6" stroke="#5a5a5a" stroke-width="0.9"/><text x="32.8" y="236.9" font-size="7.3" text-anchor="end" fill="#303030">&#8211;1</text><line x1="34.8" y1="215" x2="38.1" y2="215" stroke="#5a5a5a" stroke-width="0.9"/><text x="32.8" y="217.3" font-size="7.3" text-anchor="end" fill="#303030">0</text><line x1="34.8" y1="195.4" x2="38.1" y2="195.4" stroke="#5a5a5a" stroke-width="0.9"/><text x="32.8" y="197.7" font-size="7.3" text-anchor="end" fill="#303030">1</text><line x1="34.8" y1="175.8" x2="38.1" y2="175.8" stroke="#5a5a5a" stroke-width="0.9"/><text x="32.8" y="178.1" font-size="7.3" text-anchor="end" fill="#303030">2</text><text x="81.9" y="161.2" font-size="7.1" text-anchor="middle" fill="#303030">Gained enhancers</text><text x="81.9" y="169.4" font-size="7.1" text-anchor="middle" fill="#303030">(all regions)</text><text transform="translate(10.8,224.1) rotate(-90)" font-size="7.1" text-anchor="middle" fill="#303030">Log<tspan font-size="4.9" dy="1.7">2</tspan><tspan dy="-1.7"> fold change in H3K27ac</tspan></text><text transform="translate(18.6,223.1) rotate(-90)" font-size="7.1" text-anchor="middle" fill="#303030">(HIF2a siRNA/NT)</text><text x="78.3" y="281.5" font-size="7.1" text-anchor="middle" fill="#303030">Log<tspan font-size="4.9" dy="1.7">2</tspan><tspan dy="-1.7"> fold change in H3K27ac</tspan></text><text x="79.7" y="289.8" font-size="7.1" text-anchor="middle" fill="#303030">(VHL/EV)</text><text x="123.8" y="180.2" font-size="7.1" text-anchor="end" fill="#c84a56"><tspan font-style="italic">r</tspan> = 0.061</text><clipPath id="cl4"><rect x="172.9" y="174.4" width="88.4" height="85.5"/></clipPath><g clip-path="url(#cl4)"><path d="M204.9 233.5h0M194.6 236.0h0M212.3 227.9h0M208.3 233.2h0M207.5 229.0h0M222.3 211.3h0M210.4 238.1h0M199.2 238.0h0M208.3 233.2h0M195.4 233.5h0M202.0 221.2h0M194.1 225.5h0M211.1 222.3h0M187.4 231.1h0M212.5 208.4h0M217.1 231.9h0M194.5 238.6h0M193.5 231.0h0M184.1 232.1h0M206.5 228.7h0M189.5 237.9h0M196.7 239.1h0M199.7 230.9h0M195.8 235.1h0M218.2 227.0h0M229.4 228.0h0M194.0 221.2h0M209.6 222.9h0M190.5 218.6h0M198.0 233.1h0M209.0 225.9h0M226.4 223.0h0M223.2 222.0h0M201.6 230.2h0M207.8 227.8h0M200.6 241.6h0M203.4 229.8h0M188.7 227.3h0M179.9 241.6h0M200.5 231.2h0M220.3 219.0h0M217.2 215.0h0M178.5 235.7h0M203.1 224.8h0M196.7 217.5h0M210.2 216.8h0M189.8 235.0h0M219.4 227.6h0M202.9 220.9h0M214.4 223.2h0M218.8 227.3h0M177.4 237.1h0M202.8 225.9h0M228.2 222.1h0M206.2 228.9h0M221.3 224.4h0M212.1 235.9h0M198.6 217.1h0M210.1 217.4h0M221.4 212.0h0M224.9 222.6h0M227.2 220.1h0M189.7 227.8h0M218.1 217.9h0M185.8 241.6h0M204.1 225.2h0M202.9 235.1h0M215.2 225.0h0M210.6 230.5h0M224.3 209.9h0M197.0 226.0h0M218.3 223.8h0M211.7 215.7h0M206.0 227.7h0M188.4 237.4h0M214.3 226.1h0M210.6 228.4h0M217.5 223.5h0M205.4 221.4h0M202.2 229.1h0M211.7 226.0h0M212.8 218.1h0M216.1 222.2h0M196.9 223.1h0M220.0 222.1h0M194.0 239.8h0M193.0 238.8h0M221.5 234.3h0M191.5 223.4h0M189.4 229.1h0M217.8 227.1h0M218.7 230.4h0M195.7 227.6h0M201.3 229.5h0M228.9 218.3h0M191.1 237.4h0M191.9 239.0h0M207.3 215.7h0M191.1 238.2h0M212.7 225.4h0M208.6 217.0h0M197.8 241.6h0M191.9 226.3h0M209.1 225.8h0M202.7 229.1h0M199.4 227.2h0M217.9 232.1h0M210.3 241.5h0M211.6 212.3h0M225.5 223.5h0M204.9 221.2h0M218.3 215.8h0M199.9 226.9h0M214.9 221.4h0M213.7 219.9h0M198.0 218.4h0M183.8 230.1h0M187.3 223.7h0M192.2 233.2h0M214.1 227.8h0M204.0 227.1h0M201.6 225.6h0M213.0 221.4h0M216.7 210.4h0M226.4 215.3h0M197.3 229.2h0M214.0 210.9h0M216.3 221.8h0M192.1 228.7h0M207.8 223.2h0M192.6 233.4h0M202.7 235.8h0M212.1 224.4h0M181.1 236.5h0M193.2 236.9h0M194.2 229.7h0M207.3 228.1h0M195.2 234.4h0M211.5 238.0h0M193.5 232.0h0M198.5 217.0h0M214.8 218.3h0M210.6 218.2h0M208.2 226.6h0M205.4 219.9h0M220.6 227.6h0M226.1 224.5h0M200.6 225.1h0M195.4 240.2h0M190.8 231.1h0M231.3 217.7h0M192.9 219.1h0M186.7 237.6h0M209.9 223.1h0M221.3 227.3h0M188.0 236.2h0M204.2 241.6h0M185.0 239.8h0M195.8 222.0h0M229.8 216.6h0M208.4 225.3h0M202.2 210.9h0M207.0 223.0h0M210.1 234.6h0M204.5 229.0h0M188.7 232.6h0M188.8 220.9h0M194.8 236.7h0M223.5 219.1h0M195.5 223.3h0M225.0 227.3h0M216.2 223.6h0M202.9 241.6h0M192.4 230.4h0M202.6 241.6h0M252.9 225.9h0M176.4 224.9h0M178.5 216.0h0M175.4 225.9h0M232.6 215.0h0M231.5 234.7h0" stroke="#111" stroke-width="2.4" stroke-linecap="round" fill="none"/></g><rect x="172.9" y="174.4" width="88.4" height="85.5" fill="none" stroke="#707070" stroke-width="1.05"/><line x1="176.45" y1="259.9" x2="176.45" y2="263.2" stroke="#5a5a5a" stroke-width="0.9"/><text x="174.45" y="271.6" font-size="7.3" text-anchor="middle" fill="#303030">&#8211;2</text><line x1="196.85" y1="259.9" x2="196.85" y2="263.2" stroke="#5a5a5a" stroke-width="0.9"/><text x="194.85" y="271.6" font-size="7.3" text-anchor="middle" fill="#303030">&#8211;1</text><line x1="217.25" y1="259.9" x2="217.25" y2="263.2" stroke="#5a5a5a" stroke-width="0.9"/><text x="217.25" y="271.6" font-size="7.3" text-anchor="middle" fill="#303030">0</text><line x1="237.65" y1="259.9" x2="237.65" y2="263.2" stroke="#5a5a5a" stroke-width="0.9"/><text x="237.65" y="271.6" font-size="7.3" text-anchor="middle" fill="#303030">1</text><line x1="258.05" y1="259.9" x2="258.05" y2="263.2" stroke="#5a5a5a" stroke-width="0.9"/><text x="258.05" y="271.6" font-size="7.3" text-anchor="middle" fill="#303030">2</text><line x1="169.6" y1="256.4" x2="172.9" y2="256.4" stroke="#5a5a5a" stroke-width="0.9"/><text x="167.8" y="258.7" font-size="7.3" text-anchor="end" fill="#303030">&#8211;2</text><line x1="169.6" y1="236.7" x2="172.9" y2="236.7" stroke="#5a5a5a" stroke-width="0.9"/><text x="167.8" y="239" font-size="7.3" text-anchor="end" fill="#303030">&#8211;1</text><line x1="169.6" y1="217" x2="172.9" y2="217" stroke="#5a5a5a" stroke-width="0.9"/><text x="167.8" y="219.3" font-size="7.3" text-anchor="end" fill="#303030">0</text><line x1="169.6" y1="197.3" x2="172.9" y2="197.3" stroke="#5a5a5a" stroke-width="0.9"/><text x="167.8" y="199.6" font-size="7.3" text-anchor="end" fill="#303030">1</text><line x1="169.6" y1="177.6" x2="172.9" y2="177.6" stroke="#5a5a5a" stroke-width="0.9"/><text x="167.8" y="179.9" font-size="7.3" text-anchor="end" fill="#303030">2</text><text x="212" y="162.6" font-size="7.1" text-anchor="middle" fill="#303030">Gained enhancers</text><text x="212" y="170.7" font-size="7.1" text-anchor="middle" fill="#303030">(HIF2&#945;-bound)</text><text transform="translate(146.5,222.6) rotate(-90)" font-size="7.1" text-anchor="middle" fill="#303030">Log<tspan font-size="4.9" dy="1.7">2</tspan><tspan dy="-1.7"> fold change in H3K27ac</tspan></text><text transform="translate(154.9,221.5) rotate(-90)" font-size="7.1" text-anchor="middle" fill="#303030">(HIF2a siRNA/NT)</text><text x="215.6" y="280.5" font-size="7.1" text-anchor="middle" fill="#303030">Log<tspan font-size="4.9" dy="1.7">2</tspan><tspan dy="-1.7"> fold change in H3K27ac</tspan></text><text x="216.6" y="289.8" font-size="7.1" text-anchor="middle" fill="#303030">(VHL/EV)</text><text x="255.8" y="181" font-size="7.1" text-anchor="end" fill="#c84a56"><tspan font-style="italic">r</tspan> = 0.37</text><text x="0.6" y="309.6" font-size="10.6" font-weight="bold" fill="#111">C</text><clipPath id="cl5"><rect x="38.1" y="323.4" width="89.2" height="85.1"/></clipPath><g clip-path="url(#cl5)"><path d="M76.0 373.1h0M100.7 360.5h0M85.3 361.9h0M81.1 370.7h0M82.3 368.5h0M105.9 365.0h0M87.0 375.7h0M92.7 365.2h0M75.4 364.2h0M75.4 357.2h0M68.2 367.7h0M78.4 369.2h0M72.3 369.1h0M92.1 362.6h0M88.1 362.1h0M79.1 372.3h0M74.1 367.0h0M46.5 367.7h0M73.6 379.3h0M84.1 359.3h0M88.3 367.6h0M44.3 366.7h0M52.3 370.9h0M82.4 368.5h0M68.4 369.2h0M78.0 366.1h0M74.9 363.2h0M87.4 368.0h0M58.7 376.1h0M73.8 372.0h0M91.6 371.5h0M82.9 362.9h0M70.8 373.8h0M85.8 358.3h0M83.9 366.2h0M70.1 369.0h0M88.6 359.2h0M88.4 368.5h0M79.0 369.1h0M91.6 361.7h0M66.7 364.8h0M89.5 371.8h0M78.3 354.0h0M69.5 365.4h0M73.5 375.1h0M94.2 366.7h0M74.0 362.9h0M76.4 366.6h0M72.8 363.4h0M71.2 355.3h0M91.8 360.8h0M106.5 353.1h0M96.2 361.7h0M86.5 370.3h0M89.4 357.9h0M76.5 371.6h0M74.7 362.6h0M66.7 365.2h0M97.4 370.0h0M76.5 371.6h0M72.1 369.2h0M73.0 365.9h0M82.8 359.6h0M74.1 367.5h0M80.7 356.6h0M82.5 362.1h0M96.2 368.9h0M65.9 372.3h0M84.0 366.3h0M72.4 371.0h0M75.5 368.2h0M99.6 360.6h0M87.9 364.8h0M76.0 362.2h0M86.3 370.2h0M80.3 371.9h0M93.6 373.3h0M74.8 377.6h0M86.3 368.9h0M78.1 367.0h0M80.7 368.1h0M78.8 367.2h0M73.3 356.6h0M81.8 372.9h0M92.1 367.2h0M73.4 370.6h0M76.0 372.6h0M84.9 359.0h0M71.7 368.2h0M90.8 358.9h0M88.8 372.3h0M53.6 359.7h0M72.9 355.3h0M67.9 373.3h0M90.3 365.9h0M91.6 366.4h0M66.5 365.5h0M72.5 375.1h0M79.6 364.5h0M76.2 363.4h0M89.0 369.3h0M92.1 378.2h0M87.5 369.9h0M93.4 367.7h0M91.6 361.4h0M79.7 370.5h0M75.5 373.9h0M71.9 364.5h0M90.2 363.8h0M91.0 361.7h0M92.5 365.3h0M76.7 361.5h0M76.0 364.6h0M83.7 376.5h0M95.3 364.1h0M84.8 362.2h0M83.2 366.4h0M70.9 359.9h0M85.8 368.8h0M86.9 362.3h0M69.5 375.0h0M101.2 364.5h0M69.8 371.2h0M91.5 371.2h0M78.2 374.4h0M82.5 365.5h0M71.4 365.6h0M74.0 371.2h0M88.8 372.8h0M78.3 372.0h0M76.6 363.2h0M91.0 372.4h0M89.0 359.6h0M82.5 375.9h0M83.3 365.0h0M100.8 360.9h0M78.6 360.4h0M85.2 368.8h0M85.6 370.6h0M64.2 376.7h0M58.0 364.5h0M82.1 367.4h0M90.8 368.3h0M83.0 368.9h0M74.4 366.2h0M72.9 367.6h0M90.1 359.2h0M77.1 379.2h0M61.8 364.4h0M88.6 368.9h0M83.4 367.0h0M85.1 368.1h0M92.8 365.9h0M96.1 360.9h0M87.2 364.9h0M78.6 375.1h0M55.8 370.1h0M84.1 367.0h0M78.9 365.0h0M96.1 364.9h0M95.6 365.6h0M86.2 360.5h0M96.6 371.0h0M79.7 354.9h0M80.1 370.0h0M70.7 373.7h0M77.0 362.9h0M83.1 360.6h0M93.0 358.5h0M72.0 359.8h0M90.0 363.1h0M108.0 363.3h0M64.9 366.6h0M77.6 367.2h0M80.9 369.8h0M92.4 356.6h0M103.9 354.1h0M95.0 365.1h0M80.2 368.2h0M70.7 370.7h0M79.9 376.2h0M80.2 370.6h0M83.5 369.4h0M70.1 368.1h0M98.5 370.3h0M72.1 378.3h0M88.6 362.3h0M83.1 357.0h0M67.8 380.1h0M81.4 367.5h0M80.8 362.0h0M78.4 373.5h0M90.0 373.7h0M75.0 367.3h0M110.4 364.6h0M93.8 368.8h0M69.9 358.9h0M51.4 361.9h0M95.3 361.5h0M83.5 366.8h0M81.5 368.5h0M69.1 363.2h0M63.7 370.0h0M58.7 361.0h0M110.7 356.3h0M99.4 367.9h0M74.1 363.3h0M102.6 355.5h0M58.8 365.6h0M88.8 371.0h0M88.8 367.2h0M70.5 369.7h0M75.2 366.6h0M68.3 367.9h0M81.0 368.6h0M96.0 360.1h0M92.2 357.8h0M85.4 369.2h0M93.7 373.3h0M59.5 367.0h0M104.3 363.8h0M79.9 364.3h0M65.0 372.2h0M76.0 365.5h0M72.9 372.5h0M81.6 360.4h0M84.2 356.8h0M53.0 374.9h0M95.4 379.2h0M100.9 366.9h0M68.3 370.9h0M97.9 363.4h0M95.3 364.7h0M92.5 362.4h0M64.1 371.5h0M89.1 367.6h0M68.6 365.5h0M108.5 373.5h0M69.0 363.4h0M66.0 371.6h0M93.8 372.9h0M87.8 370.3h0M80.8 363.6h0M82.1 361.6h0M87.7 358.7h0M100.9 361.6h0M72.1 371.4h0M73.9 364.1h0M73.7 367.6h0M79.6 353.5h0M80.6 377.8h0M65.2 359.2h0M84.1 361.7h0M65.5 365.8h0M76.8 367.3h0M77.5 369.8h0M77.6 372.0h0M98.0 373.0h0M93.3 359.7h0M99.3 360.4h0M77.1 364.7h0M97.2 375.0h0M79.9 367.9h0M83.2 365.3h0M83.7 359.5h0M64.6 373.7h0M73.2 365.6h0M78.6 367.8h0M84.8 365.6h0M79.0 370.8h0M70.4 365.4h0M66.7 367.4h0M80.6 376.6h0M66.4 361.2h0M66.5 355.7h0M79.2 371.3h0M82.6 359.6h0M70.6 372.8h0M59.3 371.6h0M83.9 356.1h0M90.2 364.0h0M75.6 358.4h0M76.0 365.1h0M52.8 363.8h0M91.2 365.9h0M67.4 359.8h0M89.0 355.3h0M73.5 363.2h0M78.8 369.5h0M78.2 368.5h0M59.1 373.9h0M113.1 359.0h0M61.9 365.4h0M81.8 369.9h0M70.8 362.2h0M77.6 369.7h0M96.8 354.2h0M58.3 364.1h0M78.8 357.5h0M86.3 369.4h0M81.9 371.5h0M85.2 375.7h0M71.5 363.6h0M61.0 374.6h0M64.9 360.5h0M75.6 365.9h0M89.3 360.8h0M81.4 373.1h0M99.5 367.2h0M81.6 364.9h0M82.8 361.7h0M82.8 372.9h0M59.9 366.6h0M87.3 369.9h0M67.2 363.1h0M75.9 367.8h0M108.3 364.5h0M65.8 365.3h0M81.9 359.5h0M83.9 367.0h0M82.0 359.1h0M80.5 371.6h0M73.8 365.3h0M104.1 369.5h0M56.6 367.6h0M68.2 372.5h0M98.1 363.8h0M87.0 361.9h0M71.4 372.5h0M69.8 377.0h0M77.5 367.4h0M111.8 359.5h0M86.3 364.1h0M68.2 372.5h0M83.3 361.1h0M73.0 368.5h0M98.3 359.8h0M83.9 370.6h0M95.4 361.9h0M82.4 359.4h0M104.7 366.9h0M85.3 367.1h0M83.8 362.3h0M68.3 364.6h0M75.4 364.7h0M85.1 366.2h0M74.5 375.4h0M110.0 362.7h0M80.3 373.3h0M71.4 366.7h0M92.2 377.7h0M74.2 358.9h0M85.3 355.1h0M79.3 363.8h0M71.9 371.8h0M97.0 365.9h0M81.5 361.1h0M93.4 361.0h0M76.4 370.5h0M63.5 361.5h0M65.7 363.9h0M74.3 363.9h0M78.3 368.3h0M81.1 366.1h0M86.6 369.4h0M65.7 366.8h0M83.2 369.5h0M66.0 361.4h0M72.3 366.9h0M111.0 361.5h0M95.6 362.6h0M76.1 364.9h0M101.8 371.5h0M97.3 357.2h0M91.0 364.4h0M97.9 367.2h0M77.5 371.8h0M79.0 370.1h0M70.2 370.7h0M87.4 365.3h0M65.5 372.6h0M74.5 366.3h0M85.9 364.7h0M74.4 370.7h0M84.6 353.6h0M102.1 364.3h0M68.7 365.7h0M97.1 363.7h0M72.3 368.0h0M69.3 363.8h0M83.1 358.3h0M92.7 365.2h0M72.0 371.9h0M71.8 364.2h0M75.2 378.7h0M71.9 366.4h0M82.7 367.0h0M72.0 365.4h0M77.4 374.9h0M84.7 368.2h0M75.5 372.5h0M94.2 367.6h0M72.4 364.0h0M71.3 368.4h0M104.7 366.8h0M98.4 357.8h0M81.3 366.2h0M90.3 376.3h0M84.5 371.6h0M74.4 364.8h0M88.5 363.0h0M84.1 364.8h0M95.7 363.2h0M58.5 373.9h0M90.0 365.8h0M82.4 372.7h0M72.3 372.0h0M75.4 372.0h0M75.6 371.6h0M64.7 370.2h0M73.6 368.5h0M89.8 369.8h0M62.4 362.7h0M76.0 369.6h0M52.3 361.4h0M73.6 361.9h0M85.1 372.7h0M79.9 361.8h0M81.0 374.2h0M67.2 360.2h0M87.2 364.1h0M69.7 373.3h0M91.3 377.4h0M83.0 368.6h0M75.9 374.6h0M98.1 358.7h0M75.8 374.1h0M92.6 366.6h0M81.7 363.9h0M80.5 366.7h0M92.4 364.0h0M85.7 367.5h0M80.4 362.8h0M79.0 372.0h0M83.0 363.4h0M81.5 373.3h0M76.6 366.3h0M68.1 374.5h0M49.7 371.5h0M79.1 363.8h0M77.6 360.4h0M94.9 375.0h0M85.8 370.4h0M94.0 370.6h0M101.1 357.8h0M79.2 371.7h0M70.5 364.2h0M90.2 368.5h0M73.4 375.6h0M77.4 366.6h0M97.6 371.1h0M87.0 362.1h0M93.5 360.8h0M64.4 361.4h0M80.9 372.4h0M93.8 356.7h0M65.2 363.4h0M82.8 376.4h0M85.3 354.2h0M53.1 360.8h0M99.5 370.4h0M72.0 366.1h0M78.8 374.4h0M100.4 365.3h0M59.2 368.3h0M86.0 362.9h0M75.2 372.0h0M81.0 367.0h0M70.7 373.1h0M96.7 362.9h0M67.2 364.8h0M84.8 366.0h0M86.9 359.9h0M79.4 362.9h0M77.2 365.2h0M77.3 360.9h0M92.7 372.3h0M85.9 366.5h0M79.5 376.7h0M67.5 368.5h0M82.4 369.3h0M86.8 361.6h0M80.1 369.4h0M97.6 368.4h0M57.8 370.0h0M110.1 364.2h0M78.3 364.3h0M66.9 373.3h0M59.7 377.5h0M90.8 374.4h0M87.3 359.8h0M77.9 374.1h0M79.9 369.5h0M82.5 372.7h0M75.5 362.6h0M94.2 368.4h0M87.9 359.3h0M79.1 370.9h0M61.0 367.5h0M96.8 360.8h0M74.8 362.2h0M68.2 374.9h0M95.8 367.1h0M86.4 366.6h0M56.5 379.7h0M60.7 365.3h0M75.8 365.3h0M65.6 365.8h0M78.7 374.7h0M111.6 362.3h0M116.0 360.4h0M80.0 361.3h0M90.1 368.6h0M91.1 361.9h0M79.1 356.3h0M63.0 371.3h0M93.3 367.6h0M78.4 368.9h0M85.9 374.4h0M89.0 367.9h0M70.9 359.1h0M100.6 369.6h0M81.4 367.8h0M83.2 360.0h0M75.4 364.3h0M89.0 364.6h0M92.6 367.3h0M73.9 368.2h0M87.5 366.0h0M75.4 363.7h0M65.9 368.1h0M76.6 362.1h0M87.8 376.2h0M87.1 361.6h0M93.4 368.2h0M72.5 367.7h0M77.0 369.6h0M81.4 363.2h0M88.0 366.6h0M79.2 363.6h0M69.3 372.5h0M62.1 367.9h0M94.6 358.5h0M93.3 359.2h0M72.7 369.7h0M98.2 364.0h0M79.8 368.9h0M86.0 366.8h0M95.6 365.0h0M74.9 360.8h0M71.4 364.7h0M59.9 361.2h0M84.2 358.0h0M86.0 373.1h0M90.9 363.9h0M87.8 368.4h0M81.9 375.5h0M94.3 371.1h0M68.4 371.0h0M85.3 357.1h0M86.8 365.6h0M79.2 368.0h0M101.2 364.6h0M85.9 370.3h0M96.7 364.0h0M91.3 366.0h0M78.5 375.9h0M103.7 367.0h0M80.9 363.3h0M79.2 367.5h0M68.3 364.6h0M78.8 372.3h0M77.8 366.6h0M83.1 361.7h0M75.6 376.1h0M87.5 370.0h0M79.7 369.1h0M61.8 370.5h0M74.6 370.3h0M69.9 366.5h0M65.4 363.0h0M77.6 365.2h0M91.6 359.9h0M67.3 362.6h0M56.7 372.8h0M78.7 365.5h0M116.3 364.7h0M73.6 364.0h0M83.9 368.3h0M75.7 368.3h0M90.9 356.3h0M97.9 365.7h0M78.8 375.5h0M94.8 364.5h0M67.7 366.6h0M83.2 369.2h0M65.5 368.1h0M82.9 361.0h0M73.4 370.4h0M83.5 367.4h0M67.3 372.1h0M83.4 364.6h0M82.0 367.3h0M73.9 372.5h0M71.1 368.7h0M66.5 358.5h0M76.0 376.5h0M85.5 373.7h0M79.1 365.1h0M82.6 374.0h0M95.9 354.4h0M76.9 375.3h0M84.2 373.4h0M90.6 368.4h0M86.9 360.2h0M85.3 361.8h0M81.7 363.5h0M103.7 362.5h0M79.8 359.8h0M76.1 377.1h0M87.8 364.4h0M100.3 356.7h0M97.6 370.5h0M81.1 364.9h0M90.7 358.9h0M86.7 359.3h0M81.6 367.4h0M88.5 355.7h0M88.1 363.1h0M82.4 360.7h0M101.3 370.1h0M76.3 371.3h0M97.4 368.9h0M105.8 354.3h0M106.0 376.4h0M84.0 376.3h0M78.6 362.7h0M61.7 368.1h0M80.1 382.8h0M109.9 365.5h0M62.1 370.5h0M62.3 362.3h0M90.8 375.9h0M88.1 368.7h0M59.0 363.5h0M80.1 362.7h0M84.8 371.2h0M62.7 370.4h0M92.2 373.4h0M64.9 361.2h0M94.3 367.5h0M83.2 359.6h0M72.4 363.3h0M61.6 373.7h0M76.7 368.0h0M79.6 363.3h0M79.2 364.5h0M73.7 359.3h0M78.2 361.0h0M91.1 363.7h0M69.9 364.2h0M78.2 370.8h0M86.2 369.3h0M80.5 363.5h0M91.1 363.7h0M99.3 370.5h0M76.5 367.6h0M83.3 370.7h0M45.7 373.7h0M76.6 360.2h0M88.7 370.8h0M67.4 371.7h0M96.6 361.8h0M58.2 368.9h0M96.8 363.9h0M74.5 375.1h0M68.5 368.2h0M74.9 369.3h0M77.5 371.4h0M68.6 371.1h0M64.2 370.1h0M74.4 362.9h0M92.0 355.2h0M85.5 365.5h0M96.7 356.8h0M73.4 366.9h0M76.4 375.1h0M76.7 366.8h0M82.4 359.5h0M86.2 358.5h0M101.6 368.9h0M89.1 353.6h0M82.6 370.4h0M96.8 368.7h0M71.3 370.5h0M65.0 360.7h0M88.6 363.5h0M82.6 361.5h0M82.1 378.4h0M91.8 365.6h0M76.6 367.7h0M79.3 363.0h0M85.2 368.6h0M88.4 359.3h0M92.4 368.9h0M82.0 373.9h0M83.8 375.0h0M51.8 363.2h0M95.2 360.8h0M61.9 373.0h0M80.1 360.7h0M110.8 364.0h0M76.7 367.7h0M61.7 376.6h0M99.8 367.3h0M74.0 366.8h0M78.6 365.7h0M78.6 369.8h0M89.4 360.2h0M89.9 357.8h0M79.1 371.1h0M93.8 362.9h0M69.8 376.0h0M88.6 363.4h0M73.2 372.6h0M88.9 366.4h0M72.6 366.6h0M75.3 368.5h0M98.2 358.9h0M67.2 372.3h0M66.6 370.7h0M87.4 364.0h0M77.4 367.1h0M75.4 365.8h0M78.9 367.9h0M105.8 367.9h0M68.2 364.4h0M77.3 366.5h0M82.5 361.5h0M69.3 360.7h0M80.1 368.5h0M86.3 369.8h0M69.7 370.2h0M93.8 368.5h0M66.9 378.8h0M78.8 357.9h0M84.5 363.9h0M59.7 371.9h0M83.9 363.0h0M110.5 361.6h0M73.4 367.7h0M93.5 359.8h0M83.1 366.2h0M63.5 368.9h0M85.2 365.1h0M69.9 379.7h0M81.5 370.2h0M62.6 372.5h0M89.2 356.7h0M51.8 366.7h0M78.5 362.6h0M95.8 361.4h0M86.6 366.8h0M76.3 358.2h0M77.7 367.9h0M75.4 374.7h0M112.8 359.4h0M79.8 360.3h0M80.3 366.0h0M71.7 365.6h0M74.8 362.0h0M87.7 357.5h0M73.2 364.2h0M70.9 358.6h0M73.9 365.7h0M76.3 355.8h0M82.5 373.6h0M74.7 362.1h0M78.2 365.2h0M71.5 366.9h0M95.2 371.6h0M81.5 360.6h0M76.7 368.0h0M83.9 371.4h0M79.9 369.9h0M61.8 369.9h0M78.3 366.2h0M100.1 369.1h0M86.5 370.7h0M94.5 362.7h0M72.5 367.8h0M62.8 358.0h0M72.2 369.7h0M96.5 360.7h0M68.6 358.6h0M71.0 368.6h0M93.6 359.7h0M77.5 365.2h0M78.1 366.5h0M85.0 357.4h0M81.5 371.7h0M76.8 370.1h0M83.5 375.6h0M72.0 368.1h0M79.9 361.3h0M88.2 366.9h0M67.8 363.6h0M77.9 370.8h0M66.9 362.0h0M89.3 366.1h0M87.8 368.2h0M91.7 356.5h0M92.7 365.1h0M92.6 362.0h0M89.0 364.9h0M71.2 363.8h0M91.6 364.6h0M69.6 374.2h0M108.2 361.8h0M83.9 363.6h0M87.5 363.6h0M65.8 369.4h0M93.2 355.4h0M94.4 368.8h0M61.8 368.0h0M73.8 366.1h0M74.9 372.9h0M72.7 373.7h0M96.9 361.1h0M106.2 359.9h0M67.8 367.2h0M92.9 373.6h0M77.3 368.4h0M96.7 363.3h0M51.3 366.6h0M75.3 360.8h0M94.9 362.4h0M71.4 362.4h0M94.6 356.0h0M74.4 379.6h0M94.0 359.7h0M87.4 368.0h0M75.4 364.5h0M71.4 366.4h0M78.4 372.2h0M94.2 369.7h0M80.3 364.2h0M72.5 368.4h0M61.7 370.7h0M77.7 355.4h0M86.9 367.1h0M68.0 356.9h0M80.3 370.6h0M75.4 364.1h0M62.8 362.6h0M85.8 372.9h0M66.9 373.2h0M71.4 365.4h0M95.1 358.7h0M67.1 360.8h0M87.6 362.8h0M94.5 359.3h0M92.2 371.3h0M86.0 368.1h0M77.6 359.2h0M63.7 371.4h0M82.1 367.6h0M85.7 375.2h0M74.3 368.3h0M68.6 376.4h0M90.7 363.4h0M67.8 360.2h0M85.6 364.3h0M74.6 366.3h0M60.3 371.0h0M99.6 361.4h0M87.6 371.6h0M86.8 368.3h0M63.5 357.0h0M78.8 373.7h0M83.6 369.2h0M71.4 375.0h0M99.9 357.8h0M56.2 370.6h0M88.6 372.4h0M57.7 375.9h0M61.6 362.9h0M65.0 364.8h0M87.0 361.6h0M71.7 367.9h0M72.2 362.8h0M69.3 360.9h0M62.5 365.1h0M69.4 376.4h0M68.3 378.5h0M76.2 374.9h0M75.5 365.8h0M51.4 377.9h0M72.2 373.3h0M94.4 364.8h0M74.3 372.0h0M79.0 373.6h0M71.2 362.6h0M71.6 365.1h0M78.9 362.7h0M63.6 363.7h0M77.7 359.3h0M59.8 369.3h0M83.6 367.3h0M60.8 378.3h0M87.3 367.2h0M91.6 368.6h0M60.2 363.5h0M87.5 362.3h0M74.6 359.6h0M93.3 359.5h0M73.1 361.3h0M76.0 364.5h0M75.9 366.5h0M94.3 367.2h0M56.3 369.7h0M88.4 370.9h0M80.4 364.7h0M73.5 368.0h0M76.5 378.1h0M90.4 380.0h0M89.1 369.7h0M99.4 367.1h0M71.6 369.4h0M56.8 362.7h0M72.7 371.1h0M76.9 374.0h0M74.0 365.5h0M93.8 360.0h0M106.3 355.1h0M83.8 371.8h0M58.0 370.8h0M91.6 367.8h0M71.6 359.8h0M79.7 363.2h0M89.2 365.7h0M83.6 362.6h0M78.4 369.0h0M82.6 367.7h0M88.2 366.1h0M86.7 368.8h0M103.8 365.5h0M43.6 369.3h0M69.9 366.8h0M72.2 359.9h0M89.0 361.3h0M81.8 367.1h0M89.3 377.5h0M62.2 376.9h0M76.6 370.0h0M86.9 368.2h0M78.6 374.1h0M74.4 369.6h0M82.4 366.1h0M98.8 368.1h0M54.1 370.7h0M98.1 365.4h0M82.5 370.4h0M69.0 372.8h0M87.0 366.9h0M79.7 365.6h0M93.5 370.9h0M69.6 379.0h0M90.7 370.8h0M68.4 365.7h0M83.0 375.2h0M87.4 361.3h0M78.2 370.3h0M86.8 365.6h0M72.1 372.0h0M91.8 362.6h0M73.2 367.6h0M70.8 366.1h0M77.8 377.6h0M78.6 363.4h0M69.2 377.2h0M88.7 367.8h0M77.7 364.6h0M86.4 367.3h0M61.4 366.6h0M63.5 368.1h0M76.0 367.0h0M67.4 372.8h0M77.6 362.0h0M85.8 360.5h0M92.4 368.5h0M96.7 369.9h0M88.5 365.0h0M70.8 372.1h0M85.7 365.7h0M73.0 363.6h0M85.6 362.9h0M66.7 360.8h0M95.2 362.9h0M84.1 372.1h0M75.8 372.1h0M63.0 366.2h0M82.5 356.7h0M72.9 369.8h0M82.2 371.6h0M70.7 360.8h0M72.8 368.6h0M86.6 362.7h0M96.8 359.5h0M64.2 374.1h0M76.9 369.3h0M83.9 369.5h0M77.4 364.6h0M74.0 364.4h0M105.0 366.8h0M69.2 365.4h0M83.5 376.0h0M73.4 366.0h0M78.1 365.5h0M52.1 370.3h0M89.8 373.6h0M76.7 368.0h0M67.8 374.1h0M99.0 357.3h0M75.9 369.1h0M71.9 369.1h0M69.2 368.9h0M91.9 362.9h0M79.6 366.7h0M75.6 364.8h0M63.5 373.9h0M68.5 362.7h0M83.3 369.3h0M79.0 363.3h0M55.3 368.7h0M68.9 362.8h0M81.9 367.3h0M111.2 371.2h0M70.3 374.2h0M52.8 371.4h0M88.4 358.9h0M73.5 370.0h0M63.5 368.7h0M85.9 359.9h0M76.5 370.4h0M67.8 366.9h0M63.6 367.5h0M77.8 370.5h0M80.3 365.9h0M58.1 364.2h0M91.0 360.4h0M64.2 370.7h0M83.2 364.9h0M77.0 368.9h0M83.2 370.5h0M72.2 373.1h0M78.5 363.0h0M98.8 379.9h0M72.5 368.8h0M89.0 373.2h0M68.6 369.3h0M79.0 367.4h0M90.7 372.7h0M65.0 374.0h0M83.2 360.1h0M53.7 373.0h0M65.6 368.8h0M74.3 369.4h0M89.7 361.6h0M87.8 359.8h0M68.4 363.7h0M77.7 364.5h0M81.5 364.0h0M60.7 375.5h0M84.3 359.8h0M95.3 368.2h0M94.0 370.1h0M72.2 370.0h0M74.4 371.9h0M68.1 366.3h0M73.4 364.1h0M76.3 360.9h0M87.4 366.7h0M80.2 370.2h0M43.6 373.9h0M45.6 379.9h0M49.7 381.8h0M47.6 370.0h0M109.2 360.1h0M113.2 362.0h0M107.1 377.9h0M115.3 368.0h0M57.9 383.8h0M88.7 354.1h0M74.3 353.1h0M105.0 375.9h0" stroke="#111" stroke-width="2.5" stroke-linecap="round" fill="none"/></g><rect x="38.1" y="323.4" width="89.2" height="85.1" fill="none" stroke="#707070" stroke-width="1.05"/><line x1="41.5" y1="408.5" x2="41.5" y2="411.8" stroke="#5a5a5a" stroke-width="0.9"/><text x="39.5" y="420.2" font-size="7.3" text-anchor="middle" fill="#303030">&#8211;2</text><line x1="62" y1="408.5" x2="62" y2="411.8" stroke="#5a5a5a" stroke-width="0.9"/><text x="60" y="420.2" font-size="7.3" text-anchor="middle" fill="#303030">&#8211;1</text><line x1="82.5" y1="408.5" x2="82.5" y2="411.8" stroke="#5a5a5a" stroke-width="0.9"/><text x="82.5" y="420.2" font-size="7.3" text-anchor="middle" fill="#303030">0</text><line x1="103" y1="408.5" x2="103" y2="411.8" stroke="#5a5a5a" stroke-width="0.9"/><text x="103" y="420.2" font-size="7.3" text-anchor="middle" fill="#303030">1</text><line x1="123.5" y1="408.5" x2="123.5" y2="411.8" stroke="#5a5a5a" stroke-width="0.9"/><text x="123.5" y="420.2" font-size="7.3" text-anchor="middle" fill="#303030">2</text><line x1="34.8" y1="405.6" x2="38.1" y2="405.6" stroke="#5a5a5a" stroke-width="0.9"/><text x="32.8" y="407.9" font-size="7.3" text-anchor="end" fill="#303030">&#8211;2</text><line x1="34.8" y1="385.8" x2="38.1" y2="385.8" stroke="#5a5a5a" stroke-width="0.9"/><text x="32.8" y="388.1" font-size="7.3" text-anchor="end" fill="#303030">&#8211;1</text><line x1="34.8" y1="366" x2="38.1" y2="366" stroke="#5a5a5a" stroke-width="0.9"/><text x="32.8" y="368.3" font-size="7.3" text-anchor="end" fill="#303030">0</text><line x1="34.8" y1="346.2" x2="38.1" y2="346.2" stroke="#5a5a5a" stroke-width="0.9"/><text x="32.8" y="348.5" font-size="7.3" text-anchor="end" fill="#303030">1</text><line x1="34.8" y1="326.4" x2="38.1" y2="326.4" stroke="#5a5a5a" stroke-width="0.9"/><text x="32.8" y="328.7" font-size="7.3" text-anchor="end" fill="#303030">2</text><text x="77.3" y="312" font-size="7.1" text-anchor="middle" fill="#303030">Gained superenhancer</text><text x="77.3" y="320.1" font-size="7.1" text-anchor="middle" fill="#303030">(all regions)</text><text transform="translate(11.2,371.9) rotate(-90)" font-size="7.1" text-anchor="middle" fill="#303030">Log<tspan font-size="4.9" dy="1.7">2</tspan><tspan dy="-1.7"> fold change in H3K27ac</tspan></text><text transform="translate(19.6,371.2) rotate(-90)" font-size="7.1" text-anchor="middle" fill="#303030">(HIF2a siRNA/NT)</text><text x="80.3" y="431.3" font-size="7.1" text-anchor="middle" fill="#303030">Log<tspan font-size="4.9" dy="1.7">2</tspan><tspan dy="-1.7"> fold change in H3K27ac</tspan></text><text x="81.3" y="439.8" font-size="7.1" text-anchor="middle" fill="#303030">(VHL/EV)</text><text x="123.5" y="333.2" font-size="7.1" text-anchor="end" fill="#c84a56"><tspan font-style="italic">r</tspan> = 0.089</text><clipPath id="cl6"><rect x="174" y="324.6" width="88.5" height="85.4"/></clipPath><g clip-path="url(#cl6)"><path d="M211.3 365.8h0M203.6 366.3h0M207.3 365.0h0M230.9 365.0h0M207.0 365.0h0M209.7 371.8h0M219.1 368.4h0M215.9 363.0h0M220.3 359.4h0M206.2 374.7h0M204.5 381.3h0M225.0 357.5h0M207.8 365.7h0M212.8 361.1h0M215.5 366.0h0M197.7 372.5h0M212.0 375.4h0M208.1 377.9h0M218.2 362.5h0M211.0 366.2h0M194.3 372.5h0M220.5 377.0h0M191.6 377.8h0M210.1 375.6h0M207.7 374.1h0M208.4 386.3h0M213.6 370.2h0M221.9 361.3h0M206.1 375.8h0M208.4 372.1h0M220.1 369.0h0M218.0 376.7h0M219.8 368.1h0M216.5 375.8h0M211.6 374.4h0M209.4 370.7h0M209.6 372.4h0M221.5 369.8h0M226.6 375.0h0M230.8 364.8h0M204.7 379.1h0M211.6 366.9h0M213.7 374.3h0M212.2 378.6h0M203.9 373.4h0M232.5 374.9h0M226.7 372.7h0M212.3 372.6h0M209.8 367.5h0M213.6 366.9h0M203.2 370.2h0M210.7 373.6h0M220.4 379.4h0M228.0 370.7h0M221.4 372.2h0M224.9 370.6h0M204.6 375.9h0M225.6 372.8h0M215.3 366.6h0M213.0 379.4h0M228.1 369.3h0M205.4 365.4h0M205.4 377.2h0M207.2 378.2h0M227.7 370.8h0M221.9 372.3h0M198.2 372.2h0M228.1 361.5h0M213.8 372.2h0M217.4 367.7h0M207.0 375.9h0M230.0 372.0h0M217.5 369.2h0M225.1 373.7h0M205.0 365.8h0M219.8 373.0h0M214.5 372.3h0M211.7 377.9h0M206.6 375.1h0M207.6 378.2h0M203.5 375.8h0M207.9 382.7h0M213.5 371.6h0M218.8 360.6h0M200.1 384.5h0M204.7 362.7h0M208.3 373.0h0M199.4 368.4h0M211.2 377.8h0M211.4 360.0h0M212.0 378.1h0M217.3 371.4h0M221.9 361.2h0M220.7 378.0h0M216.1 384.8h0M218.8 371.2h0M206.7 377.0h0M205.5 378.4h0M219.3 376.1h0M218.6 379.4h0M232.8 360.5h0M211.7 364.7h0M205.1 380.8h0M216.2 371.8h0M209.8 374.8h0M205.9 366.2h0M225.6 374.7h0M230.5 359.5h0M216.9 371.0h0M208.0 377.0h0M215.9 371.7h0M213.2 375.1h0M201.5 360.0h0M221.0 369.6h0M216.7 374.0h0M224.7 369.4h0M208.8 363.6h0M213.6 377.2h0M212.7 381.6h0M198.6 366.0h0M195.4 370.6h0M203.7 375.7h0M210.6 372.5h0M200.0 367.0h0M217.4 386.3h0M209.7 364.6h0M214.4 372.5h0M215.8 367.3h0M214.4 371.8h0M214.6 356.5h0M212.4 375.4h0M217.5 364.5h0M220.9 386.0h0M211.5 371.7h0M209.9 367.5h0M210.3 381.2h0M216.5 383.2h0M210.6 371.5h0M210.5 366.0h0M200.6 366.5h0M230.7 373.2h0M203.0 371.1h0M228.6 377.8h0M220.8 360.2h0M222.8 373.7h0M216.1 363.7h0M218.2 372.5h0M216.4 373.2h0M219.1 361.2h0M221.3 375.7h0M227.3 361.9h0M205.2 375.0h0M218.2 376.2h0M228.1 374.5h0M226.2 363.1h0M204.9 373.4h0M216.7 373.3h0M216.4 380.2h0M216.2 364.3h0M194.1 368.2h0M221.6 368.5h0M199.8 369.0h0M233.3 386.3h0M219.8 373.9h0M213.2 370.7h0M219.6 370.1h0M215.3 374.8h0M209.3 370.8h0M213.2 376.0h0M217.1 375.0h0M207.0 380.0h0M220.4 369.8h0M224.0 374.4h0M177.3 375.4h0M179.3 381.3h0M181.4 371.4h0M183.4 383.3h0M187.5 363.4h0M191.6 379.3h0M185.5 377.3h0M235.4 381.3h0M230.3 360.4h0M195.7 369.4h0" stroke="#111" stroke-width="2.4" stroke-linecap="round" fill="none"/></g><rect x="174" y="324.6" width="88.5" height="85.4" fill="none" stroke="#707070" stroke-width="1.05"/><line x1="177.3" y1="410" x2="177.3" y2="413.3" stroke="#5a5a5a" stroke-width="0.9"/><text x="175.3" y="421.4" font-size="7.3" text-anchor="middle" fill="#303030">&#8211;2</text><line x1="197.7" y1="410" x2="197.7" y2="413.3" stroke="#5a5a5a" stroke-width="0.9"/><text x="195.7" y="421.4" font-size="7.3" text-anchor="middle" fill="#303030">&#8211;1</text><line x1="218.1" y1="410" x2="218.1" y2="413.3" stroke="#5a5a5a" stroke-width="0.9"/><text x="218.1" y="421.4" font-size="7.3" text-anchor="middle" fill="#303030">0</text><line x1="238.5" y1="410" x2="238.5" y2="413.3" stroke="#5a5a5a" stroke-width="0.9"/><text x="238.5" y="421.4" font-size="7.3" text-anchor="middle" fill="#303030">1</text><line x1="258.9" y1="410" x2="258.9" y2="413.3" stroke="#5a5a5a" stroke-width="0.9"/><text x="258.9" y="421.4" font-size="7.3" text-anchor="middle" fill="#303030">2</text><line x1="170.7" y1="407.2" x2="174" y2="407.2" stroke="#5a5a5a" stroke-width="0.9"/><text x="168.8" y="409.5" font-size="7.3" text-anchor="end" fill="#303030">&#8211;2</text><line x1="170.7" y1="387.3" x2="174" y2="387.3" stroke="#5a5a5a" stroke-width="0.9"/><text x="168.8" y="389.6" font-size="7.3" text-anchor="end" fill="#303030">&#8211;1</text><line x1="170.7" y1="367.4" x2="174" y2="367.4" stroke="#5a5a5a" stroke-width="0.9"/><text x="168.8" y="369.7" font-size="7.3" text-anchor="end" fill="#303030">0</text><line x1="170.7" y1="347.5" x2="174" y2="347.5" stroke="#5a5a5a" stroke-width="0.9"/><text x="168.8" y="349.8" font-size="7.3" text-anchor="end" fill="#303030">1</text><line x1="170.7" y1="327.6" x2="174" y2="327.6" stroke="#5a5a5a" stroke-width="0.9"/><text x="168.8" y="329.9" font-size="7.3" text-anchor="end" fill="#303030">2</text><text x="214.2" y="313" font-size="7.1" text-anchor="middle" fill="#303030">Gained superenhancer</text><text x="214.2" y="320.9" font-size="7.1" text-anchor="middle" fill="#303030">(HIF2&#945;-bound)</text><text transform="translate(146.5,372.6) rotate(-90)" font-size="7.1" text-anchor="middle" fill="#303030">Log<tspan font-size="4.9" dy="1.7">2</tspan><tspan dy="-1.7"> fold change in H3K27ac</tspan></text><text transform="translate(154.6,372.2) rotate(-90)" font-size="7.1" text-anchor="middle" fill="#303030">(HIF2a siRNA/NT)</text><text x="216.2" y="432.3" font-size="7.1" text-anchor="middle" fill="#303030">Log<tspan font-size="4.9" dy="1.7">2</tspan><tspan dy="-1.7"> fold change in H3K27ac</tspan></text><text x="217.2" y="440.8" font-size="7.1" text-anchor="middle" fill="#303030">(VHL/EV)</text><text x="257" y="334.2" font-size="7.1" text-anchor="end" fill="#c84a56"><tspan font-style="italic">r</tspan> = 0.25</text><rect x="262.9" y="150" width="8" height="300" fill="#fff"/><text x="268.8" y="8.9" font-size="10.6" font-weight="bold" fill="#111">D</text><rect x="331.8" y="32.2" width="169.6" height="300.6" fill="#a8ced7"/><line x1="319.6" y1="52.3" x2="514.4" y2="52.3" stroke="#3a2a2a" stroke-width="0.7"/><path d="M326.5 52.3L326.5 50.9L327 52.29L327.5 51.39L328 52.29L328.5 52.08L329 52.3L329.5 51.78L330 51.35L330.5 52.18L331 50.9L331.5 51.4L332 52.24L332.5 51.99L333 51.62L333.5 51.39L334 51L334.5 52.3L335 51.64L335.5 52.3L336 51.11L336.5 52.28L337 51.31L337.5 52.25L338 50.84L338.5 52.08L339 52.25L339.5 52.26L340 51.94L340.5 52.22L341 51.8L341.5 52.08L342 52L342.5 51.25L343 51.68L343.5 51.43L344 51.12L344.5 50.94L345 50.69L345.5 50.12L346 49.82L346.5 49.44L347 49.3L347.5 49.44L348 49.82L348.5 50.34L349 49.67L349.5 48.79L350 48.3L350.5 48.79L351 49.94L351.5 48.58L352 47.3L352.5 48.58L353 49.86L353.5 46.88L354 43.7L354.5 46.88L355 49.33L355.5 50.02L356 47.51L356.5 44.8L357 47.58L357.5 49.32L358 48.3L358.5 49.32L359 50.06L359.5 51.35L360 51.93L360.5 52.08L361 52.03L361.5 52.29L362 52.24L362.5 52.27L363 52.15L363.5 51.81L364 51.79L364.5 52.07L365 52.14L365.5 52.09L366 52.25L366.5 52.29L367 52.26L367.5 51.86L368 52.3L368.5 51.89L369 52.27L369.5 52.29L370 52.11L370.5 52.23L371 52.3L371.5 51.73L372 51.51L372.5 52.3L373 51.91L373.5 52.28L374 52.18L374.5 51.51L375 51.84L375.5 50.92L376 49.92L376.5 48.58L377 47.3L377.5 48.54L378 49.67L378.5 50.93L379 48.6L379.5 46L380 42.3L380.5 46L381 48.47L381.5 45.3L382 47.16L382.5 43.27L383 36.21L383.5 32.3L384 42.67L384.5 45.3L385 40.3L385.5 44.06L386 47.48L386.5 42.52L387 37.9L387.5 44.19L388 48.81L388.5 46.29L389 41.3L389.5 45.14L390 48.84L390.5 48.46L391 44.51L391.5 40.8L392 46.01L392.5 47.19L393 44.3L393.5 47.4L394 46.17L394.5 43.3L395 45.48L395.5 48.58L396 47.3L396.5 48.58L397 49.85L397.5 51.1L398 51.26L398.5 52.11L399 51.25L399.5 52.21L400 52.3L400.5 52.3L401 52.13L401.5 52.27L402 52.22L402.5 52.06L403 51.54L403.5 51.58L404 50.87L404.5 50.15L405 49.8L405.5 50.26L406 51.11L406.5 51.3L407 51.74L407.5 51.34L408 52.22L408.5 51.3L409 51.77L409.5 50.9L410 48.88L410.5 47.3L411 49.15L411.5 50.44L412 51.7L412.5 52.1L413 51.33L413.5 52.3L414 52.29L414.5 50.82L415 51.8L415.5 51.41L416 50.03L416.5 45.93L417 41.89L417.5 37.3L418 41.89L418.5 38.94L419 33.73L419.5 32.3L420 37.69L420.5 43.04L421 45.74L421.5 40.3L422 45.04L422.5 42.78L423 40.22L423.5 32.8L424 34.44L424.5 41.87L425 46.2L425.5 44.3L426 46.94L426.5 50.08L427 50.92L427.5 46.72L428 40.61L428.5 32.3L429 34.09L429.5 41.9L430 47.82L430.5 50.94L431 51.09L431.5 50.07L432 49.3L432.5 50.07L433 51.09L433.5 51.53L434 52.02L434.5 52.21L435 51.12L435.5 52.29L436 51.39L436.5 52.29L437 52.04L437.5 52.24L438 52.06L438.5 51.86L439 51.34L439.5 50.74L440 50.3L440.5 50.81L441 50.91L441.5 51.74L442 50.49L442.5 48.19L443 46.3L443.5 48.73L444 50.51L444.5 51.17L445 51.45L445.5 50.81L446 50.3L446.5 50.81L447 51.42L447.5 51.64L448 51.63L448.5 52.24L449 51.94L449.5 50.9L450 52.2L450.5 51.75L451 50.39L451.5 47.31L452 44.3L452.5 47.87L453 48.92L453.5 44.92L454 38.8L454.5 42.99L455 48.9L455.5 46.83L456 42.3L456.5 46.74L457 45.52L457.5 37.8L458 40.63L458.5 46.62L459 47.29L459.5 44.3L460 46.8L460.5 49.77L461 50.74L461.5 49.81L462 49.3L462.5 49.93L463 50.75L463.5 51.49L464 52L464.5 50.86L465 52.16L465.5 52.29L466 52.3L466.5 51.5L467 52.28L467.5 52.15L468 52.09L468.5 51.84L469 50.73L469.5 50.81L470 50.3L470.5 50.81L471 51.4L471.5 51.34L472 52.11L472.5 51.02L473 51.75L473.5 51.81L474 51.78L474.5 51.83L475 51.3L475.5 50.81L476 50.3L476.5 50.81L477 51.33L477.5 51.72L478 52.08L478.5 51.43L479 51.41L479.5 50.11L480 48.3L480.5 49.53L481 51.02L481.5 51.53L482 49.42L482.5 45.17L483 42.7L483.5 46.41L484 49.71L484.5 49.57L485 47.3L485.5 49.57L486 50.1L486.5 47.91L487 44.3L487.5 46.92L488 45.03L488.5 41.7L489 45.51L489.5 47.52L490 45.3L490.5 48.03L491 46.7L491.5 43.3L492 45.74L492.5 49.45L493 51.18L493.5 50.32L494 49.3L494.5 50.05L495 51.21L495.5 51.89L496 51.54L496.5 50.97L497 50.3L497.5 50.89L498 51.45L498.5 52L499 52.13L499.5 50.8L500 52.24L500.5 51.79L500.5 52.3Z" fill="#9c0c18"/><path d="M502 51.8H504M506 51.8H507.5M509 51.8H511M512.5 51.8H514" stroke="#9c0c18" stroke-width="1.2" fill="none"/><line x1="319.6" y1="74.2" x2="514.4" y2="74.2" stroke="#3a2a2a" stroke-width="0.7"/><path d="M326.5 74.2L326.5 74.2L327 74L327.5 73.85L328 74.2L328.5 74.19L329 72.92L329.5 74.2L330 74.2L330.5 72.84L331 73.82L331.5 74.12L332 73.99L332.5 73.73L333 74.17L333.5 74.2L334 73.42L334.5 73.72L335 73.98L335.5 73.33L336 73.94L336.5 72.69L337 74.19L337.5 73.93L338 74.02L338.5 74.13L339 73.87L339.5 74.18L340 73.37L340.5 73.16L341 74.19L341.5 74.04L342 74.14L342.5 74.07L343 73.05L343.5 73.71L344 73.26L344.5 73L345 72.72L345.5 72.01L346 71.7L346.5 72.01L347 72.72L347.5 73.24L348 73.39L348.5 73.01L349 72.25L349.5 71.35L350 70.7L350.5 71.6L351 72.47L351.5 73.18L352 72.53L352.5 71.17L353 69.8L353.5 71.43L354 72.65L354.5 73.61L355 72.87L355.5 71.52L356 70.7L356.5 71.88L357 73.05L357.5 72.67L358 72.2L358.5 72.71L359 73.33L359.5 73.75L360 73.86L360.5 73.05L361 74.18L361.5 73.36L362 74.19L362.5 74.2L363 74.2L363.5 74.16L364 73.58L364.5 74.01L365 73.21L365.5 74.18L366 74.15L366.5 74.17L367 72.7L367.5 72.87L368 74.14L368.5 74.07L369 74.15L369.5 73.53L370 74.2L370.5 74.2L371 74.09L371.5 74.18L372 73.23L372.5 73.55L373 73.94L373.5 73.74L374 73.67L374.5 73.44L375 72.92L375.5 74.19L376 73.81L376.5 74.09L377 73.85L377.5 73.42L378 72.74L378.5 71.97L379 71.2L379.5 71.97L380 72.74L380.5 72.61L381 73.88L381.5 73.68L382 72.01L382.5 69.46L383 67.9L383.5 70.46L384 72.78L384.5 73.79L385 73.21L385.5 72.01L386 70.2L386.5 72.01L387 72.75L387.5 71.04L388 69.2L388.5 71.16L389 72.7L389.5 72.41L390 70.8L390.5 68.7L391 71.19L391.5 71.74L392 69.7L392.5 71.74L393 72.54L393.5 69.02L394 64.6L394.5 69.46L395 72.21L395.5 70.92L396 68.2L396.5 70.92L397 72.48L397.5 72.04L398 71.2L398.5 71.88L399 73.13L399.5 73.5L400 74.1L400.5 73.41L401 74.18L401.5 74.19L402 74.1L402.5 74L403 73.94L403.5 73.58L404 72.62L404.5 71.63L405 71.2L405.5 71.9L406 72.5L406.5 73.42L407 73.38L407.5 73.93L408 72.97L408.5 70.48L409 66.9L409.5 69.85L410 72.64L410.5 73.98L411 74.1L411.5 73.73L412 72.97L412.5 71.9L413 71.2L413.5 72.08L414 73.19L414.5 73.03L415 73.51L415.5 73.68L416 72.48L416.5 70.59L417 68.2L417.5 70.04L418 69.42L418.5 66.9L419 69.97L419.5 71.47L420 69.2L420.5 70.69L421 72.57L421.5 73.81L422 73.33L422.5 72.31L423 71.2L423.5 72.31L424 73.1L424.5 73.82L425 73.1L425.5 74.18L426 73.13L426.5 73.93L427 72.95L427.5 71.84L428 70.2L428.5 71.57L429 73.03L429.5 73.86L430 73.82L430.5 74.09L431 73.96L431.5 74L432 74.13L432.5 73.87L433 73.17L433.5 72.68L434 72.2L434.5 72.59L435 73.4L435.5 72.72L436 74.13L436.5 72.64L437 73.95L437.5 74.2L438 74.08L438.5 74.19L439 73.62L439.5 73.95L440 74.13L440.5 73.73L441 72.5L441.5 70.51L442 69.2L442.5 70.86L443 72.68L443.5 72.74L444 74.15L444.5 74.19L445 74.12L445.5 73.92L446 73.45L446.5 72.94L447 72.2L447.5 72.93L448 73.55L448.5 73.84L449 74.14L449.5 73.92L450 73.04L450.5 71.96L451 70.2L451.5 71.74L452 72.55L452.5 71.29L453 69.2L453.5 71.47L454 73.04L454.5 72.01L455 70.2L455.5 72.01L456 73.03L456.5 71.41L457 69.2L457.5 71.24L458 73.01L458.5 72.01L459 70.2L459.5 72.01L460 73.18L460.5 73.71L461 74.12L461.5 74.19L462 74.16L462.5 73.6L463 74.15L463.5 73.67L464 73.65L464.5 73.26L465 72.7L465.5 73.24L466 73.63L466.5 74L467 72.88L467.5 74.01L468 74.14L468.5 74.19L469 73.86L469.5 74.1L470 74.2L470.5 74.2L471 74.1L471.5 73.88L472 73.98L472.5 73.03L473 72.99L473.5 72.89L474 73.38L474.5 74.03L475 73.97L475.5 74.1L476 74.1L476.5 73.87L477 73.38L477.5 72.63L478 71.7L478.5 72.38L479 73.16L479.5 73.79L480 74.11L480.5 73.74L481 73.55L481.5 72.94L482 72.2L482.5 72.94L483 73.16L483.5 73.94L484 73.42L484.5 73.78L485 73.09L485.5 72.31L486 71.2L486.5 72.31L487 73.06L487.5 73.7L488 74.09L488.5 73.83L489 73.08L489.5 72.62L490 71.7L490.5 72.58L491 73.33L491.5 73.83L492 74.11L492.5 74.11L493 74.2L493.5 73.93L494 73.81L494.5 73.53L495 72.8L495.5 74.13L496 73.75L496.5 74.06L497 74.18L497.5 73.07L498 73.54L498.5 72.86L499 73.31L499.5 72.96L500 74.2L500.5 74.2L500.5 74.2Z" fill="#1e1e1e"/><path d="M502 73.7H504M506 73.7H507.5M509 73.7H511M512.5 73.7H514" stroke="#1e1e1e" stroke-width="1.2" fill="none"/><line x1="319.6" y1="96.4" x2="514.4" y2="96.4" stroke="#3a2a2a" stroke-width="0.7"/><path d="M326.5 96.4L326.5 96.37L327 95.04L327.5 96.39L328 96.39L328.5 96.33L329 96.38L329.5 95.92L330 96.4L330.5 95.25L331 95.39L331.5 96.4L332 96.15L332.5 96.4L333 96.37L333.5 96.28L334 96.25L334.5 96.24L335 95.12L335.5 96.37L336 96.39L336.5 95.92L337 95.04L337.5 95.14L338 95.31L338.5 96.4L339 95.09L339.5 95.96L340 95.34L340.5 96.29L341 96.38L341.5 95.6L342 95.94L342.5 95.64L343 96.34L343.5 96.27L344 95.69L344.5 96.02L345 95.05L345.5 95.26L346 94.92L346.5 94.21L347 93.9L347.5 94.21L348 94.86L348.5 95.18L349 95.71L349.5 95.55L350 94.55L350.5 93.42L351 92.4L351.5 93.42L352 94.49L352.5 92.49L353 90.4L353.5 91.79L354 89.01L354.5 78.1L355 86.19L355.5 91.97L356 88.4L356.5 92.29L357 94.69L357.5 94.32L358 93.4L358.5 94.41L359 95.11L359.5 95.99L360 95.16L360.5 95.52L361 96.4L361.5 96.29L362 95.69L362.5 95.31L363 94.97L363.5 96.38L364 95.27L364.5 95.86L365 96.4L365.5 96.39L366 96.39L366.5 96.4L367 95.88L367.5 96.35L368 95.87L368.5 96.4L369 95.34L369.5 95.86L370 95.63L370.5 96.04L371 96.25L371.5 96.39L372 95.06L372.5 96.4L373 96.17L373.5 96.39L374 96.37L374.5 95.86L375 95.28L375.5 95.28L376 94.59L376.5 93.42L377 92.4L377.5 93.42L378 94.57L378.5 95.4L379 93.95L379.5 90.93L380 86.4L380.5 89.91L381 88.59L381.5 82.4L382 86.61L382.5 84.88L383 77.4L383.5 82.45L384 90.48L384.5 88.2L385 81.4L385.5 86.56L386 91.7L386.5 88.07L387 84.4L387.5 89.84L388 88.2L388.5 81.4L389 86.65L389.5 91.58L390 88.37L390.5 85.4L391 89.36L391.5 88.35L392 84.4L392.5 89.84L393 92.98L393.5 90.77L394 87.4L394.5 91.48L395 94.31L395.5 92.68L396 91.4L396.5 92.68L397 94.24L397.5 95.4L398 95.6L398.5 96.23L399 94.82L399.5 96.39L400 96.36L400.5 95.3L401 96.27L401.5 95.67L402 96.27L402.5 96.29L403 95.29L403.5 96.35L404 96.14L404.5 96.11L405 96.14L405.5 95.93L406 95.68L406.5 94.91L407 94.4L407.5 94.91L408 95.52L408.5 95.97L409 95.41L409.5 94.37L410 93.4L410.5 94.51L411 95.24L411.5 95.87L412 96.31L412.5 96.36L413 96.39L413.5 96.11L414 96.32L414.5 96.39L415 96.35L415.5 96.08L416 94.86L416.5 92.8L417 88.84L417.5 84.4L418 88L418.5 84.6L419 79.4L419.5 83L420 83.91L420.5 78.4L421 83.91L421.5 87.58L422 82.4L422.5 86.45L423 84.6L423.5 79.4L424 84.45L424.5 88.86L425 86.4L425.5 90.37L426 93.68L426.5 95.68L427 96.18L427.5 94.92L428 90.89L428.5 85.77L429 80.4L429.5 87.57L430 92.18L430.5 93.57L431 92.4L431.5 93.88L432 95.29L432.5 95.22L433 95.57L433.5 95.24L434 95.29L434.5 95.97L435 96.4L435.5 95.9L436 96.4L436.5 96.33L437 96.36L437.5 96.36L438 95.56L438.5 95.3L439 95.23L439.5 96.02L440 95.66L440.5 95.91L441 94.7L441.5 92.53L442 90.4L442.5 92.84L443 94.67L443.5 93.67L444 91.4L444.5 93.67L445 94.8L445.5 93.97L446 93.4L446.5 94.51L447 95.51L447.5 95.98L448 96.14L448.5 96.38L449 96.35L449.5 96.11L450 95.3L450.5 94.21L451 92.4L451.5 94.21L452 95.04L452.5 92.53L453 90.4L453.5 92.6L454 94.12L454.5 90.99L455 88.4L455.5 91.86L456 93.33L456.5 87.8L457 77.4L457.5 86.56L458 93.28L458.5 94.27L459 89.46L459.5 82.4L460 89.53L460.5 93.32L461 92.4L461.5 93.42L462 94.76L462.5 95.49L463 95.48L463.5 96.38L464 94.85L464.5 95.69L465 96.4L465.5 95.8L466 95.83L466.5 96.2L467 96.36L467.5 96.15L468 96.39L468.5 96.3L469 96.01L469.5 95.81L470 96.14L470.5 95.28L471 95.26L471.5 95.19L472 96.07L472.5 96.12L473 95.62L473.5 95.1L474 94.4L474.5 95.14L475 95.71L475.5 94.95L476 95.72L476.5 95.22L477 96.35L477.5 96.27L478 96.08L478.5 96.09L479 95.09L479.5 93.52L480 92.4L480.5 93.69L481 94.62L481.5 93.11L482 90.4L482.5 90.72L483 88.4L483.5 91.85L484 93.91L484.5 95.64L485 95.06L485.5 93.47L486 91.4L486.5 93.67L487 95.06L487.5 93.97L488 89L488.5 82.4L489 87.46L489.5 90.91L490 87.4L490.5 90.47L491 94.15L491.5 93.88L492 92.4L492.5 93.47L493 94.9L493.5 95.37L494 96.23L494.5 96.37L495 95.52L495.5 95.78L496 96.22L496.5 95.13L497 96.37L497.5 95.79L498 95.96L498.5 96.31L499 95.64L499.5 96.4L500 96.35L500.5 96.21L500.5 96.4Z" fill="#9c0c18"/><path d="M502 95.9H504M506 95.9H507.5M509 95.9H511M512.5 95.9H514" stroke="#9c0c18" stroke-width="1.2" fill="none"/><line x1="319.6" y1="118.7" x2="514.4" y2="118.7" stroke="#3a2a2a" stroke-width="0.7"/><path d="M326.5 118.7L326.5 117.67L327 117.7L327.5 117.85L328 118.67L328.5 118.7L329 117.34L329.5 118.33L330 118.7L330.5 117.49L331 117.17L331.5 118.66L332 117.84L332.5 118.7L333 118.57L333.5 117.83L334 118.59L334.5 118.48L335 118.7L335.5 117.84L336 118.5L336.5 118.68L337 117.95L337.5 117.2L338 118.45L338.5 118.06L339 117.13L339.5 118.7L340 118.36L340.5 117.25L341 118.7L341.5 118.68L342 118.43L342.5 118.1L343 118.43L343.5 118.44L344 118.66L344.5 118.05L345 118.5L345.5 118.34L346 117.29L346.5 117.58L347 117.2L347.5 116.95L348 116.7L348.5 116.95L349 117.52L349.5 117.91L350 118.04L350.5 118.08L351 117.38L351.5 116.47L352 115.7L352.5 116.47L353 117.3L353.5 117.99L354 117.53L354.5 116.37L355 115.7L355.5 116.81L356 117.7L356.5 118.31L357 118.6L357.5 117.27L358 118.7L358.5 117.42L359 117.5L359.5 118.35L360 118.69L360.5 117.91L361 118.69L361.5 118.65L362 118.23L362.5 118.58L363 118.54L363.5 118.66L364 118.7L364.5 118.62L365 117.8L365.5 117.78L366 118.7L366.5 118.43L367 118.63L367.5 118.6L368 117.16L368.5 117.85L369 118.49L369.5 118.49L370 117.47L370.5 118.62L371 117.94L371.5 118.08L372 118.06L372.5 118.55L373 118.18L373.5 117.76L374 118.66L374.5 117.99L375 118.52L375.5 118.46L376 118.54L376.5 118.62L377 118.02L377.5 118.6L378 118.69L378.5 117.92L379 118.6L379.5 118.39L380 117.18L380.5 118.27L381 118.47L381.5 118.48L382 117.01L382.5 113.03L383 108.1L383.5 113.33L384 117.11L384.5 118.29L385 117.71L385.5 116.65L386 115.7L386.5 116.81L387 117.69L387.5 118.24L388 118.6L388.5 118.29L389 117.54L389.5 115.97L390 113.7L390.5 115.97L391 117.41L391.5 116.51L392 114.7L392.5 116.36L393 117.38L393.5 115.97L394 113.7L394.5 115.39L395 117.24L395.5 116.81L396 115.7L396.5 116.41L397 117.45L397.5 118.26L398 118.58L398.5 118.67L399 118.7L399.5 118.66L400 117.42L400.5 118.46L401 118.67L401.5 118.7L402 117.54L402.5 118.7L403 118.7L403.5 118.7L404 118.02L404.5 117.4L405 118.7L405.5 118.28L406 118.26L406.5 118.47L407 118.62L407.5 118.17L408 117.83L408.5 116.88L409 116.2L409.5 117.04L410 117.83L410.5 118.35L411 118.3L411.5 117.64L412 118.58L412.5 118.62L413 118.34L413.5 117.7L414 118.69L414.5 118.36L415 118.33L415.5 118.4L416 117.49L416.5 116.21L417 114.7L417.5 116.51L418 117.62L418.5 116.51L419 114.7L419.5 116.07L420 117.44L420.5 116.81L421 115.7L421.5 116.7L422 117.7L422.5 116.81L423 115.7L423.5 116.43L424 117.68L424.5 118.39L425 117.84L425.5 117.35L426 117.54L426.5 118.38L427 117.8L427.5 116.64L428 115.7L428.5 116.81L429 117.91L429.5 118.28L430 117.13L430.5 118.68L431 117.79L431.5 118.7L432 118.28L432.5 118.45L433 118.68L433.5 118.67L434 118.61L434.5 118.52L435 118.69L435.5 118.56L436 118.7L436.5 118.5L437 118.45L437.5 118.61L438 118.51L438.5 118.41L439 118.47L439.5 118.69L440 118.68L440.5 118.67L441 117.1L441.5 118.42L442 117.61L442.5 116L443 114.7L443.5 116.51L444 117.59L444.5 118.34L445 118.65L445.5 118.06L446 118.04L446.5 117.66L447 118.64L447.5 118.48L448 118.09L448.5 118.42L449 117.68L449.5 118.7L450 118.16L450.5 118.69L451 118.48L451.5 118.36L452 117.3L452.5 115.28L453 113.7L453.5 115.66L454 117.2L454.5 116.24L455 114.7L455.5 115.87L456 117.18L456.5 115.96L457 113.7L457.5 115.37L458 117.12L458.5 116.7L459 115.7L459.5 116.77L460 117.48L460.5 117.27L461 118.59L461.5 118.67L462 118.61L462.5 117.82L463 118.57L463.5 118.57L464 117.76L464.5 118.7L465 118.7L465.5 118.7L466 118.49L466.5 118.69L467 118.63L467.5 118.51L468 118.46L468.5 118.6L469 118.7L469.5 117.82L470 117.66L470.5 118.41L471 118.66L471.5 117.1L472 118.7L472.5 117.6L473 118.3L473.5 118.67L474 118.37L474.5 118.43L475 118.7L475.5 118.54L476 117.95L476.5 118.29L477 118.7L477.5 118.68L478 118.16L478.5 118.69L479 118.17L479.5 118.42L480 117.96L480.5 117.28L481 116.7L481.5 117.44L482 117.42L482.5 118.42L483 118.23L483.5 118.69L484 117.61L484.5 118.16L485 118.67L485.5 117.52L486 117.62L486.5 118.43L487 117.7L487.5 116.94L488 115.7L488.5 117.06L489 117.27L489.5 118.47L490 117.36L490.5 118.66L491 117.84L491.5 117.67L492 118.69L492.5 118.64L493 117.3L493.5 117.93L494 118.15L494.5 118.68L495 118.07L495.5 118.7L496 118.67L496.5 118.68L497 118.7L497.5 118.54L498 118.7L498.5 117.17L499 118.51L499.5 117.96L500 118.46L500.5 118.7L500.5 118.7Z" fill="#1e1e1e"/><path d="M502 118.2H504M506 118.2H507.5M509 118.2H511M512.5 118.2H514" stroke="#1e1e1e" stroke-width="1.2" fill="none"/><path d="M340 139.6L340 127.81L340.35 127L340.7 124.6L341.05 126.31L341.2 139.6ZM341.2 139.6L341.2 121.76L341.55 121.3L341.9 120.6L342.25 125.34L342.6 123.8L342.6 139.6ZM342.6 139.6L342.6 124.54L342.95 126.17L343.3 122.6L343.65 123.06L344 125.5L344 139.6ZM344 139.6L344 123.8L344.35 122.31L344.7 121.1L345.05 122.43L345.4 123.65L345.4 139.6ZM345.4 139.6L345.4 124.12L345.75 127.38L346.1 123.6L346.45 127.66L346.8 123.76L346.8 139.6ZM346.8 139.6L346.8 127.82L347.15 129.04L347.5 125.6L347.85 125.88L348 139.6ZM348.9 139.6L348.9 128.6L349.25 128.27L349.6 125.6L349.95 127.99L350.3 127.65L350.6 139.6ZM351.8 139.6L351.8 126.76L352.15 126.61L352.5 123.6L352.85 127.57L353.2 127.4L353.2 139.6ZM353.6 139.6L353.6 127.66L353.95 127.6L354.3 128.18L354.6 139.6ZM355.2 139.6L355.2 124.52L355.55 125.69L355.9 124.1L356.25 127.14L356.6 127.74L356.8 139.6ZM357 139.6L357 131.7L357.35 131.6L357.7 131.73L357.8 139.6ZM363.6 139.6L363.6 129.22L363.95 128.92L364.3 128.6L364.65 130.4L365 130.32L365 139.6ZM369.2 139.6L369.2 131.14L369.55 130.34L369.9 128.6L370.25 129.71L370.6 130.94L370.6 139.6ZM370.8 139.6L370.8 134.51L371.15 133.6L371.5 134.72L371.5 139.6ZM372.5 139.6L372.5 123.58L372.85 122.61L373.2 122.6L373.55 125.19L373.8 139.6Z" fill="#3838a0"/><line x1="333.5" y1="139.6" x2="428.8" y2="139.6" stroke="#2a3550" stroke-width="1.1"/><path d="M326 139.6H328M329 139.6H331M433 139.6H434M443 139.6H444M446 139.6H447M449 139.6H451.5M455 139.6H457M458 139.6H461M468 139.6H469M470 139.6H471M472.7 139.6H499.6M501.5 139.6H503M504.5 139.6H506M507.5 139.6H509M510.5 139.6H512" stroke="#2a3550" stroke-width="1.1" fill="none"/><path d="M340 160.9L340 150.2L340.35 152.77L340.7 149.9L341.05 151.52L341.2 160.9ZM341.2 160.9L341.2 148.16L341.55 150.66L341.9 146.9L342.25 150.13L342.6 146.98L342.6 160.9ZM342.6 160.9L342.6 150.44L342.95 149.39L343.3 147.9L343.65 148.97L344 150.78L344 160.9ZM344 160.9L344 149.16L344.35 150.41L344.7 146.9L345.05 149.64L345.4 150.74L345.4 160.9ZM345.4 160.9L345.4 149.43L345.75 149.25L346.1 148.9L346.45 150.13L346.8 150.26L346.8 160.9ZM346.8 160.9L346.8 151.85L347.15 150.92L347.5 150.9L347.85 153.3L348 160.9ZM348.9 160.9L348.9 152.67L349.25 152.68L349.6 151.9L349.95 152.71L350.3 153.6L350.6 160.9ZM351.8 160.9L351.8 152.85L352.15 151.6L352.5 149.9L352.85 150.72L353.2 150.91L353.2 160.9ZM353.6 160.9L353.6 153.8L353.95 152.9L354.3 154.62L354.6 160.9ZM355.2 160.9L355.2 152.19L355.55 152.11L355.9 150.4L356.25 150.54L356.6 153.09L356.8 160.9ZM357 160.9L357 155.94L357.35 155.9L357.7 156.99L357.8 160.9ZM363.6 160.9L363.6 155.15L363.95 155.37L364.3 153.9L364.65 155.8L365 155.03L365 160.9ZM369.2 160.9L369.2 152.52L369.55 153.27L369.9 151.9L370.25 153.34L370.6 152.84L370.6 160.9ZM370.8 160.9L370.8 156.09L371.15 155.9L371.5 156.04L371.5 160.9ZM372.5 160.9L372.5 149.43L372.85 150.57L373.2 148.9L373.55 149.91L373.8 160.9Z" fill="#2a1612"/><line x1="333.5" y1="160.9" x2="428.8" y2="160.9" stroke="#2a3550" stroke-width="1.1"/><path d="M327 160.9H328M433 160.9H434M441 160.9H442.5M446 160.9H448M452 160.9H455M456 160.9H460M476 160.9H495M496 160.9H512" stroke="#2a3550" stroke-width="1.1" fill="none"/><path d="M340 183.1L340 176.22L340.35 175.18L340.7 174.1L341.05 175.81L341.2 183.1ZM341.2 183.1L341.2 171.24L341.55 170.2L341.9 170.1L342.25 171.3L342.6 170.72L342.6 183.1ZM342.6 183.1L342.6 173.76L342.95 174.2L343.3 172.1L343.65 173.33L344 172.37L344 183.1ZM344 183.1L344 173.09L344.35 172.61L344.7 171.1L345.05 173.95L345.4 174.32L345.4 183.1ZM345.4 183.1L345.4 175.25L345.75 174.2L346.1 173.1L346.45 175.88L346.8 174.61L346.8 183.1ZM346.8 183.1L346.8 175.52L347.15 175.19L347.5 175.1L347.85 177.19L348 183.1ZM348.9 183.1L348.9 175.48L349.25 174.98L349.6 173.1L349.95 174.24L350.3 175.77L350.6 183.1ZM351.8 183.1L351.8 173.31L352.15 174.04L352.5 173.1L352.85 173.14L353.2 174.69L353.2 183.1ZM353.6 183.1L353.6 177.47L353.95 176.1L354.3 176.47L354.6 183.1ZM355.2 183.1L355.2 174.81L355.55 174.44L355.9 174.1L356.25 174.27L356.6 175.93L356.8 183.1ZM357 183.1L357 179.52L357.35 179.93L357.7 179.64L358.05 179.17L358.4 179.1L358.75 179.11L359.1 179.66L359.45 179.18L359.8 179.67L360 183.1ZM363.6 183.1L363.6 179.38L363.95 178.83L364.3 178.6L364.65 178.84L365 179.5L365 183.1ZM369.2 183.1L369.2 177.74L369.55 177.05L369.9 176.6L370.25 177.05L370.6 178.11L370.6 183.1ZM370.8 183.1L370.8 180.01L371.15 179.1L371.5 179.26L371.5 183.1ZM372.5 183.1L372.5 173.62L372.85 173.67L373.2 173.1L373.55 175.89L373.8 183.1Z" fill="#3838a0"/><line x1="333.5" y1="183.1" x2="428.8" y2="183.1" stroke="#2a3550" stroke-width="1.1"/><path d="M327 183.1H329M330 183.1H331M433 183.1H434M442 183.1H443M455 183.1H458M459 183.1H462M467 183.1H468M473 183.1H500M501 183.1H502.5M505 183.1H508" stroke="#2a3550" stroke-width="1.1" fill="none"/><path d="M340 204.4L340 202.04L340.35 201.94L340.7 201.67L341.05 202.18L341.4 201.92L341.75 202.1L342.1 201.79L342.45 201.96L342.8 202.23L343.15 201.98L343.5 202.19L343.85 201.6L344.2 202.3L344.55 202.12L344.9 202.37L345.25 201.78L345.6 201.75L345.95 202.37L346.3 201.97L346.65 202.05L347 202.07L347.35 202.33L347.7 201.65L348 204.4ZM348.9 204.4L348.9 202.39L349.25 201.95L349.6 201.9L349.95 202.45L350.3 202.42L350.6 204.4ZM351.8 204.4L351.8 202.03L352.15 201.56L352.5 201.54L352.85 201.56L353.2 202.02L353.55 201.99L353.9 201.79L354.25 201.64L354.6 201.65L354.95 201.4L355.3 201.6L355.65 201.81L356 201.66L356.35 201.6L356.7 202.08L357.05 201.42L357.4 201.79L357.75 201.71L357.8 204.4ZM358 204.4L358 203.04L358.35 203.02L358.7 203.28L359.05 203.29L359.4 203.19L359.75 203.26L360.1 202.9L360.45 203.12L360.8 203.24L361.15 203.15L361.5 203.24L361.85 203.01L362 204.4ZM363.6 204.4L363.6 202.32L363.95 202L364.3 201.9L364.65 202.27L365 202.2L365 204.4ZM366 204.4L366 202.9L366.35 203.02L366.7 203.14L367.05 203.15L367.4 202.9L367.75 203.06L368.1 203.03L368.45 203.25L368.8 203.13L369 204.4ZM369.2 204.4L369.2 202.59L369.55 202.22L369.9 202.59L370.25 201.9L370.6 202.5L370.95 202.55L371.3 202.48L371.5 204.4ZM372.5 204.4L372.5 200.22L372.85 200.12L373.2 199.4L373.55 199.93L373.8 204.4Z" fill="#1e1e1e"/><line x1="333.5" y1="204.4" x2="428.8" y2="204.4" stroke="#2a3550" stroke-width="1.1"/><path d="M326 204.4H327.5M329 204.4H330.5M443 204.4H444M451 204.4H452M457 204.4H460M461 204.4H462M477 204.4H479M480 204.4H482M489 204.4H491M492 204.4H495M496 204.4H498M500 204.4H501M503 204.4H505M507 204.4H509M510.5 204.4H512" stroke="#2a3550" stroke-width="1.1" fill="none"/><line x1="319.6" y1="226" x2="514.4" y2="226" stroke="#2a3a32" stroke-width="0.8"/><path d="M321 226L321 225.51L321.4 225.42L321.8 225.84L322.2 225.08L322.6 225.99L323 225.73L323.4 226L323.8 225.83L324.2 225.93L324.6 225.98L325 225.04L325.4 225.94L325.8 225.96L326.2 226L326.6 226L327 225.05L327.4 225.81L327.8 225.29L328.2 226L328.6 225.78L329 225.93L329.4 225.95L329.8 225.65L330.2 226L330.6 225.99L331 225.99L331.4 225.91L331.8 225.96L332.2 225.54L332.6 225.89L333 225.52L333.4 226L333.8 225.81L334.2 225.65L334.6 225.68L335 226L335.4 225.99L335.8 225.77L336.2 225.98L336.6 225.91L337 225.28L337.4 225.36L337.8 226L338.2 225.86L338.6 225.2L339 225.96L339.4 225.89L339.8 225.95L340.2 225.48L340.6 225.92L341 225.26L341.4 225.99L341.8 225.93L342.2 225.93L342.6 225.75L343 225.88L343.4 225.98L343.8 225.37L344.2 225.87L344.6 225.99L345 225.36L345.4 225.04L345.8 226L346.2 225.99L346.6 225.83L347 225.95L347.4 225.34L347.8 225.92L348.2 225.87L348.6 225.89L349 225.34L349.4 225.92L349.8 225.8L350.2 226L350.6 225.56L351 226L351.4 226L351.8 225.73L352.2 226L352.6 225.68L353 225.96L353.4 225.38L353.8 225.73L354.2 224.81L354.6 223.05L355 220L355.4 222.91L355.8 224.91L356.2 225.74L356.6 225.93L357 225.75L357.4 225.13L357.8 225.99L358.2 226L358.6 225.97L359 226L359.4 225.98L359.8 225.86L360.2 226L360.6 225.13L361 225.31L361.4 225.97L361.8 225.19L362.2 226L362.6 225.96L363 225.42L363.4 225.59L363.8 226L364.2 225.99L364.6 225.83L365 225.39L365.4 225.89L365.8 225.78L366.2 226L366.6 225.99L367 225.77L367.4 226L367.8 226L368.2 226L368.6 225.72L369 225.02L369.4 225.64L369.8 225.93L370.2 225.65L370.6 225.14L371 224.5L371.4 225L371.8 225.65L372.2 225.94L372.6 225.96L373 225.94L373.4 226L373.8 225.97L374.2 225.99L374.6 226L375 226L375.4 225.65L375.8 225.9L376.2 225.87L376.6 226L377 225.98L377.4 226L377.8 226L378.2 225.97L378.6 225.96L379 225.86L379.4 225.45L379.8 226L380.2 226L380.6 225.79L381 225.96L381.4 225.57L381.8 225.9L382.2 225.99L382.6 225.61L383 225.98L383.4 225.59L383.8 222.79L384.2 213L384.6 216.33L385 222.55L385.4 225.2L385.8 224L386.2 224.35L386.6 225.32L387 225.8L387.4 225.44L387.8 225.96L388.2 225.51L388.6 225.98L389 225.44L389.4 225.49L389.8 225.99L390.2 225.81L390.6 225.13L391 225.68L391.4 226L391.8 226L392.2 225.99L392.6 225.25L393 225.57L393.4 225.34L393.8 225.55L394.2 225.86L394.6 225.27L395 225.96L395.4 225.98L395.8 225.77L396.2 225.9L396.6 225.68L397 225.23L397.4 226L397.8 225.8L398.2 225.86L398.6 225.99L399 225.82L399.4 225.21L399.8 225.2L400.2 225.65L400.6 225.85L401 226L401.4 225.98L401.8 225.96L402.2 225.92L402.6 225.95L403 226L403.4 225.68L403.8 225.81L404.2 226L404.6 225.15L405 225.7L405.4 225.98L405.8 225.94L406.2 225.97L406.6 225.99L407 225.58L407.4 225.89L407.8 225.99L408.2 225.44L408.6 225.98L409 225.16L409.4 225.58L409.8 224.8L410.2 225.01L410.6 225.56L411 225.86L411.4 225.74L411.8 225.25L412.2 225.74L412.6 225.49L413 225.96L413.4 225.75L413.8 225.11L414.2 226L414.6 225.36L415 225.94L415.4 225.33L415.8 225.14L416.2 225.39L416.6 225.99L417 225.94L417.4 226L417.8 225.48L418.2 226L418.6 225.96L419 226L419.4 225.59L419.8 225.95L420.2 226L420.6 225.81L421 226L421.4 225.66L421.8 226L422.2 225.36L422.6 225.66L423 226L423.4 225.31L423.8 225.99L424.2 225.78L424.6 225.11L425 226L425.4 225.96L425.8 225.85L426.2 226L426.6 225.94L427 225.99L427.4 225.93L427.8 225.71L428.2 225.23L428.6 226L429 225.41L429.4 225.64L429.8 225.87L430.2 226L430.6 226L431 225.17L431.4 225.78L431.8 225.94L432.2 225.78L432.6 225.1L433 225.73L433.4 225.75L433.8 225.92L434.2 226L434.6 225.1L435 225.82L435.4 225.93L435.8 225.21L436.2 225.38L436.6 225.55L437 226L437.4 225.91L437.8 225.99L438.2 225.9L438.6 225.21L439 225.86L439.4 225.66L439.8 225.77L440.2 225.54L440.6 226L441 225.99L441.4 226L441.8 225.6L442.2 225.97L442.6 225.79L443 225.79L443.4 226L443.8 225.28L444.2 226L444.6 225.99L445 225.64L445.4 225.86L445.8 225.17L446.2 225.95L446.6 226L447 225.94L447.4 225.99L447.8 225.34L448.2 226L448.6 225.76L449 226L449.4 225.63L449.8 225.62L450.2 225.15L450.6 225.39L451 225.2L451.4 225.98L451.8 226L452.2 226L452.6 225.34L453 225.16L453.4 225.97L453.8 225.89L454.2 225.29L454.6 225.7L455 225.96L455.4 226L455.8 226L456.2 225.63L456.6 225.93L457 225.99L457.4 225.34L457.8 225.43L458.2 223.79L458.6 218.7L459 219.96L459.4 222.85L459.8 224.25L460.2 224L460.6 225.2L461 225.78L461.4 225.39L461.8 225.97L462.2 225.79L462.6 225.93L463 225.95L463.4 225.84L463.8 225.74L464.2 226L464.6 225.94L465 225.93L465.4 225.03L465.8 225.93L466.2 225.79L466.6 225.91L467 225.7L467.4 225.89L467.8 225.98L468.2 225.05L468.6 225.98L469 225.85L469.4 225.82L469.8 225.72L470.2 225.54L470.6 225.84L471 225.32L471.4 225.63L471.8 225.99L472.2 225.91L472.6 225.99L473 225.97L473.4 225.78L473.8 226L474.2 225.63L474.6 225.6L475 225.99L475.4 225.94L475.8 225.69L476.2 225.82L476.6 225.55L477 225.57L477.4 225.26L477.8 225.99L478.2 225.56L478.6 225.52L479 225.97L479.4 226L479.8 225.91L480.2 225.98L480.6 225.23L481 224.22L481.4 222L481.8 225.03L482.2 225.88L482.6 226L483 225.52L483.4 226L483.8 226L484.2 225.45L484.6 225.99L485 225.86L485.4 225.99L485.8 225.61L486.2 225.92L486.6 225.94L487 225.57L487.4 225.71L487.8 225.54L488.2 225.8L488.6 225.88L489 225.8L489.4 225.65L489.8 226L490.2 225.99L490.6 226L491 225.99L491.4 225.95L491.8 225L492.2 225.15L492.6 225.86L493 225.71L493.4 225.38L493.8 225.84L494.2 225.42L494.6 225.11L495 225.62L495.4 225.99L495.8 225.67L496.2 226L496.6 225.77L497 225.56L497.4 225.25L497.8 225.98L498.2 225.3L498.6 226L499 225.65L499.4 225.54L499.8 225.25L500.2 226L500.6 226L501 225.93L501.4 225.97L501.8 225.24L502.2 225.33L502.6 225.99L503 225.95L503.4 226L503.8 226L504.2 225.51L504.6 225.48L505 225.29L505.4 225.55L505.8 225.95L506.2 225.61L506.6 225.96L507 225.34L507.4 226L507.8 226L508.2 225.59L508.6 225.81L509 226L509.4 225.85L509.8 226L510.2 225.98L510.6 225.26L511 225.97L511.4 225.73L511.8 225.84L512.2 225.95L512.6 225.97L513 225.78L513 226Z" fill="#1c5c3c"/><line x1="319.6" y1="247.4" x2="514.4" y2="247.4" stroke="#2a3a32" stroke-width="0.8"/><path d="M321 247.4L321 246.56L321.4 247.37L321.8 247.38L322.2 247.39L322.6 246.91L323 247.39L323.4 246.88L323.8 247.01L324.2 247.32L324.6 247.28L325 246.65L325.4 246.91L325.8 247.4L326.2 246.98L326.6 247.33L327 246.43L327.4 247.39L327.8 247.33L328.2 246.56L328.6 247.2L329 247L329.4 247.18L329.8 247.39L330.2 247.4L330.6 247.4L331 247.35L331.4 247.4L331.8 247.4L332.2 247.29L332.6 247.36L333 247.22L333.4 247.36L333.8 247.23L334.2 247.13L334.6 246.78L335 247.4L335.4 246.98L335.8 247.35L336.2 247.38L336.6 247.4L337 247.24L337.4 247.05L337.8 246.4L338.2 247.37L338.6 246.45L339 247.25L339.4 246.68L339.8 247.4L340.2 247.4L340.6 247.32L341 247.4L341.4 247.37L341.8 247.4L342.2 246.85L342.6 247.4L343 247.23L343.4 246.49L343.8 247.3L344.2 247.37L344.6 246.77L345 247L345.4 247.4L345.8 247.32L346.2 247.35L346.6 246.88L347 247.28L347.4 247.33L347.8 247.33L348.2 247.02L348.6 246.47L349 247.14L349.4 247.32L349.8 247.16L350.2 246.4L350.6 246.67L351 247.4L351.4 247.39L351.8 247.24L352.2 247.29L352.6 247.32L353 247.36L353.4 246.84L353.8 247.19L354.2 246.44L354.6 244.79L355 243.4L355.4 244.93L355.8 246.44L356.2 246.79L356.6 247.19L357 247.25L357.4 247.39L357.8 247.23L358.2 247.4L358.6 247.22L359 246.92L359.4 247.4L359.8 246.95L360.2 246.85L360.6 247.4L361 246.83L361.4 247.4L361.8 246.57L362.2 247.36L362.6 247.36L363 247.35L363.4 247.38L363.8 247.4L364.2 247.22L364.6 247.4L365 247.34L365.4 247.4L365.8 247.16L366.2 247.39L366.6 247.4L367 247.4L367.4 246.86L367.8 247.36L368.2 246.84L368.6 246.67L369 247.4L369.4 247.4L369.8 247.4L370.2 247.39L370.6 247.38L371 247.39L371.4 247.4L371.8 246.81L372.2 246.68L372.6 246.88L373 246.73L373.4 247.26L373.8 247.4L374.2 247.4L374.6 247.35L375 247.4L375.4 247.35L375.8 247.36L376.2 247.37L376.6 247.34L377 246.59L377.4 247.4L377.8 247.2L378.2 246.84L378.6 246.78L379 247.38L379.4 247.34L379.8 246.9L380.2 246.8L380.6 247.38L381 247.27L381.4 247.4L381.8 246.64L382.2 247.02L382.6 246.84L383 247.38L383.4 247.17L383.8 245.32L384.2 238.8L384.6 241L385 245.19L385.4 247.08L385.8 247.28L386.2 247.4L386.6 246.73L387 246.84L387.4 246.97L387.8 247.39L388.2 246.51L388.6 247.4L389 247.32L389.4 247.25L389.8 247.39L390.2 247.36L390.6 246.6L391 247.06L391.4 247.4L391.8 246.67L392.2 247.38L392.6 247.34L393 247.19L393.4 247.4L393.8 247.4L394.2 247.39L394.6 247.16L395 247.31L395.4 247.14L395.8 247.38L396.2 247.3L396.6 247.4L397 246.68L397.4 247.33L397.8 247.34L398.2 246.76L398.6 247.4L399 247.28L399.4 246.96L399.8 247.36L400.2 246.45L400.6 246.48L401 247.28L401.4 246.84L401.8 247.15L402.2 247.35L402.6 247.22L403 247.4L403.4 247.32L403.8 247.34L404.2 247.4L404.6 247.31L405 246.62L405.4 247.08L405.8 247.4L406.2 247.32L406.6 247.15L407 247.27L407.4 247.4L407.8 246.72L408.2 247.3L408.6 247.35L409 246.49L409.4 247.1L409.8 246.69L410.2 247.4L410.6 247.37L411 247.4L411.4 247.21L411.8 247.4L412.2 247.02L412.6 247.29L413 247.4L413.4 247.4L413.8 246.93L414.2 247.19L414.6 247.36L415 247.37L415.4 247.23L415.8 247.4L416.2 247.13L416.6 247.32L417 247.38L417.4 247.36L417.8 247.4L418.2 246.76L418.6 246.93L419 247.39L419.4 247.23L419.8 247.4L420.2 247.34L420.6 247.4L421 247.39L421.4 247.4L421.8 247.2L422.2 247.26L422.6 247L423 247.39L423.4 247.33L423.8 247.18L424.2 247.16L424.6 247.39L425 247.21L425.4 247.28L425.8 246.96L426.2 246.5L426.6 245.7L427 244.9L427.4 245.7L427.8 246.52L428.2 246.93L428.6 247.07L429 246.58L429.4 247.3L429.8 247.39L430.2 246.99L430.6 247.24L431 247.4L431.4 247.33L431.8 247.39L432.2 247.38L432.6 246.91L433 247.38L433.4 247.37L433.8 247.02L434.2 247.37L434.6 247.03L435 247.4L435.4 247.39L435.8 247.22L436.2 247.08L436.6 247.21L437 247.4L437.4 247.1L437.8 247.32L438.2 247.25L438.6 247.32L439 246.72L439.4 247.02L439.8 247.4L440.2 246.78L440.6 246.94L441 247.33L441.4 247.31L441.8 246.82L442.2 247.33L442.6 247.4L443 247.36L443.4 247.24L443.8 246.66L444.2 247.3L444.6 247.4L445 246.46L445.4 247.2L445.8 246.57L446.2 247.4L446.6 246.82L447 247.31L447.4 247.34L447.8 246.76L448.2 247.32L448.6 247.4L449 246.72L449.4 247.31L449.8 246.99L450.2 247.37L450.6 246.51L451 246.92L451.4 247.19L451.8 247.34L452.2 246.83L452.6 247.35L453 247.39L453.4 247.4L453.8 247.33L454.2 247.37L454.6 247.4L455 247.18L455.4 247.02L455.8 247.4L456.2 246.93L456.6 247.4L457 246.9L457.4 246.92L457.8 246.21L458.2 245.01L458.6 242.4L459 243.02L459.4 245L459.8 246.3L460.2 247.16L460.6 247.02L461 247.13L461.4 246.49L461.8 247.4L462.2 247.2L462.6 246.96L463 247.35L463.4 247.02L463.8 247.4L464.2 247.4L464.6 247.18L465 247.11L465.4 246.81L465.8 247.4L466.2 247.4L466.6 247.38L467 246.91L467.4 247.4L467.8 246.89L468.2 246.53L468.6 246.58L469 247.13L469.4 246.66L469.8 247.32L470.2 247.16L470.6 247.06L471 247.29L471.4 246.68L471.8 247.21L472.2 246.91L472.6 247.39L473 247.37L473.4 246.56L473.8 246.74L474.2 247.29L474.6 247.4L475 247.27L475.4 247.11L475.8 247.34L476.2 247.13L476.6 247.4L477 247.4L477.4 246.58L477.8 246.95L478.2 247.4L478.6 247.4L479 247.34L479.4 247.07L479.8 247.39L480.2 247.22L480.6 245.58L481 241.33L481.4 236.8L481.8 243.31L482.2 246.6L482.6 246.26L483 245.4L483.4 246.44L483.8 246.99L484.2 247.33L484.6 247.39L485 247.39L485.4 246.97L485.8 246.93L486.2 246.61L486.6 247.23L487 246.46L487.4 247.15L487.8 247.4L488.2 247.14L488.6 247.39L489 246.79L489.4 247.38L489.8 246.67L490.2 246.95L490.6 247.11L491 247.39L491.4 247.32L491.8 246.43L492.2 246.91L492.6 247.19L493 247.4L493.4 246.47L493.8 247.24L494.2 247.16L494.6 247.39L495 247.4L495.4 247.35L495.8 246.75L496.2 247.4L496.6 247.4L497 246.95L497.4 247.27L497.8 246.87L498.2 247.21L498.6 247.34L499 246.99L499.4 247.36L499.8 247.27L500.2 247.11L500.6 246.44L501 247.09L501.4 246.76L501.8 247.18L502.2 247.37L502.6 247.38L503 247.06L503.4 247.19L503.8 247.38L504.2 246.68L504.6 247.4L505 247.39L505.4 247.35L505.8 246.45L506.2 247.38L506.6 246.52L507 246.41L507.4 246.82L507.8 247.36L508.2 247.29L508.6 247.39L509 247.35L509.4 247.37L509.8 247.21L510.2 247.4L510.6 246.67L511 247.4L511.4 247.34L511.8 247.12L512.2 246.71L512.6 247.34L513 246.55L513 247.4Z" fill="#1c5c3c"/><line x1="319.6" y1="268.5" x2="514.4" y2="268.5" stroke="#2a3a32" stroke-width="0.8"/><path d="M321 268.5L321 268.27L321.4 268.31L321.8 268.36L322.2 268.5L322.6 268.33L323 267.59L323.4 268.44L323.8 268.5L324.2 268.49L324.6 267.65L325 267.78L325.4 268.39L325.8 268.5L326.2 268.5L326.6 267.55L327 268.5L327.4 268.38L327.8 268.43L328.2 268.05L328.6 268.5L329 268.38L329.4 267.86L329.8 268.43L330.2 268.03L330.6 268.34L331 268.49L331.4 268.04L331.8 268.48L332.2 268.28L332.6 268.48L333 267.51L333.4 268.47L333.8 268.47L334.2 268.39L334.6 268.45L335 268.19L335.4 268.31L335.8 268.43L336.2 268.49L336.6 268.5L337 268.48L337.4 267.61L337.8 268.39L338.2 268.4L338.6 268.23L339 268.45L339.4 268.24L339.8 267.55L340.2 268.35L340.6 268.45L341 268.36L341.4 268.37L341.8 268.48L342.2 268.49L342.6 268.14L343 268.38L343.4 268.48L343.8 268.05L344.2 267.73L344.6 268.3L345 268.5L345.4 268.33L345.8 268.23L346.2 267.96L346.6 268.5L347 267.85L347.4 268.32L347.8 268.41L348.2 268.5L348.6 268.49L349 268.48L349.4 267.7L349.8 268.44L350.2 268.34L350.6 268.24L351 268.05L351.4 268.5L351.8 268.5L352.2 268.2L352.6 268.5L353 267.66L353.4 268.44L353.8 268.1L354.2 267.3L354.6 263.97L355 256L355.4 263.19L355.8 267.43L356.2 267.71L356.6 268.49L357 268.26L357.4 268.5L357.8 268.49L358.2 268.49L358.6 267.73L359 268.5L359.4 268.37L359.8 268.49L360.2 268.49L360.6 268.5L361 268.48L361.4 268.5L361.8 268.5L362.2 268.46L362.6 268.2L363 268.49L363.4 268.49L363.8 267.93L364.2 268.04L364.6 268.25L365 268.45L365.4 268.48L365.8 267.96L366.2 268.25L366.6 268.5L367 268.5L367.4 268.5L367.8 268.47L368.2 268.23L368.6 268.47L369 267.61L369.4 268.43L369.8 267.6L370.2 267.94L370.6 267.38L371 266.5L371.4 267.56L371.8 268.15L372.2 268.42L372.6 268.12L373 267.95L373.4 268.2L373.8 268.5L374.2 268.49L374.6 268.5L375 267.95L375.4 268.5L375.8 268.42L376.2 268.46L376.6 268.49L377 268.15L377.4 267.68L377.8 268.5L378.2 268.45L378.6 268.29L379 267.55L379.4 268.5L379.8 268.18L380.2 268.43L380.6 268.23L381 268.01L381.4 267.59L381.8 268.37L382.2 268.24L382.6 268.2L383 267.85L383.4 268.04L383.8 264.13L384.2 249.5L384.6 254.81L385 265.21L385.4 268.01L385.8 267.76L386.2 268.47L386.6 268.5L387 268.49L387.4 268.5L387.8 268.37L388.2 268.5L388.6 268.43L389 268.43L389.4 268.5L389.8 268.5L390.2 268.3L390.6 268.5L391 268.31L391.4 268.08L391.8 268.19L392.2 268.44L392.6 268.5L393 268.5L393.4 268.49L393.8 268.47L394.2 268.5L394.6 268.49L395 268.44L395.4 268.34L395.8 267.65L396.2 268.48L396.6 268.5L397 268.35L397.4 268.2L397.8 268.4L398.2 268.36L398.6 267.75L399 268.44L399.4 267.9L399.8 268.49L400.2 268.05L400.6 268.46L401 268.32L401.4 268.18L401.8 268.4L402.2 268.5L402.6 267.93L403 268.5L403.4 268.31L403.8 268.47L404.2 268.41L404.6 268.27L405 268.48L405.4 268.5L405.8 268.48L406.2 268.32L406.6 268.5L407 268.35L407.4 268.5L407.8 268.5L408.2 268.5L408.6 267.62L409 268.14L409.4 268.5L409.8 268.28L410.2 267.52L410.6 268.04L411 268.16L411.4 268.41L411.8 268.03L412.2 268.5L412.6 268.5L413 268.26L413.4 268.36L413.8 268.48L414.2 268.43L414.6 267.86L415 268.37L415.4 268.11L415.8 268.5L416.2 268.49L416.6 267.92L417 268.3L417.4 268.5L417.8 268.31L418.2 267.82L418.6 268.5L419 268.37L419.4 268.49L419.8 268.46L420.2 268.42L420.6 268.5L421 268.17L421.4 267.74L421.8 267.61L422.2 267.6L422.6 268.38L423 268.04L423.4 267.9L423.8 268.21L424.2 268.5L424.6 268.49L425 268.47L425.4 268.27L425.8 268.05L426.2 267.53L426.6 266.73L427 266L427.4 266.8L427.8 267.37L428.2 267.95L428.6 267.72L429 268.32L429.4 268.49L429.8 267.53L430.2 268.41L430.6 268.5L431 268.3L431.4 268.5L431.8 267.6L432.2 268.19L432.6 268.25L433 268.03L433.4 267.6L433.8 267.97L434.2 267.76L434.6 268.24L435 268.47L435.4 268.09L435.8 268.5L436.2 267.54L436.6 268.48L437 268.46L437.4 268.4L437.8 268.41L438.2 267.7L438.6 268.45L439 268.28L439.4 268.44L439.8 267.54L440.2 267.95L440.6 268.46L441 267.88L441.4 268.44L441.8 268.17L442.2 268.15L442.6 268.02L443 267.53L443.4 268.5L443.8 268.5L444.2 268.25L444.6 267.53L445 268.29L445.4 268.35L445.8 268.37L446.2 268.5L446.6 267.89L447 268.35L447.4 268.36L447.8 268.42L448.2 268.43L448.6 268.5L449 268.49L449.4 268.43L449.8 268.49L450.2 268.5L450.6 268.46L451 268.2L451.4 268.44L451.8 268.27L452.2 268.3L452.6 267.97L453 268.41L453.4 268.5L453.8 268.08L454.2 268.47L454.6 268.49L455 268.48L455.4 267.86L455.8 268.5L456.2 267.96L456.6 268.5L457 268.48L457.4 267.68L457.8 267.54L458.2 264.61L458.6 257.9L459 260.11L459.4 265.08L459.8 267.8L460.2 268.43L460.6 268.44L461 268.5L461.4 268.49L461.8 267.95L462.2 268.09L462.6 268.43L463 267.51L463.4 268.5L463.8 267.77L464.2 268.49L464.6 268.23L465 268.24L465.4 268.5L465.8 268.05L466.2 268.5L466.6 268.35L467 268.07L467.4 268.01L467.8 268.33L468.2 267.55L468.6 268.18L469 268.48L469.4 268L469.8 268.09L470.2 268.19L470.6 268.48L471 268.47L471.4 268.25L471.8 267.95L472.2 268.08L472.6 268.42L473 267.85L473.4 268.26L473.8 268.5L474.2 268.22L474.6 268.43L475 267.62L475.4 268.4L475.8 268.47L476.2 268.26L476.6 268.48L477 268.45L477.4 268.5L477.8 268.4L478.2 268.47L478.6 268.11L479 268.48L479.4 268.36L479.8 268.49L480.2 268.16L480.6 265.65L481 255.26L481.4 246.5L481.8 261.1L482.2 267.51L482.6 268.13L483 267.89L483.4 268.43L483.8 268.35L484.2 268.44L484.6 267.64L485 267.72L485.4 268.31L485.8 268.48L486.2 268.36L486.6 268L487 268.5L487.4 267.98L487.8 268L488.2 267.9L488.6 267.87L489 268.3L489.4 268.48L489.8 267.67L490.2 268.29L490.6 268.42L491 267.59L491.4 268.5L491.8 268.48L492.2 267.98L492.6 268.5L493 268.49L493.4 267.91L493.8 268.21L494.2 268.5L494.6 267.8L495 268.27L495.4 267.99L495.8 268.5L496.2 268.34L496.6 268.41L497 268.3L497.4 267.8L497.8 267.91L498.2 268.39L498.6 268.39L499 267.94L499.4 268.34L499.8 268.5L500.2 268.48L500.6 268.47L501 268.24L501.4 268.45L501.8 268L502.2 268.49L502.6 268.5L503 267.66L503.4 268.14L503.8 268.13L504.2 268.36L504.6 268.44L505 268.49L505.4 268.5L505.8 268.49L506.2 268.27L506.6 267.97L507 268.29L507.4 268.5L507.8 267.71L508.2 268.48L508.6 267.56L509 268.28L509.4 267.61L509.8 268.47L510.2 268.02L510.6 268.44L511 268.49L511.4 268.48L511.8 267.62L512.2 268.3L512.6 268.5L513 268.44L513 268.5Z" fill="#1c5c3c"/><line x1="319.6" y1="290" x2="514.4" y2="290" stroke="#2a3a32" stroke-width="0.8"/><path d="M321 290L321 290L321.4 289.63L321.8 289.96L322.2 289.19L322.6 290L323 289.7L323.4 289.45L323.8 289.67L324.2 289.01L324.6 289.55L325 289.98L325.4 289.97L325.8 289.78L326.2 289.75L326.6 289.99L327 289.52L327.4 289.28L327.8 289.65L328.2 290L328.6 289.48L329 289.95L329.4 290L329.8 290L330.2 289.67L330.6 289.29L331 289.48L331.4 289.87L331.8 289.3L332.2 289.03L332.6 289.96L333 290L333.4 289.24L333.8 289.88L334.2 289.05L334.6 289.6L335 290L335.4 289.44L335.8 289.75L336.2 289.89L336.6 289.7L337 289.77L337.4 289.87L337.8 289.9L338.2 290L338.6 290L339 289.28L339.4 289.85L339.8 289.47L340.2 289.52L340.6 289.72L341 289.78L341.4 289.65L341.8 289.94L342.2 289.06L342.6 289.87L343 289.59L343.4 289.01L343.8 289.98L344.2 289.93L344.6 289.92L345 290L345.4 289.78L345.8 289.93L346.2 289.35L346.6 289.93L347 290L347.4 289.95L347.8 289.97L348.2 290L348.6 289.71L349 289.96L349.4 289.65L349.8 290L350.2 289.38L350.6 289.58L351 290L351.4 290L351.8 289.29L352.2 289.99L352.6 290L353 289.96L353.4 289.05L353.8 289.26L354.2 289.51L354.6 288.62L355 288L355.4 288.78L355.8 289.54L356.2 289.27L356.6 289.97L357 289.42L357.4 289.47L357.8 289.81L358.2 290L358.6 289.98L359 289.88L359.4 290L359.8 289.65L360.2 290L360.6 289.82L361 289.85L361.4 289.25L361.8 289.03L362.2 290L362.6 289.96L363 289.9L363.4 290L363.8 289.99L364.2 289.83L364.6 289.83L365 289.81L365.4 289.55L365.8 290L366.2 289.52L366.6 290L367 289.83L367.4 289.8L367.8 289.95L368.2 289.35L368.6 289.49L369 290L369.4 289.19L369.8 289.99L370.2 290L370.6 289.74L371 290L371.4 289.57L371.8 289.98L372.2 289.93L372.6 289.3L373 290L373.4 289.96L373.8 289.91L374.2 289.93L374.6 290L375 289.97L375.4 289.97L375.8 289.88L376.2 289.57L376.6 289.14L377 289.76L377.4 289.8L377.8 290L378.2 289.97L378.6 289.62L379 289.99L379.4 290L379.8 289.97L380.2 289.85L380.6 289.56L381 289.78L381.4 289.99L381.8 289.71L382.2 289.39L382.6 289.92L383 289.74L383.4 289.21L383.8 287.93L384.2 287.5L384.6 289.13L385 289.79L385.4 289.67L385.8 289.37L386.2 289.99L386.6 289.87L387 289.64L387.4 290L387.8 289.72L388.2 289.96L388.6 289.28L389 289.94L389.4 289.73L389.8 289.88L390.2 289.44L390.6 288.7L391 287.5L391.4 288.64L391.8 289.5L392.2 289.88L392.6 289.99L393 289.92L393.4 289.92L393.8 290L394.2 289.91L394.6 289.95L395 289.69L395.4 288.93L395.8 287.93L396.2 287.5L396.6 289.25L397 289.79L397.4 289.96L397.8 289.77L398.2 289.53L398.6 289.99L399 289.96L399.4 289.98L399.8 289.9L400.2 289.64L400.6 290L401 290L401.4 290L401.8 289.55L402.2 289.95L402.6 289.86L403 289.48L403.4 289.73L403.8 289.17L404.2 289.64L404.6 289.8L405 289.44L405.4 289.14L405.8 290L406.2 290L406.6 289.34L407 290L407.4 290L407.8 289.97L408.2 289.74L408.6 290L409 289.38L409.4 289.88L409.8 289.49L410.2 289.17L410.6 289.72L411 289.66L411.4 289.83L411.8 289.13L412.2 289.97L412.6 289.47L413 289.99L413.4 289.94L413.8 289.98L414.2 289.85L414.6 289.68L415 289.41L415.4 289.76L415.8 289.87L416.2 289.17L416.6 289.51L417 289.84L417.4 289.83L417.8 289.25L418.2 290L418.6 289.81L419 289.95L419.4 289.98L419.8 289.97L420.2 289.1L420.6 289.84L421 289.3L421.4 289.38L421.8 289.72L422.2 289.3L422.6 289.96L423 289.73L423.4 289.96L423.8 289.86L424.2 289.73L424.6 290L425 289.96L425.4 290L425.8 289.95L426.2 289.26L426.6 289.5L427 289.33L427.4 289.19L427.8 289.99L428.2 290L428.6 289.78L429 289.99L429.4 289.91L429.8 290L430.2 289.89L430.6 289.36L431 289.93L431.4 289.96L431.8 289.51L432.2 289.92L432.6 289.79L433 290L433.4 289.97L433.8 289.88L434.2 289.68L434.6 289.92L435 290L435.4 289.7L435.8 289.54L436.2 289.92L436.6 289.68L437 289.71L437.4 289.83L437.8 289.66L438.2 289.88L438.6 289.96L439 289.24L439.4 289.93L439.8 289.93L440.2 289.94L440.6 289.92L441 289.97L441.4 289.96L441.8 289.98L442.2 289.92L442.6 289.39L443 290L443.4 289.8L443.8 289.94L444.2 289.21L444.6 289.79L445 290L445.4 290L445.8 289.22L446.2 289.46L446.6 289.99L447 289.38L447.4 289.9L447.8 289.39L448.2 289.93L448.6 289.66L449 289.57L449.4 289.97L449.8 289.08L450.2 290L450.6 289.87L451 290L451.4 289.57L451.8 289.54L452.2 289.51L452.6 289.98L453 290L453.4 289.14L453.8 290L454.2 289.76L454.6 289.85L455 290L455.4 289.97L455.8 289.98L456.2 290L456.6 289.47L457 289.58L457.4 289.03L457.8 289.86L458.2 289.54L458.6 288.5L459 288.76L459.4 289.35L459.8 289.26L460.2 289.94L460.6 289.44L461 289.75L461.4 289.77L461.8 289.99L462.2 289.56L462.6 289.17L463 289.48L463.4 289.89L463.8 289.78L464.2 289.86L464.6 289.85L465 289.82L465.4 289.98L465.8 289.75L466.2 289.34L466.6 289.93L467 290L467.4 289.99L467.8 289.56L468.2 289.85L468.6 289.99L469 289.87L469.4 289.27L469.8 289.79L470.2 289.98L470.6 289.73L471 289.8L471.4 289.1L471.8 289.46L472.2 289.96L472.6 290L473 290L473.4 289.91L473.8 289.7L474.2 289.93L474.6 290L475 289.98L475.4 289.79L475.8 289.5L476.2 289.72L476.6 289.99L477 289.98L477.4 290L477.8 289.98L478.2 289.75L478.6 289.94L479 289.1L479.4 289.99L479.8 289.89L480.2 289.64L480.6 289.24L481 288.5L481.4 289.2L481.8 289.74L482.2 289.92L482.6 289.86L483 289.9L483.4 289.63L483.8 289.68L484.2 289.34L484.6 289.98L485 290L485.4 290L485.8 289.75L486.2 289.99L486.6 289.28L487 289.95L487.4 289.43L487.8 289.99L488.2 290L488.6 289.51L489 289.1L489.4 289.84L489.8 289.75L490.2 289.78L490.6 289.97L491 289.78L491.4 289.96L491.8 289.77L492.2 290L492.6 289.99L493 289.22L493.4 289.98L493.8 289.95L494.2 290L494.6 289.87L495 289.87L495.4 290L495.8 289.08L496.2 289.5L496.6 289.89L497 289.78L497.4 289.67L497.8 289.48L498.2 289.23L498.6 289.98L499 289.73L499.4 289.93L499.8 289.8L500.2 289.81L500.6 289.61L501 289.93L501.4 289.89L501.8 289.91L502.2 289.75L502.6 289.92L503 289.97L503.4 290L503.8 289.58L504.2 289.48L504.6 289.79L505 290L505.4 290L505.8 289.99L506.2 289.89L506.6 289.75L507 290L507.4 290L507.8 290L508.2 289.99L508.6 289.93L509 289.85L509.4 289.96L509.8 289.72L510.2 290L510.6 290L511 290L511.4 289.87L511.8 290L512.2 290L512.6 289.57L513 289.77L513 290Z" fill="#1c5c3c"/><line x1="319.6" y1="311.3" x2="514.4" y2="311.3" stroke="#2a3a32" stroke-width="0.8"/><path d="M321 311.3L321 311.29L321.4 311.16L321.8 311.3L322.2 311.11L322.6 311.3L323 311.21L323.4 311L323.8 311.3L324.2 310.51L324.6 310.49L325 311.19L325.4 310.94L325.8 311.3L326.2 311.29L326.6 310.85L327 311.24L327.4 310.74L327.8 310.46L328.2 311.29L328.6 311.01L329 310.98L329.4 310.74L329.8 311.3L330.2 311.3L330.6 311.28L331 311.06L331.4 310.44L331.8 310.43L332.2 311.28L332.6 311.3L333 311.3L333.4 311.21L333.8 311.05L334.2 311.3L334.6 311.3L335 311.3L335.4 311.3L335.8 311.14L336.2 310.34L336.6 311.29L337 311.26L337.4 310.72L337.8 310.97L338.2 311.26L338.6 310.89L339 310.88L339.4 310.78L339.8 310.06L340.2 309.8L340.6 310.78L341 311.17L341.4 310.66L341.8 310.39L342.2 311.3L342.6 311.3L343 311.22L343.4 310.76L343.8 311.28L344.2 310.95L344.6 310.86L345 310.92L345.4 311.3L345.8 311.29L346.2 310.36L346.6 310.83L347 310.92L347.4 311.3L347.8 311.15L348.2 311.28L348.6 310.65L349 311.3L349.4 310.85L349.8 311.29L350.2 311.24L350.6 311.28L351 311.28L351.4 310.56L351.8 311.01L352.2 311.29L352.6 310.53L353 311.23L353.4 311.27L353.8 311.16L354.2 310.89L354.6 310.11L355 309.3L355.4 310.25L355.8 310.8L356.2 310.92L356.6 311.29L357 311.17L357.4 310.91L357.8 311.3L358.2 311.06L358.6 311.27L359 311.22L359.4 311.3L359.8 311.29L360.2 311.3L360.6 311.29L361 311.18L361.4 311.26L361.8 311.3L362.2 311.3L362.6 311.19L363 311.08L363.4 311.11L363.8 311.3L364.2 311.28L364.6 310.71L365 311.16L365.4 311.3L365.8 311.3L366.2 311.02L366.6 311.3L367 311.27L367.4 311.29L367.8 311.28L368.2 311.21L368.6 310.85L369 311.27L369.4 311.21L369.8 310.76L370.2 310.87L370.6 310.54L371 310.46L371.4 311.28L371.8 310.9L372.2 311.3L372.6 311.28L373 311.19L373.4 311.06L373.8 310.87L374.2 311.23L374.6 310.77L375 311.3L375.4 311.29L375.8 310.88L376.2 310.97L376.6 310.45L377 311.23L377.4 311.04L377.8 311.25L378.2 311.28L378.6 311.25L379 311.19L379.4 311.29L379.8 311.13L380.2 310.71L380.6 311.3L381 311.16L381.4 311.24L381.8 311.05L382.2 311.3L382.6 311.26L383 310.97L383.4 310.32L383.8 309.23L384.2 308.8L384.6 310.6L385 311.08L385.4 311.06L385.8 310.51L386.2 311.23L386.6 310.78L387 310.54L387.4 311.25L387.8 310.86L388.2 311.17L388.6 311.29L389 310.8L389.4 311.25L389.8 311.3L390.2 311.28L390.6 310.48L391 311.21L391.4 311.3L391.8 311.3L392.2 310.93L392.6 310.9L393 310.96L393.4 310.47L393.8 311.26L394.2 310.97L394.6 311.1L395 311.01L395.4 310.13L395.8 308.82L396.2 308.3L396.6 309.9L397 310.42L397.4 311.09L397.8 310.84L398.2 311.28L398.6 311.07L399 311.3L399.4 311.3L399.8 311.2L400.2 311.28L400.6 311.29L401 310.9L401.4 311.04L401.8 310.51L402.2 311.2L402.6 310.48L403 310.4L403.4 310.89L403.8 310.42L404.2 310.58L404.6 310.48L405 311.1L405.4 311.27L405.8 311.3L406.2 311.09L406.6 310.96L407 311.19L407.4 310.59L407.8 311.3L408.2 310.9L408.6 311.13L409 311.09L409.4 310.66L409.8 310.98L410.2 310.76L410.6 311.27L411 311.29L411.4 310.62L411.8 311.29L412.2 311.29L412.6 311.29L413 310.98L413.4 311.3L413.8 310.37L414.2 310.99L414.6 310.55L415 311.3L415.4 310.85L415.8 310.63L416.2 311.19L416.6 311.29L417 310.7L417.4 311.3L417.8 310.64L418.2 310.35L418.6 311.18L419 311.29L419.4 311.29L419.8 311.3L420.2 311.3L420.6 311.24L421 311.21L421.4 311.3L421.8 310.79L422.2 311.28L422.6 310.63L423 310.66L423.4 310.69L423.8 311.18L424.2 311.29L424.6 311.3L425 310.86L425.4 311.19L425.8 311.28L426.2 311.3L426.6 311.1L427 310.76L427.4 310.47L427.8 311.15L428.2 311.3L428.6 310.96L429 311.01L429.4 310.79L429.8 309.8L430.2 310.06L430.6 310.82L431 310.48L431.4 311.28L431.8 311.29L432.2 311.29L432.6 310.85L433 310.73L433.4 311.3L433.8 311.04L434.2 311.28L434.6 311.29L435 311.2L435.4 310.78L435.8 311.2L436.2 310.48L436.6 311.29L437 311.29L437.4 311.09L437.8 311.11L438.2 310.41L438.6 311.17L439 310.87L439.4 311.27L439.8 311.02L440.2 311.3L440.6 311.03L441 311.24L441.4 311.29L441.8 311.3L442.2 310.6L442.6 311.3L443 310.98L443.4 311.17L443.8 311.27L444.2 311.27L444.6 311.13L445 311.29L445.4 310.45L445.8 310.87L446.2 311L446.6 311.03L447 310.83L447.4 311.29L447.8 311.3L448.2 311.1L448.6 311.28L449 310.87L449.4 311.28L449.8 310.48L450.2 311.28L450.6 311.24L451 310.95L451.4 311.27L451.8 311.3L452.2 310.31L452.6 310.41L453 311.3L453.4 310.47L453.8 310.68L454.2 311.3L454.6 310.47L455 311.3L455.4 311.3L455.8 311.2L456.2 311.3L456.6 311.29L457 310.68L457.4 311.25L457.8 310.34L458.2 309.58L458.6 306.8L459 307.58L459.4 309.59L459.8 310.76L460.2 310.83L460.6 310.82L461 310.83L461.4 311.29L461.8 311.03L462.2 311.29L462.6 311.2L463 310.84L463.4 310.42L463.8 311.28L464.2 310.98L464.6 311.06L465 310.39L465.4 311.16L465.8 311.24L466.2 310.36L466.6 310.84L467 311.29L467.4 311.14L467.8 311.28L468.2 310.79L468.6 311.08L469 311.24L469.4 310.99L469.8 311.12L470.2 311.22L470.6 311.29L471 311.29L471.4 311.14L471.8 311.3L472.2 310.94L472.6 310.64L473 310.88L473.4 310.7L473.8 310.62L474.2 311.14L474.6 311.3L475 311.24L475.4 310.96L475.8 311.11L476.2 311.3L476.6 310.79L477 311.3L477.4 311.28L477.8 310.99L478.2 311.16L478.6 310.67L479 311.24L479.4 310.84L479.8 311.04L480.2 310.59L480.6 309.7L481 308.3L481.4 309.52L481.8 310.68L482.2 310.94L482.6 310.48L483 311.25L483.4 311.2L483.8 311.28L484.2 311.28L484.6 310.7L485 311.18L485.4 311.19L485.8 311.27L486.2 311.23L486.6 311.21L487 311.13L487.4 311.15L487.8 310.49L488.2 310.4L488.6 311.3L489 310.89L489.4 311.15L489.8 310.53L490.2 310.85L490.6 311.12L491 311.3L491.4 310.93L491.8 311.07L492.2 311.15L492.6 310.94L493 311.3L493.4 311.21L493.8 311.17L494.2 311L494.6 310.5L495 311.21L495.4 310.92L495.8 311.3L496.2 310.99L496.6 311.29L497 311.3L497.4 311.29L497.8 311.24L498.2 310.92L498.6 311.19L499 311.26L499.4 311.29L499.8 310.84L500.2 310.78L500.6 311.3L501 311.3L501.4 311.28L501.8 310.6L502.2 311.29L502.6 311.11L503 311.27L503.4 311.11L503.8 310.79L504.2 311.3L504.6 310.97L505 311.03L505.4 311.07L505.8 311.11L506.2 311.27L506.6 310.47L507 311.29L507.4 311.3L507.8 310.66L508.2 311.16L508.6 310.56L509 311.22L509.4 311.21L509.8 311.24L510.2 310.75L510.6 310.39L511 311.3L511.4 311.29L511.8 311.01L512.2 311.25L512.6 310.9L513 311.1L513 311.3Z" fill="#1c5c3c"/><line x1="319.6" y1="332.6" x2="514.4" y2="332.6" stroke="#2a3a32" stroke-width="0.8"/><path d="M321 332.6L321 332.02L321.4 331.94L321.8 332.59L322.2 332.59L322.6 332.48L323 332.17L323.4 332.25L323.8 331.75L324.2 332.6L324.6 332.48L325 332.56L325.4 332.38L325.8 332.6L326.2 332.56L326.6 332.6L327 331.68L327.4 332.4L327.8 332.47L328.2 331.66L328.6 332.55L329 332.52L329.4 332.46L329.8 332.6L330.2 332.6L330.6 332.57L331 332.4L331.4 332.4L331.8 332.59L332.2 332.57L332.6 332.14L333 332.56L333.4 332.5L333.8 332.57L334.2 332.01L334.6 332.57L335 332.39L335.4 332.58L335.8 332.13L336.2 332.39L336.6 332.6L337 332.21L337.4 331.97L337.8 332.19L338.2 332.6L338.6 332.48L339 331.66L339.4 332.02L339.8 332.05L340.2 332.6L340.6 332.6L341 332.31L341.4 332.58L341.8 332.59L342.2 332.35L342.6 331.72L343 332.58L343.4 331.92L343.8 332.2L344.2 332.28L344.6 332.6L345 332.19L345.4 332.49L345.8 332.55L346.2 332.43L346.6 331.61L347 332.45L347.4 332.46L347.8 332.59L348.2 332.6L348.6 332.38L349 332.55L349.4 332.55L349.8 332.38L350.2 332.42L350.6 332.6L351 331.89L351.4 332.23L351.8 332.6L352.2 332.56L352.6 332.56L353 332.2L353.4 332.19L353.8 332.36L354.2 332.23L354.6 331.55L355 331.1L355.4 331.72L355.8 332.22L356.2 332.05L356.6 332.43L357 332.54L357.4 332.36L357.8 332.49L358.2 332.57L358.6 332.26L359 332.19L359.4 332.36L359.8 332.22L360.2 332.48L360.6 331.72L361 332.15L361.4 332.23L361.8 332.45L362.2 332.1L362.6 331.78L363 332.6L363.4 331.86L363.8 332.58L364.2 332.59L364.6 332.05L365 332.6L365.4 332.58L365.8 332.6L366.2 332.18L366.6 332.59L367 331.76L367.4 332.5L367.8 332.11L368.2 332.6L368.6 332.6L369 332.59L369.4 332.6L369.8 332.06L370.2 332.59L370.6 332.6L371 332.59L371.4 332.56L371.8 332.39L372.2 332.59L372.6 332.58L373 332.59L373.4 332.58L373.8 332.58L374.2 332.51L374.6 332.39L375 332.6L375.4 332.59L375.8 332.6L376.2 332.5L376.6 332.41L377 332.3L377.4 332.51L377.8 332.59L378.2 332.34L378.6 331.9L379 332.47L379.4 331.89L379.8 332.33L380.2 332.36L380.6 332.12L381 332.16L381.4 332.08L381.8 332.57L382.2 332.59L382.6 332.57L383 332.19L383.4 331.95L383.8 330.95L384.2 330.6L384.6 331.74L385 332.33L385.4 331.89L385.8 332.19L386.2 332.56L386.6 332.46L387 332.31L387.4 332.06L387.8 332.52L388.2 332.53L388.6 332.56L389 332.4L389.4 331.61L389.8 332.59L390.2 331.96L390.6 331.96L391 332.39L391.4 332.09L391.8 332.6L392.2 332.6L392.6 332.58L393 332.42L393.4 332.31L393.8 332.59L394.2 332.43L394.6 332.32L395 332.41L395.4 331.93L395.8 331.36L396.2 331.1L396.6 331.99L397 331.85L397.4 332.58L397.8 332.33L398.2 331.69L398.6 332.6L399 332.58L399.4 332.53L399.8 332.6L400.2 332.48L400.6 332.54L401 331.96L401.4 332.53L401.8 332.6L402.2 331.68L402.6 332.59L403 332.09L403.4 331.61L403.8 332.57L404.2 332.48L404.6 332.58L405 332.6L405.4 332.53L405.8 332.6L406.2 332.41L406.6 332.51L407 332.45L407.4 332.4L407.8 332.12L408.2 331.67L408.6 332.59L409 332.49L409.4 331.77L409.8 332.6L410.2 332.26L410.6 332.6L411 332.07L411.4 332.39L411.8 331.81L412.2 332.59L412.6 332.28L413 331.97L413.4 332.6L413.8 332.6L414.2 332.46L414.6 332.51L415 332.22L415.4 332.3L415.8 332.59L416.2 332.22L416.6 332.21L417 332.12L417.4 331.71L417.8 332.35L418.2 332.52L418.6 332.55L419 332.25L419.4 332.59L419.8 332.6L420.2 332.43L420.6 332.43L421 332.37L421.4 332.06L421.8 332.6L422.2 332.6L422.6 332.55L423 332.6L423.4 332.6L423.8 331.85L424.2 332.07L424.6 331.64L425 332.39L425.4 332.35L425.8 332.2L426.2 332.16L426.6 331.74L427 332.15L427.4 332.58L427.8 332.59L428.2 332.49L428.6 331.84L429 332.6L429.4 332.6L429.8 332.46L430.2 332.6L430.6 332.47L431 331.9L431.4 332.58L431.8 332.53L432.2 332.6L432.6 332.43L433 332.58L433.4 332.6L433.8 332.48L434.2 332.59L434.6 332.08L435 332.57L435.4 332.2L435.8 332.06L436.2 332.52L436.6 332.6L437 332.43L437.4 332.47L437.8 332.08L438.2 332.56L438.6 332.6L439 332.6L439.4 331.81L439.8 331.72L440.2 332.37L440.6 332.47L441 331.74L441.4 331.95L441.8 331.72L442.2 332.6L442.6 332.13L443 332.5L443.4 332.59L443.8 332.6L444.2 332.58L444.6 332.35L445 332.11L445.4 332.56L445.8 332.37L446.2 331.89L446.6 332.6L447 331.91L447.4 332.11L447.8 332.33L448.2 332.58L448.6 332.6L449 331.89L449.4 331.96L449.8 331.64L450.2 331.74L450.6 332.26L451 332.57L451.4 332.6L451.8 332.35L452.2 332.58L452.6 332.6L453 332.24L453.4 332.49L453.8 332.28L454.2 332.45L454.6 332.27L455 332.41L455.4 332.46L455.8 332.17L456.2 332.54L456.6 332.47L457 332.43L457.4 332.56L457.8 332.36L458.2 331.87L458.6 330.1L459 330.53L459.4 331.71L459.8 332.39L460.2 332.55L460.6 332.11L461 332.18L461.4 332.53L461.8 332.4L462.2 332.56L462.6 332.49L463 332.41L463.4 332.46L463.8 332.58L464.2 332.54L464.6 332.6L465 332.56L465.4 332.59L465.8 332.31L466.2 332.16L466.6 332.25L467 332.58L467.4 332.46L467.8 332.23L468.2 332.56L468.6 332.49L469 332.6L469.4 332.58L469.8 332.34L470.2 332.27L470.6 331.91L471 332.6L471.4 331.62L471.8 332.6L472.2 332.35L472.6 332.48L473 332.6L473.4 332.6L473.8 332.17L474.2 332.54L474.6 332.34L475 331.61L475.4 332.56L475.8 332.51L476.2 332.58L476.6 332.6L477 332.17L477.4 332.59L477.8 332.45L478.2 332.59L478.6 332.6L479 332.58L479.4 332.55L479.8 332.36L480.2 332.02L480.6 331.42L481 330.6L481.4 331.22L481.8 332.01L482.2 332.15L482.6 331.71L483 331.1L483.4 331.71L483.8 331.95L484.2 332.43L484.6 331.84L485 332.26L485.4 332.5L485.8 332L486.2 332.6L486.6 332.59L487 332.28L487.4 332.56L487.8 331.92L488.2 332.46L488.6 332.59L489 332.43L489.4 332.47L489.8 332.2L490.2 332.6L490.6 332.56L491 332.54L491.4 331.99L491.8 332.3L492.2 331.83L492.6 332.6L493 332.59L493.4 331.97L493.8 332.6L494.2 332.59L494.6 332.49L495 332.28L495.4 332.58L495.8 331.74L496.2 332.35L496.6 332.59L497 332.28L497.4 332.56L497.8 332.41L498.2 332.36L498.6 332.53L499 331.9L499.4 332.56L499.8 332.14L500.2 332.18L500.6 331.93L501 332.6L501.4 332.58L501.8 332.55L502.2 332.11L502.6 331.85L503 332.6L503.4 332.57L503.8 332.36L504.2 332.49L504.6 331.82L505 332.59L505.4 332.6L505.8 332.55L506.2 332.55L506.6 332.6L507 332.54L507.4 332.53L507.8 332.59L508.2 331.84L508.6 332.21L509 332.47L509.4 332.59L509.8 332.59L510.2 332.6L510.6 332.26L511 332.51L511.4 332.22L511.8 331.8L512.2 332.59L512.6 331.6L513 332.59L513 332.6Z" fill="#1c5c3c"/><path d="M319.6 332.8V32.2H514.4V332.8" fill="none" stroke="#6a6a6a" stroke-width="0.9"/><text x="302.2" y="43.7" font-size="7.1" text-anchor="end" fill="#303030">H3K27ac</text><text x="302.2" y="52.1" font-size="7.1" text-anchor="end" fill="#303030">(EV)</text><line x1="316.6" y1="36.7" x2="319.2" y2="36.7" stroke="#555" stroke-width="0.8"/><text x="315.6" y="39.1" font-size="6.9" text-anchor="end" fill="#9a4650">50</text><text x="313" y="52.3" font-size="6.9" text-anchor="end" fill="#5a3a3a">0</text><text x="302.2" y="65.6" font-size="7.1" text-anchor="end" fill="#303030">H3K27ac</text><text x="302.2" y="74" font-size="7.1" text-anchor="end" fill="#303030">(VHL)</text><line x1="316.6" y1="58.1" x2="319.2" y2="58.1" stroke="#555" stroke-width="0.8"/><text x="315.6" y="60.5" font-size="6.9" text-anchor="end" fill="#333">50</text><text x="313" y="74.2" font-size="6.9" text-anchor="end" fill="#333">0</text><text x="302.2" y="87.3" font-size="7.1" text-anchor="end" fill="#303030">H3K27ac</text><text x="302.2" y="95" font-size="7.1" text-anchor="end" fill="#303030">(NT)</text><line x1="316.6" y1="80.8" x2="319.2" y2="80.8" stroke="#555" stroke-width="0.8"/><text x="315.6" y="83.2" font-size="6.9" text-anchor="end" fill="#9a4650">100</text><text x="313" y="96.4" font-size="6.9" text-anchor="end" fill="#5a3a3a">0</text><text x="302.2" y="109.2" font-size="7.1" text-anchor="end" fill="#303030">H3K27ac</text><text x="302.2" y="116.3" font-size="7.1" text-anchor="end" fill="#303030">(HIF2ai)</text><line x1="316.6" y1="100.7" x2="319.2" y2="100.7" stroke="#555" stroke-width="0.8"/><text x="315.6" y="103.1" font-size="6.9" text-anchor="end" fill="#333">100</text><text x="313" y="118.7" font-size="6.9" text-anchor="end" fill="#333">0</text><text x="302.2" y="130.8" font-size="7.1" text-anchor="end" fill="#303030">RNA-seq</text><text x="302.2" y="139.4" font-size="7.1" text-anchor="end" fill="#303030">(EV)</text><line x1="316.6" y1="123.1" x2="319.2" y2="123.1" stroke="#555" stroke-width="0.8"/><text x="315.6" y="125.5" font-size="6.9" text-anchor="end" fill="#4a4a8a">1,500</text><text x="311.4" y="139.4" font-size="6.9" text-anchor="end" fill="#333">1</text><text x="302.2" y="152.5" font-size="7.1" text-anchor="end" fill="#303030">RNA-seq</text><text x="302.2" y="160.7" font-size="7.1" text-anchor="end" fill="#303030">(VHL)</text><line x1="316.6" y1="144.6" x2="319.2" y2="144.6" stroke="#555" stroke-width="0.8"/><text x="315.6" y="147" font-size="6.9" text-anchor="end" fill="#333">1,500</text><text x="311.4" y="161.1" font-size="6.9" text-anchor="end" fill="#333">1</text><text x="302.2" y="175.2" font-size="7.1" text-anchor="end" fill="#303030">RNA-seq</text><text x="302.2" y="182.9" font-size="7.1" text-anchor="end" fill="#303030">(NT)</text><line x1="316.6" y1="167.1" x2="319.2" y2="167.1" stroke="#555" stroke-width="0.8"/><text x="315.6" y="169.5" font-size="6.9" text-anchor="end" fill="#4a4a8a">1,000</text><text x="311.4" y="183.8" font-size="6.9" text-anchor="end" fill="#333">1</text><text x="302.2" y="197" font-size="7.1" text-anchor="end" fill="#303030">RNA-seq</text><text x="302.2" y="204.2" font-size="7.1" text-anchor="end" fill="#303030">(HIF2ai)</text><line x1="316.6" y1="188.4" x2="319.2" y2="188.4" stroke="#555" stroke-width="0.8"/><text x="315.6" y="190.8" font-size="6.9" text-anchor="end" fill="#333">1,000</text><text x="311.4" y="204.7" font-size="6.9" text-anchor="end" fill="#333">1</text><text x="302.2" y="218.6" font-size="7.1" text-anchor="end" fill="#303030">HIF2&#945;</text><line x1="316.6" y1="209.6" x2="319.2" y2="209.6" stroke="#555" stroke-width="0.8"/><text x="315.6" y="212" font-size="6.9" text-anchor="end" fill="#2e6a50">500</text><text x="313" y="226.1" font-size="6.9" text-anchor="end" fill="#2e6a50">0</text><text x="302.2" y="240.1" font-size="7.1" text-anchor="end" fill="#303030">HIF1&#945;</text><line x1="316.6" y1="231" x2="319.2" y2="231" stroke="#555" stroke-width="0.8"/><text x="315.6" y="233.4" font-size="6.9" text-anchor="end" fill="#2e6a50">500</text><text x="313" y="247.5" font-size="6.9" text-anchor="end" fill="#2e6a50">0</text><text x="302.2" y="262.3" font-size="7.1" text-anchor="end" fill="#303030">HIF1b</text><line x1="316.6" y1="252.1" x2="319.2" y2="252.1" stroke="#555" stroke-width="0.8"/><text x="315.6" y="254.5" font-size="6.9" text-anchor="end" fill="#2e6a50">500</text><text x="313" y="268.6" font-size="6.9" text-anchor="end" fill="#2e6a50">0</text><text x="302.2" y="284.3" font-size="7.1" text-anchor="end" fill="#303030">c-Jun</text><line x1="316.6" y1="273.6" x2="319.2" y2="273.6" stroke="#555" stroke-width="0.8"/><text x="315.6" y="276" font-size="6.9" text-anchor="end" fill="#2e6a50">100</text><text x="313" y="290.1" font-size="6.9" text-anchor="end" fill="#2e6a50">0</text><text x="302.2" y="306.3" font-size="7.1" text-anchor="end" fill="#303030">ETS1</text><line x1="316.6" y1="294.9" x2="319.2" y2="294.9" stroke="#555" stroke-width="0.8"/><text x="315.6" y="297.3" font-size="6.9" text-anchor="end" fill="#2e6a50">100</text><text x="313" y="311.4" font-size="6.9" text-anchor="end" fill="#2e6a50">0</text><text x="302.2" y="328" font-size="7.1" text-anchor="end" fill="#303030">NF-&#954;B</text><line x1="316.6" y1="316.2" x2="319.2" y2="316.2" stroke="#555" stroke-width="0.8"/><text x="315.6" y="318.6" font-size="6.9" text-anchor="end" fill="#2e6a50">100</text><text x="313" y="332.7" font-size="6.9" text-anchor="end" fill="#2e6a50">0</text><text x="306.3" y="20.4" font-size="7.1" text-anchor="start" fill="#333">chr8:28,192,829-28,284,799</text><text x="405.8" y="21" font-size="7.3" text-anchor="start" fill="#222" font-style="italic">ZNF395</text><line x1="320.8" y1="28.7" x2="336.9" y2="28.7" stroke="#1c1c6c" stroke-width="1.35"/><rect x="326.4" y="25.9" width="3.1" height="5.6" fill="#1c1c6c"/><path d="M336.9 26.2V31.2M334.8 27.0L336.9 28.7L334.8 30.4M322.2 27.3L320.8 28.7L322.2 30.1" stroke="#1c1c6c" stroke-width="0.9" fill="none"/><line x1="341" y1="28.7" x2="383" y2="28.7" stroke="#1c1c6c" stroke-width="1.35"/><rect x="341" y="26.8" width="7.6" height="3.9" fill="#1c1c6c"/><rect x="348.7" y="25.8" width="1.3" height="5.8" fill="#1c1c6c"/><rect x="350.59999999999997" y="25.8" width="1.3" height="5.8" fill="#1c1c6c"/><rect x="352.7" y="25.8" width="1.3" height="5.8" fill="#1c1c6c"/><rect x="356.0" y="25.8" width="1.3" height="5.8" fill="#1c1c6c"/><rect x="363.79999999999995" y="25.8" width="1.3" height="5.8" fill="#1c1c6c"/><rect x="370.2" y="25.8" width="1.3" height="5.8" fill="#1c1c6c"/><rect x="373.0" y="25.8" width="1.3" height="5.8" fill="#1c1c6c"/><line x1="383" y1="28.7" x2="404" y2="28.7" stroke="#2e9a58" stroke-width="1.35"/><path d="M384.6 27.3L383.3 28.7L384.6 30.1M391.3 27.3L390 28.7L391.3 30.1M405.1 27.3L403.8 28.7L405.1 30.1" stroke="#2e9a58" stroke-width="0.8" fill="none"/><line x1="404" y1="28.7" x2="427.7" y2="28.7" stroke="#1c1c6c" stroke-width="1.35"/><rect x="425.4" y="25.9" width="2.4" height="5.6" fill="#1c1c6c"/><path d="M424.4 23.8L426.6 22.2V25.4Z" fill="#222"/><line x1="427.3" y1="22.3" x2="427.3" y2="25.3" stroke="#222" stroke-width="0.7"/><line x1="488.8" y1="28.7" x2="498.8" y2="28.7" stroke="#2e9a58" stroke-width="1.35"/><path d="M489.2 26.6V30.8M498.4 26.6V30.8M491.1 27.3L489.8 28.7L491.1 30.1" stroke="#2e9a58" stroke-width="0.9" fill="none"/><rect x="380.0" y="335.1" width="8.8" height="2.9" fill="#111"/><g stroke="#2a2a2a" stroke-width="0.85" fill="none"><path d="M382.3 341.6L388.4 351.6M387.8 341.4L382.4 351.6"/><circle cx="382.1" cy="353.5" r="1.9"/><circle cx="389.1" cy="353.4" r="1.9"/></g><text x="456.8" y="343.6" font-size="7.3" text-anchor="start" fill="#303030">SE</text><text x="0.4" y="457.5" font-size="10.6" font-weight="bold" fill="#111">E</text><line x1="23.1" y1="467.4" x2="23.1" y2="539.8" stroke="#707070" stroke-width="0.8"/><line x1="23.1" y1="539.8" x2="75.6" y2="539.8" stroke="#707070" stroke-width="0.8"/><line x1="20.9" y1="539.8" x2="23.1" y2="539.8" stroke="#707070" stroke-width="0.7"/><text x="20.8" y="541.9" font-size="7.3" text-anchor="end" fill="#303030">0</text><line x1="20.9" y1="527.93" x2="23.1" y2="527.93" stroke="#707070" stroke-width="0.7"/><text x="20.8" y="530.03" font-size="7.3" text-anchor="end" fill="#303030">0.2</text><line x1="20.9" y1="516.06" x2="23.1" y2="516.06" stroke="#707070" stroke-width="0.7"/><text x="20.8" y="518.16" font-size="7.3" text-anchor="end" fill="#303030">0.4</text><line x1="20.9" y1="504.19" x2="23.1" y2="504.19" stroke="#707070" stroke-width="0.7"/><text x="20.8" y="506.29" font-size="7.3" text-anchor="end" fill="#303030">0.6</text><line x1="20.9" y1="492.32" x2="23.1" y2="492.32" stroke="#707070" stroke-width="0.7"/><text x="20.8" y="494.42" font-size="7.3" text-anchor="end" fill="#303030">0.8</text><line x1="20.9" y1="480.45" x2="23.1" y2="480.45" stroke="#707070" stroke-width="0.7"/><text x="20.8" y="482.55" font-size="7.3" text-anchor="end" fill="#303030">1.0</text><line x1="20.9" y1="468.58" x2="23.1" y2="468.58" stroke="#707070" stroke-width="0.7"/><text x="20.8" y="470.68" font-size="7.3" text-anchor="end" fill="#303030">1.2</text><rect x="27.7" y="480.45" width="4.2" height="59.35" fill="#1a1a1a"/><rect x="32.7" y="528.52" width="4.2" height="11.28" fill="#d0222e"/><line x1="34.8" y1="528.52" x2="34.8" y2="522" stroke="#2a2a2a" stroke-width="0.6"/><line x1="33.4" y1="522" x2="36.2" y2="522" stroke="#2a2a2a" stroke-width="0.6"/><text x="34.8" y="521.44" font-size="6.3" text-anchor="middle" fill="#333">*</text><rect x="45" y="480.45" width="4.1" height="59.35" fill="#1a1a1a"/><rect x="50" y="519.62" width="4.1" height="20.18" fill="#d0222e"/><line x1="52.05" y1="519.62" x2="52.05" y2="517.84" stroke="#2a2a2a" stroke-width="0.6"/><line x1="50.65" y1="517.84" x2="53.45" y2="517.84" stroke="#2a2a2a" stroke-width="0.6"/><text x="52.05" y="517.29" font-size="6.3" text-anchor="middle" fill="#333">*</text><rect x="62.3" y="480.45" width="4.3" height="59.35" fill="#1a1a1a"/><rect x="67.5" y="505.38" width="4.3" height="34.42" fill="#d0222e"/><line x1="69.65" y1="505.38" x2="69.65" y2="500.63" stroke="#2a2a2a" stroke-width="0.6"/><line x1="68.25" y1="500.63" x2="71.05" y2="500.63" stroke="#2a2a2a" stroke-width="0.6"/><text x="69.65" y="500.07" font-size="6.3" text-anchor="middle" fill="#333">*</text><text transform="translate(33.9,544) rotate(-90)" font-size="7.1" text-anchor="end" fill="#303030">VEGFA</text><text transform="translate(51.3,544) rotate(-90)" font-size="7.1" text-anchor="end" fill="#303030">SLC2A1</text><text transform="translate(69,544) rotate(-90)" font-size="7.1" text-anchor="end" fill="#303030">ZNF395</text><rect x="27.5" y="466" width="4" height="4" fill="#1a1a1a"/><text x="32.9" y="470.1" font-size="7.1" text-anchor="start" fill="#303030">EV</text><rect x="27.5" y="473" width="4" height="4.8" fill="#d0222e"/><text x="32.9" y="477.9" font-size="7.1" text-anchor="start" fill="#303030">VHL</text><text transform="translate(6.7,502.7) rotate(-90)" font-size="7.3" text-anchor="middle" fill="#303030">Relative gene expression</text><line x1="111.25" y1="467.4" x2="111.25" y2="540" stroke="#707070" stroke-width="0.8"/><line x1="111.25" y1="540" x2="161.9" y2="540" stroke="#707070" stroke-width="0.8"/><line x1="109.05" y1="540" x2="111.25" y2="540" stroke="#707070" stroke-width="0.7"/><text x="108.9" y="542.1" font-size="7.3" text-anchor="end" fill="#303030">0</text><line x1="109.05" y1="528.14" x2="111.25" y2="528.14" stroke="#707070" stroke-width="0.7"/><text x="108.9" y="530.24" font-size="7.3" text-anchor="end" fill="#303030">0.2</text><line x1="109.05" y1="516.28" x2="111.25" y2="516.28" stroke="#707070" stroke-width="0.7"/><text x="108.9" y="518.38" font-size="7.3" text-anchor="end" fill="#303030">0.4</text><line x1="109.05" y1="504.42" x2="111.25" y2="504.42" stroke="#707070" stroke-width="0.7"/><text x="108.9" y="506.52" font-size="7.3" text-anchor="end" fill="#303030">0.6</text><line x1="109.05" y1="492.56" x2="111.25" y2="492.56" stroke="#707070" stroke-width="0.7"/><text x="108.9" y="494.66" font-size="7.3" text-anchor="end" fill="#303030">0.8</text><line x1="109.05" y1="480.7" x2="111.25" y2="480.7" stroke="#707070" stroke-width="0.7"/><text x="108.9" y="482.8" font-size="7.3" text-anchor="end" fill="#303030">1.0</text><line x1="109.05" y1="468.84" x2="111.25" y2="468.84" stroke="#707070" stroke-width="0.7"/><text x="108.9" y="470.94" font-size="7.3" text-anchor="end" fill="#303030">1.2</text><rect x="116" y="480.7" width="4.1" height="59.3" fill="#1a1a1a"/><rect x="120.3" y="529.33" width="4.1" height="10.67" fill="#d0222e"/><line x1="122.35" y1="529.33" x2="122.35" y2="526.36" stroke="#2a2a2a" stroke-width="0.6"/><line x1="120.95" y1="526.36" x2="123.75" y2="526.36" stroke="#2a2a2a" stroke-width="0.6"/><text x="122.35" y="525.22" font-size="6.3" text-anchor="middle" fill="#333">*</text><rect x="132.8" y="480.7" width="4.1" height="59.3" fill="#1a1a1a"/><rect x="137.1" y="523.99" width="4.1" height="16.01" fill="#d0222e"/><line x1="139.15" y1="523.99" x2="139.15" y2="522.21" stroke="#2a2a2a" stroke-width="0.6"/><line x1="137.75" y1="522.21" x2="140.55" y2="522.21" stroke="#2a2a2a" stroke-width="0.6"/><text x="139.15" y="521.07" font-size="6.3" text-anchor="middle" fill="#333">*</text><rect x="149.4" y="480.7" width="4.1" height="59.3" fill="#1a1a1a"/><rect x="154" y="518.06" width="4.1" height="21.94" fill="#d0222e"/><line x1="156.05" y1="518.06" x2="156.05" y2="515.69" stroke="#2a2a2a" stroke-width="0.6"/><line x1="154.65" y1="515.69" x2="157.45" y2="515.69" stroke="#2a2a2a" stroke-width="0.6"/><text x="156.05" y="514.54" font-size="6.3" text-anchor="middle" fill="#333">*</text><text transform="translate(121.1,543.6) rotate(-90)" font-size="7.1" text-anchor="end" fill="#303030">VEGFA</text><text transform="translate(138.8,543.6) rotate(-90)" font-size="7.1" text-anchor="end" fill="#303030">SLC2A1</text><text transform="translate(155.6,543.6) rotate(-90)" font-size="7.1" text-anchor="end" fill="#303030">ZNF395</text><rect x="114.4" y="464.7" width="4" height="4" fill="#1a1a1a"/><text x="119.8" y="468.8" font-size="7.1" text-anchor="start" fill="#303030">NT</text><rect x="114.4" y="471.7" width="4" height="4.8" fill="#d0222e"/><text x="119.8" y="476.6" font-size="7.1" text-anchor="start" fill="#303030"><tspan font-style="italic">HIF2a</tspan> siRNA</text><text transform="translate(94.3,504.3) rotate(-90)" font-size="7.0" text-anchor="middle" fill="#303030">Relative gene expression</text><text x="176.6" y="457.7" font-size="10.6" font-weight="bold" fill="#111">F</text><line x1="213.1" y1="466.8" x2="213.1" y2="540" stroke="#707070" stroke-width="0.8"/><line x1="213.1" y1="540" x2="260" y2="540" stroke="#707070" stroke-width="0.8"/><line x1="210.9" y1="540" x2="213.1" y2="540" stroke="#707070" stroke-width="0.7"/><text x="210.2" y="542" font-size="7.3" text-anchor="end" fill="#303030">0</text><line x1="210.9" y1="525.45" x2="213.1" y2="525.45" stroke="#707070" stroke-width="0.7"/><text x="210.2" y="527.45" font-size="7.3" text-anchor="end" fill="#303030">0.005</text><line x1="210.9" y1="510.9" x2="213.1" y2="510.9" stroke="#707070" stroke-width="0.7"/><text x="210.2" y="512.9" font-size="7.3" text-anchor="end" fill="#303030">0.010</text><line x1="210.9" y1="496.35" x2="213.1" y2="496.35" stroke="#707070" stroke-width="0.7"/><text x="210.2" y="498.35" font-size="7.3" text-anchor="end" fill="#303030">0.015</text><line x1="210.9" y1="481.8" x2="213.1" y2="481.8" stroke="#707070" stroke-width="0.7"/><text x="210.2" y="483.8" font-size="7.3" text-anchor="end" fill="#303030">0.020</text><line x1="210.9" y1="467.25" x2="213.1" y2="467.25" stroke="#707070" stroke-width="0.7"/><text x="210.2" y="469.25" font-size="7.3" text-anchor="end" fill="#303030">0.025</text><rect x="216" y="538.54" width="3.5" height="1.46" fill="#1a1a1a"/><rect x="219.5" y="537.67" width="3.5" height="2.33" fill="#c4223e"/><rect x="227.5" y="532.43" width="3.7" height="7.57" fill="#1a1a1a"/><line x1="229.35" y1="532.43" x2="229.35" y2="531.56" stroke="#2a2a2a" stroke-width="0.6"/><line x1="227.95" y1="531.56" x2="230.75" y2="531.56" stroke="#2a2a2a" stroke-width="0.6"/><rect x="231.2" y="537.09" width="3.8" height="2.91" fill="#c4223e"/><text x="233.1" y="537.2" font-size="6.3" text-anchor="middle" fill="#333">*</text><rect x="240.2" y="531.27" width="3.6" height="8.73" fill="#1a1a1a"/><line x1="242" y1="531.27" x2="242" y2="530.11" stroke="#2a2a2a" stroke-width="0.6"/><line x1="240.6" y1="530.11" x2="243.4" y2="530.11" stroke="#2a2a2a" stroke-width="0.6"/><rect x="243.8" y="536.22" width="3.7" height="3.78" fill="#c4223e"/><text x="245.65" y="531.96" font-size="6.3" text-anchor="middle" fill="#333">*</text><rect x="252.2" y="492.57" width="3.8" height="47.43" fill="#1a1a1a"/><line x1="254.1" y1="492.57" x2="254.1" y2="478.89" stroke="#2a2a2a" stroke-width="0.6"/><line x1="252.7" y1="478.89" x2="255.5" y2="478.89" stroke="#2a2a2a" stroke-width="0.6"/><rect x="256" y="535.05" width="3.8" height="4.95" fill="#c4223e"/><text x="257.9" y="533.12" font-size="6.3" text-anchor="middle" fill="#333">*</text><text transform="translate(221.3,542.3) rotate(-90)" font-size="7.1" text-anchor="end" fill="#303030">No enhancer</text><text transform="translate(233.9,542.3) rotate(-90)" font-size="7.1" text-anchor="end" fill="#303030">VEGFA-E</text><text transform="translate(244.3,542.3) rotate(-90)" font-size="7.1" text-anchor="end" fill="#303030">SLC2A1-E</text><text transform="translate(255.8,542.3) rotate(-90)" font-size="7.1" text-anchor="end" fill="#303030">ZNF395-E</text><rect x="217.2" y="464.4" width="4" height="4" fill="#1a1a1a"/><text x="222.6" y="468.5" font-size="7.1" text-anchor="start" fill="#303030">EV</text><rect x="217.2" y="471.4" width="4" height="4.8" fill="#c4223e"/><text x="222.6" y="476.3" font-size="7.1" text-anchor="start" fill="#303030">VHL</text><text transform="translate(186,502.4) rotate(-90)" font-size="7.2" text-anchor="middle" fill="#303030">Luciferase/Renilla signal</text><line x1="310.6" y1="465" x2="310.6" y2="539.8" stroke="#707070" stroke-width="0.8"/><line x1="310.6" y1="539.8" x2="358.8" y2="539.8" stroke="#707070" stroke-width="0.8"/><line x1="308.4" y1="539.8" x2="310.6" y2="539.8" stroke="#707070" stroke-width="0.7"/><text x="307.5" y="542.7" font-size="7.3" text-anchor="end" fill="#303030">0</text><line x1="308.4" y1="521.3" x2="310.6" y2="521.3" stroke="#707070" stroke-width="0.7"/><text x="307.5" y="524.2" font-size="7.3" text-anchor="end" fill="#303030">0.005</text><line x1="308.4" y1="502.8" x2="310.6" y2="502.8" stroke="#707070" stroke-width="0.7"/><text x="307.5" y="505.7" font-size="7.3" text-anchor="end" fill="#303030">0.010</text><line x1="308.4" y1="484.3" x2="310.6" y2="484.3" stroke="#707070" stroke-width="0.7"/><text x="307.5" y="487.2" font-size="7.3" text-anchor="end" fill="#303030">0.015</text><line x1="308.4" y1="465.8" x2="310.6" y2="465.8" stroke="#707070" stroke-width="0.7"/><text x="307.5" y="468.7" font-size="7.3" text-anchor="end" fill="#303030">0.020</text><rect x="313.5" y="538.32" width="3.5" height="1.48" fill="#1a1a1a"/><rect x="317" y="536.84" width="3.5" height="2.96" fill="#c4223e"/><rect x="325.7" y="530.92" width="3.4" height="8.88" fill="#1a1a1a"/><rect x="329.1" y="536.1" width="3.5" height="3.7" fill="#c4223e"/><text x="330.85" y="536" font-size="6.3" text-anchor="middle" fill="#333">*</text><rect x="337.2" y="532.4" width="3.4" height="7.4" fill="#1a1a1a"/><rect x="340.6" y="536.47" width="3.5" height="3.33" fill="#c4223e"/><text x="342.35" y="536" font-size="6.3" text-anchor="middle" fill="#333">*</text><rect x="349.1" y="492.81" width="3.6" height="46.99" fill="#1a1a1a"/><line x1="350.9" y1="492.81" x2="350.9" y2="478.01" stroke="#2a2a2a" stroke-width="0.6"/><line x1="349.5" y1="478.01" x2="352.3" y2="478.01" stroke="#2a2a2a" stroke-width="0.6"/><rect x="352.7" y="536.1" width="3.6" height="3.7" fill="#c4223e"/><text x="354.5" y="535.63" font-size="6.3" text-anchor="middle" fill="#333">*</text><text transform="translate(319.4,543.6) rotate(-90)" font-size="7.1" text-anchor="end" fill="#303030">No enhancer</text><text transform="translate(330.4,543.6) rotate(-90)" font-size="7.1" text-anchor="end" fill="#303030">VEGFA-E</text><text transform="translate(342.3,543.6) rotate(-90)" font-size="7.1" text-anchor="end" fill="#303030">SLC2A1-E</text><text transform="translate(353.8,543.6) rotate(-90)" font-size="7.1" text-anchor="end" fill="#303030">ZNF395-E</text><rect x="314.8" y="463.7" width="4" height="4" fill="#1a1a1a"/><text x="320.2" y="467.8" font-size="7.1" text-anchor="start" fill="#303030">NT</text><rect x="314.8" y="470.7" width="4" height="4.8" fill="#c4223e"/><text x="320.2" y="475.6" font-size="7.1" text-anchor="start" fill="#303030"><tspan font-style="italic">HIF2a</tspan> siRNA</text><text transform="translate(286.4,502.4) rotate(-90)" font-size="7.2" text-anchor="middle" fill="#303030">Luciferase/Renilla signal</text><text x="380.8" y="457.6" font-size="10.6" font-weight="bold" fill="#111">G</text><text x="392.2" y="470" font-size="7.1" text-anchor="start" fill="#303030">CRISPR deletion of <tspan font-style="italic">ZNF395</tspan> enhancer</text><line x1="435.7" y1="480.5" x2="435.7" y2="553.8" stroke="#707070" stroke-width="0.8"/><line x1="435.7" y1="553.8" x2="512.4" y2="553.8" stroke="#707070" stroke-width="0.8"/><line x1="434" y1="553.8" x2="435.7" y2="553.8" stroke="#707070" stroke-width="0.7"/><line x1="434" y1="543.43" x2="435.7" y2="543.43" stroke="#707070" stroke-width="0.7"/><line x1="434" y1="533.06" x2="435.7" y2="533.06" stroke="#707070" stroke-width="0.7"/><line x1="434" y1="522.69" x2="435.7" y2="522.69" stroke="#707070" stroke-width="0.7"/><line x1="434" y1="512.32" x2="435.7" y2="512.32" stroke="#707070" stroke-width="0.7"/><line x1="434" y1="501.95" x2="435.7" y2="501.95" stroke="#707070" stroke-width="0.7"/><line x1="434" y1="491.58" x2="435.7" y2="491.58" stroke="#707070" stroke-width="0.7"/><line x1="434" y1="481.21" x2="435.7" y2="481.21" stroke="#707070" stroke-width="0.7"/><text x="430.4" y="484" font-size="7.1" text-anchor="end" fill="#303030">0.0035</text><text x="430.4" y="496" font-size="7.1" text-anchor="end" fill="#303030">0.0030</text><text x="430.4" y="508.1" font-size="7.1" text-anchor="end" fill="#303030">0.0025</text><text x="430.4" y="520" font-size="7.1" text-anchor="end" fill="#303030">0.0020</text><text x="430.4" y="532.1" font-size="7.1" text-anchor="end" fill="#303030">0.0015</text><text x="430.4" y="544.1" font-size="7.1" text-anchor="end" fill="#303030">0.0005</text><text x="430.4" y="555.8" font-size="7.1" text-anchor="end" fill="#303030">0</text><rect x="437.8" y="530.57" width="6.3" height="23.23" fill="#1a1a1a"/><line x1="440.95" y1="530.57" x2="440.95" y2="528.08" stroke="#333" stroke-width="0.6"/><line x1="439.55" y1="528.08" x2="442.35" y2="528.08" stroke="#333" stroke-width="0.6"/><rect x="447.3" y="496.25" width="6.3" height="57.55" fill="#1a1a1a"/><line x1="450.45" y1="496.25" x2="450.45" y2="492.24" stroke="#333" stroke-width="0.6"/><line x1="449.05" y1="492.24" x2="451.85" y2="492.24" stroke="#333" stroke-width="0.6"/><rect x="457" y="503.75" width="6.3" height="50.05" fill="#1a1a1a"/><line x1="460.15" y1="503.75" x2="460.15" y2="496.91" stroke="#333" stroke-width="0.6"/><line x1="458.75" y1="496.91" x2="461.55" y2="496.91" stroke="#333" stroke-width="0.6"/><rect x="466.2" y="522.69" width="6.3" height="31.11" fill="#1a1a1a"/><line x1="469.35" y1="522.69" x2="469.35" y2="519.37" stroke="#333" stroke-width="0.6"/><line x1="467.95" y1="519.37" x2="470.75" y2="519.37" stroke="#333" stroke-width="0.6"/><rect x="476.1" y="542.81" width="6.3" height="10.99" fill="#e0242a"/><line x1="479.25" y1="542.81" x2="479.25" y2="540.32" stroke="#333" stroke-width="0.6"/><line x1="477.85" y1="540.32" x2="480.65" y2="540.32" stroke="#333" stroke-width="0.6"/><rect x="485.1" y="544.26" width="6.3" height="9.54" fill="#e0242a"/><line x1="488.25" y1="544.26" x2="488.25" y2="542.6" stroke="#333" stroke-width="0.6"/><line x1="486.85" y1="542.6" x2="489.65" y2="542.6" stroke="#333" stroke-width="0.6"/><rect x="495.3" y="539.9" width="6.3" height="13.9" fill="#e0242a"/><line x1="498.45" y1="539.9" x2="498.45" y2="537.42" stroke="#333" stroke-width="0.6"/><line x1="497.05" y1="537.42" x2="499.85" y2="537.42" stroke="#333" stroke-width="0.6"/><rect x="504.7" y="541.98" width="6.3" height="11.82" fill="#e0242a"/><line x1="507.85" y1="541.98" x2="507.85" y2="539.7" stroke="#333" stroke-width="0.6"/><line x1="506.45" y1="539.7" x2="509.25" y2="539.7" stroke="#333" stroke-width="0.6"/><path d="M438.5 483.8H470.6M460.6 483.8V476.7H495.3V531.0M477.3 533.4H509.7" stroke="#8a8a8a" stroke-width="0.9" fill="none"/><text x="476.3" y="478.4" font-size="7" text-anchor="middle" fill="#333">*</text><text transform="translate(442.4,556) rotate(-90)" font-size="7.1" text-anchor="end" fill="#303030">+/+ C1</text><text transform="translate(451.9,556) rotate(-90)" font-size="7.1" text-anchor="end" fill="#303030">+/+ C2</text><text transform="translate(461.6,556) rotate(-90)" font-size="7.1" text-anchor="end" fill="#303030">+/+ C3</text><text transform="translate(470.8,556) rotate(-90)" font-size="7.1" text-anchor="end" fill="#303030">+/+ C4</text><text transform="translate(480.7,556) rotate(-90)" font-size="7.1" text-anchor="end" fill="#303030">&#8722;/&#8722; C1</text><text transform="translate(489.7,556) rotate(-90)" font-size="7.1" text-anchor="end" fill="#303030">&#8722;/&#8722; C2</text><text transform="translate(499.9,556) rotate(-90)" font-size="7.1" text-anchor="end" fill="#303030">&#8722;/&#8722; C3</text><text transform="translate(509.3,556) rotate(-90)" font-size="7.1" text-anchor="end" fill="#303030">&#8722;/&#8722; C4</text><text transform="translate(394.9,522.3) rotate(-90)" font-size="7.1" text-anchor="middle" fill="#303030"><tspan font-style="italic">ZNF395</tspan> gene expression</text><text transform="translate(403.7,522.5) rotate(-90)" font-size="7.1" text-anchor="middle" fill="#303030">normalized to <tspan font-style="italic">ACTB</tspan></text></g></svg></body></html>
